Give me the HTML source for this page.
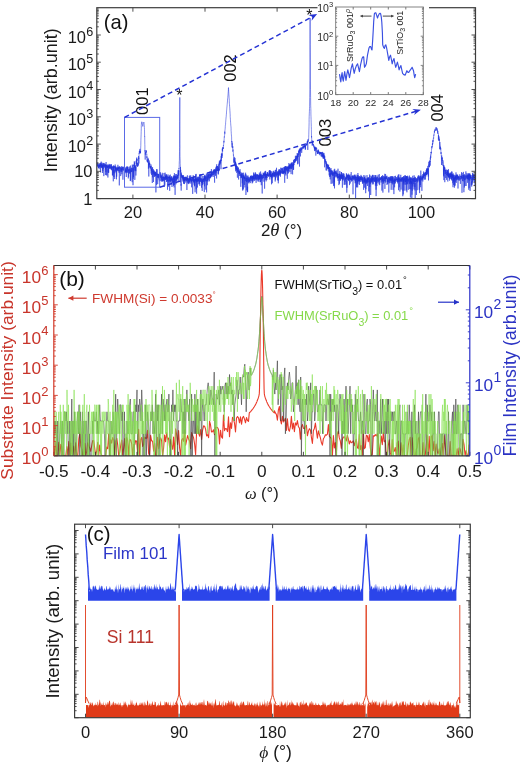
<!DOCTYPE html>
<html><head><meta charset="utf-8"><title>XRD figure</title>
<style>html,body{margin:0;padding:0;background:#fff;} svg{display:block;}</style>
</head><body>
<svg width="520" height="763" viewBox="0 0 520 763" font-family='"Liberation Sans", Arial, Helvetica, sans-serif'>
<rect width="520" height="763" fill="#fff"/>
<clipPath id="ca"><rect x="96.8" y="7.7" width="378.7" height="190.9"/></clipPath>
<g clip-path="url(#ca)">
<polyline points="96.8,164.7 96.9,164.2 97,165.2 97.1,166.2 97.2,165.5 97.3,166.4 97.3,164.6 97.4,162.4 97.5,165.6 97.6,165.8 97.7,163.9 97.8,164.1 97.9,164.6 98,166.3 98.1,164.8 98.2,163.6 98.2,167.1 98.3,165.6 98.4,168 98.5,167 98.6,167.9 98.7,165.2 98.8,167 98.9,164.3 99,164.6 99.1,165.2 99.1,169.2 99.2,165.8 99.3,164.9 99.4,164.7 99.5,167.5 99.6,165.7 99.7,166.6 99.8,166.3 99.9,163.1 100,166.3 100,165 100.1,163.4 100.2,166 100.3,165.2 100.4,164.8 100.5,172.4 100.6,167.1 100.7,164.9 100.8,162.7 100.9,167.7 100.9,163.6 101,164.9 101.1,166.2 101.2,161.6 101.3,163.8 101.4,167.2 101.5,165 101.6,164.1 101.7,165.5 101.8,167.5 101.8,165.3 101.9,168.1 102,162.7 102.1,166.4 102.2,164.9 102.3,166.1 102.4,173 102.5,167.3 102.6,166.3 102.7,165.6 102.8,171 102.8,163.3 102.9,167.6 103,166.7 103.1,164.3 103.2,168.9 103.3,166.2 103.4,165.6 103.5,163.3 103.6,164.3 103.7,166 103.7,166.1 103.8,176.1 103.9,162.9 104,166.3 104.1,166.1 104.2,164.9 104.3,165.8 104.4,165.9 104.5,167.6 104.6,165.6 104.6,166.4 104.7,163.6 104.8,164.5 104.9,165.7 105,164.5 105.1,166.3 105.2,163.9 105.3,165.8 105.4,175 105.5,168.1 105.5,165.2 105.6,168.8 105.7,169.4 105.8,166.4 105.9,172 106,165.6 106.1,162 106.2,167.4 106.3,175.2 106.4,175.1 106.4,165.1 106.5,166.3 106.6,166.4 106.7,164.8 106.8,165.1 106.9,167.9 107,175.5 107.1,166 107.2,168 107.3,165.7 107.3,167.7 107.4,164.5 107.5,165.9 107.6,166.1 107.7,167.3 107.8,166.5 107.9,177.5 108,168.3 108.1,165.7 108.2,170.1 108.3,172.1 108.3,169.5 108.4,172.8 108.5,167.9 108.6,165 108.7,172.8 108.8,169.2 108.9,164.3 109,163.9 109.1,166.6 109.2,167 109.2,166.8 109.3,168.3 109.4,164.6 109.5,167.6 109.6,166.7 109.7,168.1 109.8,167.8 109.9,169 110,164.5 110.1,167 110.1,165 110.2,166.8 110.3,168 110.4,167.4 110.5,167.8 110.6,166.8 110.7,167.5 110.8,167.4 110.9,169.4 111,168.4 111,164 111.1,168.2 111.2,168.9 111.3,166.4 111.4,164.5 111.5,169.7 111.6,167.5 111.7,168.2 111.8,170.3 111.9,165.8 111.9,167.2 112,167 112.1,168.6 112.2,166.4 112.3,168.2 112.4,175.4 112.5,169.3 112.6,169.5 112.7,175.3 112.8,174.4 112.8,166.8 112.9,167.4 113,168.2 113.1,168.3 113.2,166.3 113.3,181.3 113.4,167.8 113.5,167.5 113.6,165.4 113.7,173.2 113.8,166.9 113.8,168.6 113.9,177 114,165.9 114.1,165.9 114.2,167.9 114.3,166.7 114.4,166.3 114.5,166.2 114.6,166.1 114.7,179 114.7,170.4 114.8,170.1 114.9,173.2 115,167 115.1,166.3 115.2,164.5 115.3,165.2 115.4,170 115.5,171.1 115.6,166.5 115.6,169.9 115.7,168.1 115.8,166.5 115.9,171.1 116,172 116.1,167.6 116.2,168.1 116.3,168.6 116.4,168.1 116.5,179.3 116.5,171 116.6,168.6 116.7,176.7 116.8,171.3 116.9,167.4 117,168.4 117.1,167.6 117.2,170.2 117.3,169.6 117.4,170.3 117.4,170.1 117.5,168.1 117.6,169.9 117.7,167.8 117.8,167.9 117.9,164.8 118,171.1 118.1,166.9 118.2,168.8 118.3,168.6 118.3,171.3 118.4,169.5 118.5,167.3 118.6,168.9 118.7,168.6 118.8,169.3 118.9,166.6 119,168.8 119.1,172.9 119.2,170.1 119.3,172.5 119.3,185.4 119.4,169.9 119.5,166.4 119.6,168.8 119.7,171.1 119.8,170.7 119.9,166.9 120,168.7 120.1,168.9 120.2,169.2 120.2,169 120.3,167.6 120.4,168.1 120.5,168.7 120.6,171.1 120.7,176.1 120.8,170.5 120.9,167.2 121,171.6 121.1,169.5 121.1,169.3 121.2,171.8 121.3,166.1 121.4,166.6 121.5,170.2 121.6,167.9 121.7,168.7 121.8,174.3 121.9,169 122,169.6 122,169.3 122.1,171.5 122.2,170 122.3,169.9 122.4,167.3 122.5,168.9 122.6,169.6 122.7,166.7 122.8,170.7 122.9,174.7 122.9,179.7 123,166.7 123.1,167.9 123.2,168 123.3,168.5 123.4,169.5 123.5,169.4 123.6,170.3 123.7,170.2 123.8,169.7 123.9,167 123.9,168.8 124,170 124.1,171 124.2,171.1 124.3,166.9 124.4,169 124.5,169.8 124.6,170.6 124.7,172.1 124.8,170.2 124.8,168.4 124.9,170.8 125,170.5 125.1,170.5 125.2,169.9 125.3,173.2 125.4,170.6 125.5,171.8 125.6,168.5 125.7,171.7 125.7,169.1 125.8,167.3 125.9,170.8 126,171.4 126.1,169.9 126.2,170.3 126.3,177 126.4,169.4 126.5,166.5 126.6,170.8 126.6,170.8 126.7,172.4 126.8,169.8 126.9,172.8 127,172.1 127.1,167.5 127.2,171.7 127.3,167.9 127.4,167.1 127.5,169.5 127.5,169 127.6,166.3 127.7,170.4 127.8,171.2 127.9,172.6 128,169.9 128.1,167.2 128.2,175.4 128.3,178.4 128.4,171.7 128.4,171 128.5,169.5 128.6,176.8 128.7,169.6 128.8,169.5 128.9,170.6 129,170.1 129.1,169.6 129.2,170.2 129.3,169.1 129.4,166.5 129.4,168.9 129.5,169.9 129.6,173.2 129.7,169.3 129.8,173.7 129.9,172.7 130,168.4 130.1,168.6 130.2,170.3 130.3,173.2 130.3,181.1 130.4,171.1 130.5,168.7 130.6,165.6 130.7,180.5 130.8,171.4 130.9,172.1 131,170 131.1,170.2 131.2,172.1 131.2,169.6 131.3,172 131.4,167.7 131.5,167.8 131.6,167.7 131.7,170.7 131.8,168.3 131.9,168.8 132,168.8 132.1,168.2 132.1,169.4 132.2,182.2 132.3,164.6 132.4,166.4 132.5,166.4 132.6,165.7 132.7,171.5 132.8,170.4 132.9,169.2 133,168.7 133,185.2 133.1,167.5 133.2,178.8 133.3,171.7 133.4,171.1 133.5,177 133.6,167.5 133.7,171.5 133.8,165.1 133.9,166.1 133.9,164.4 134,167.1 134.1,166.7 134.2,167.9 134.3,161.3 134.4,165.8 134.5,162.5 134.6,166.7 134.7,165.8 134.8,179.9 134.9,178.5 134.9,165.9 135,170.5 135.1,166.7 135.2,168 135.3,170.5 135.4,169.1 135.5,168.3 135.6,166.8 135.7,166.9 135.8,171.2 135.8,165.1 135.9,175.5 136,165.5 136.1,162.8 136.2,160.6 136.3,163.8 136.4,160.9 136.5,165.6 136.6,161.8 136.7,158.6 136.7,160.6 136.8,157.5 136.9,160.9 137,159.1 137.1,161.4 137.2,164 137.3,163.2 137.4,165.9 137.5,164.6 137.6,165.5 137.6,167 137.7,165.1 137.8,164.5 137.9,162.6 138,165.4 138.1,163.6 138.2,165.5 138.3,165.6 138.4,162.4 138.5,162.5 138.5,158.7 138.6,156 138.7,159 138.8,157.6 138.9,163.5 139,155.9 139.1,153.1 139.2,153.7 139.3,153.2 139.4,151.2 139.4,152.5 139.5,150.7 139.6,152.4 139.7,152.7 139.8,153.4 139.9,148.9 140,152 140.1,151.7 140.2,152.5 140.3,152.7 140.4,153.1 140.4,150.9 140.5,153.2 140.6,151.2 140.7,147.9 140.8,145.3 140.9,140.3 141,137.2 141.1,134.9 141.2,131.5 141.3,128.3 141.3,125.6 141.4,124.4 141.5,122.5 141.6,122.5 141.7,121.9 141.8,122.1 141.9,121.9 142,122.1 142.1,122.2 142.2,122.3 142.2,123.5 142.3,123.9 142.4,124.6 142.5,125.4 142.6,125.6 142.7,126.1 142.8,126.4 142.9,125.9 143,125.6 143.1,124.7 143.1,124.1 143.2,123.5 143.3,123 143.4,123 143.5,122.8 143.6,122.6 143.7,122.6 143.8,122.6 143.9,122.4 144,122.8 144,122.6 144.1,123.7 144.2,124.6 144.3,125.7 144.4,127.6 144.5,129.7 144.6,136.6 144.7,136.2 144.8,144.3 144.9,146 144.9,151.5 145,150.3 145.1,152.6 145.2,159.6 145.3,152.2 145.4,154.7 145.5,152.2 145.6,152.3 145.7,152.5 145.8,152.3 145.9,151.6 145.9,151.8 146,150.8 146.1,150.9 146.2,150.1 146.3,152.3 146.4,151.2 146.5,152 146.6,153.3 146.7,154.5 146.8,154.2 146.8,158.2 146.9,156.3 147,157.6 147.1,161.3 147.2,159.3 147.3,161.8 147.4,162.1 147.5,160.8 147.6,160.6 147.7,160.4 147.7,162.5 147.8,159 147.9,157.8 148,157.8 148.1,158.7 148.2,161.8 148.3,158.8 148.4,168.7 148.5,166 148.6,162.1 148.6,166.1 148.7,166.6 148.8,176.5 148.9,162.8 149,165.1 149.1,163.5 149.2,160.5 149.3,167.4 149.4,163 149.5,162.9 149.5,164.3 149.6,164 149.7,162.9 149.8,163.8 149.9,165.1 150,164.4 150.1,168.3 150.2,167.9 150.3,167.2 150.4,167.3 150.4,166.1 150.5,166.9 150.6,167.8 150.7,166.2 150.8,168.2 150.9,168.9 151,164.5 151.1,173.6 151.2,166.2 151.3,170.6 151.4,168.8 151.4,170.1 151.5,171.5 151.6,175 151.7,172.1 151.8,169.4 151.9,170 152,171.5 152.1,170 152.2,168.3 152.3,183 152.3,169.4 152.4,167.9 152.5,168.3 152.6,167.1 152.7,177.3 152.8,171.3 152.9,172 153,171.1 153.1,173.8 153.2,172.9 153.2,171 153.3,169 153.4,173.3 153.5,182 153.6,172.7 153.7,170.4 153.8,173.2 153.9,170.3 154,175.2 154.1,173.7 154.1,173.8 154.2,171.9 154.3,171.4 154.4,176.6 154.5,175.5 154.6,173 154.7,175.1 154.8,176.9 154.9,171.7 155,172.9 155,172.9 155.1,174.9 155.2,171.9 155.3,174.6 155.4,171.9 155.5,176 155.6,176 155.7,173.8 155.8,175.7 155.9,172.9 155.9,192.4 156,176.3 156.1,174.3 156.2,175.2 156.3,172.6 156.4,175.6 156.5,184.9 156.6,183.7 156.7,169 156.8,169.3 156.9,172.9 156.9,172.3 157,169.5 157.1,172.7 157.2,175 157.3,173.3 157.4,177.7 157.5,176.3 157.6,178.5 157.7,184.2 157.8,173.8 157.8,176.8 157.9,175.6 158,174.9 158.1,174 158.2,176.1 158.3,174.4 158.4,177.3 158.5,176.2 158.6,178.4 158.7,173.9 158.7,176.3 158.8,177.9 158.9,177.1 159,176.8 159.1,174.9 159.2,179.8 159.3,178.6 159.4,181.3 159.5,175.7 159.6,174.4 159.6,176.7 159.7,175 159.8,172.1 159.9,177.1 160,177.4 160.1,174 160.2,175.6 160.3,175.2 160.4,177.7 160.5,172.5 160.5,173 160.6,175.5 160.7,175.3 160.8,181.1 160.9,175.4 161,177.2 161.1,175.9 161.2,175.4 161.3,177.6 161.4,180.5 161.4,176.1 161.5,178.5 161.6,177.6 161.7,178.2 161.8,177.7 161.9,181.9 162,174.4 162.1,176.5 162.2,174.6 162.3,172.8 162.4,177 162.4,181 162.5,179 162.6,179.7 162.7,178.2 162.8,177 162.9,181.5 163,176.4 163.1,180.5 163.2,176.6 163.3,177.5 163.3,177.9 163.4,177.4 163.5,178.4 163.6,178.6 163.7,180.9 163.8,177.4 163.9,179.3 164,173 164.1,174.5 164.2,175.8 164.2,178.9 164.3,186.9 164.4,177.5 164.5,177.6 164.6,178.1 164.7,177.3 164.8,185.5 164.9,177.7 165,179.9 165.1,178.3 165.1,172.6 165.2,177.7 165.3,178.1 165.4,176.4 165.5,176 165.6,180 165.7,178.1 165.8,175.6 165.9,177 166,177.4 166,174.3 166.1,179.1 166.2,177.5 166.3,178.8 166.4,174.5 166.5,182 166.6,179.2 166.7,178.9 166.8,176.3 166.9,176.4 166.9,174.7 167,181.2 167.1,176.2 167.2,178.5 167.3,179.3 167.4,176.7 167.5,189.7 167.6,182.4 167.7,178.7 167.8,181.2 167.9,179.3 167.9,177.1 168,177.2 168.1,174.5 168.2,178.4 168.3,181.3 168.4,186.7 168.5,180 168.6,180.6 168.7,177 168.8,179.4 168.8,182.3 168.9,176.5 169,178.3 169.1,177.3 169.2,177.8 169.3,176.7 169.4,178 169.5,175.4 169.6,177.2 169.7,190.8 169.7,177.2 169.8,181.3 169.9,178.5 170,178.7 170.1,177.7 170.2,181.1 170.3,174.6 170.4,178 170.5,180.8 170.6,181.9 170.6,178.8 170.7,178.4 170.8,179.8 170.9,184 171,179.7 171.1,177.1 171.2,179.9 171.3,178.4 171.4,176.2 171.5,180.5 171.5,180.5 171.6,179.3 171.7,180.2 171.8,176.6 171.9,180.8 172,187 172.1,178.4 172.2,180.5 172.3,180.5 172.4,179.4 172.4,183 172.5,181.6 172.6,179.3 172.7,178.1 172.8,178.8 172.9,182.3 173,179.4 173.1,176.7 173.2,177.2 173.3,178.6 173.4,180.4 173.4,177.1 173.5,185.9 173.6,181 173.7,185 173.8,175.3 173.9,178 174,176 174.1,187.4 174.2,176.5 174.3,179.9 174.3,184.9 174.4,173.1 174.5,176.9 174.6,179.7 174.7,178.8 174.8,182.2 174.9,175.9 175,179.7 175.1,194.9 175.2,179.2 175.2,178.6 175.3,178.4 175.4,175.8 175.5,177.9 175.6,176.9 175.7,181.1 175.8,176.8 175.9,174.1 176,184.3 176.1,178.1 176.1,177.7 176.2,174.1 176.3,179.9 176.4,178.1 176.5,176.8 176.6,176.1 176.7,178.6 176.8,181 176.9,178 177,177 177,177.5 177.1,179.5 177.2,177 177.3,174.9 177.4,178.7 177.5,177 177.6,174.8 177.7,178.4 177.8,175.5 177.9,177.9 178,173 178,170.3 178.1,170.7 178.2,175.1 178.3,172.8 178.4,173.8 178.5,173.5 178.6,170.2 178.7,175.7 178.8,170.5 178.9,181.4 178.9,168 179,168.7 179.1,168.4 179.2,164.6 179.3,161.6 179.4,160.3 179.5,151.7 179.6,147.7 179.7,121.5 179.8,97.4 179.8,97.8 179.8,121.2 179.9,143.3 180,156.5 180.1,158.8 180.2,163.6 180.3,166.3 180.4,172 180.5,166.9 180.6,182.5 180.7,169.9 180.7,174 180.8,175.3 180.9,178.2 181,185.7 181.1,183.6 181.2,190.6 181.3,172.8 181.4,172.6 181.5,176.2 181.6,174.7 181.6,174.3 181.7,177.4 181.8,175.5 181.9,176.5 182,177.8 182.1,177.9 182.2,176.8 182.3,177.1 182.4,178.5 182.5,178.4 182.5,175.1 182.6,177.2 182.7,175.9 182.8,181.5 182.9,176.7 183,179 183.1,180 183.2,176.5 183.3,179 183.4,175 183.5,175.3 183.5,183.3 183.6,181.2 183.7,177.6 183.8,177.3 183.9,184 184,179.2 184.1,178.1 184.2,177.7 184.3,179.3 184.4,176.8 184.4,184 184.5,184.1 184.6,181.4 184.7,177 184.8,179.6 184.9,181 185,178.3 185.1,181.1 185.2,181.1 185.3,182.5 185.3,179.2 185.4,178 185.5,176.9 185.6,179.4 185.7,176.9 185.8,179.1 185.9,179.3 186,177.9 186.1,176.8 186.2,179.9 186.2,179.7 186.3,179.5 186.4,179 186.5,181.1 186.6,176.9 186.7,180 186.8,178.2 186.9,190 187,178.4 187.1,178.3 187.1,180.1 187.2,182.4 187.3,178.4 187.4,175.3 187.5,177.1 187.6,180.6 187.7,180 187.8,178.2 187.9,179.1 188,179.1 188,179.8 188.1,183.2 188.2,179.7 188.3,184.1 188.4,178.4 188.5,180.8 188.6,180.8 188.7,179.7 188.8,178.6 188.9,182.4 189,183 189,181.6 189.1,183.7 189.2,181.3 189.3,175.8 189.4,181.5 189.5,177.8 189.6,182.2 189.7,178.6 189.8,179.9 189.9,179.4 189.9,178 190,175.4 190.1,178.8 190.2,179 190.3,181.4 190.4,178 190.5,179.8 190.6,177.5 190.7,179.4 190.8,175.5 190.8,183.6 190.9,179.9 191,177.4 191.1,180 191.2,181 191.3,179.9 191.4,182.3 191.5,179 191.6,187.3 191.7,182.8 191.7,181.7 191.8,181.2 191.9,180.2 192,177.1 192.1,181.1 192.2,180.8 192.3,177.4 192.4,177.4 192.5,180.1 192.6,181.7 192.6,182.7 192.7,193.9 192.8,184.2 192.9,177.7 193,180.7 193.1,178.3 193.2,175.2 193.3,176.8 193.4,181.8 193.5,177.4 193.5,176.8 193.6,181 193.7,181.4 193.8,179.6 193.9,182.8 194,176.1 194.1,184.6 194.2,181.8 194.3,179.9 194.4,179.8 194.5,186.3 194.5,178.7 194.6,179.8 194.7,185.6 194.8,184 194.9,179.3 195,180.9 195.1,192.3 195.2,178.9 195.3,181.3 195.4,180.8 195.4,177.6 195.5,178.6 195.6,180.8 195.7,174.9 195.8,174.3 195.9,182.6 196,178.7 196.1,173.9 196.2,189.2 196.3,178.9 196.3,179.8 196.4,180.6 196.5,179.8 196.6,193.7 196.7,177.7 196.8,180.2 196.9,180.3 197,182 197.1,179.5 197.2,181.3 197.2,179.8 197.3,177.1 197.4,178.6 197.5,187.5 197.6,178.6 197.7,179.3 197.8,179.7 197.9,180.1 198,177.7 198.1,181.8 198.1,176.5 198.2,179.3 198.3,181 198.4,180.5 198.5,180.9 198.6,179 198.7,181 198.8,176.9 198.9,181.1 199,184.4 199,181 199.1,183.8 199.2,179.5 199.3,177.1 199.4,178 199.5,182.3 199.6,181.1 199.7,175.5 199.8,185.8 199.9,179.4 200,177.1 200,174.1 200.1,176.6 200.2,179.1 200.3,178.6 200.4,178.1 200.5,180.8 200.6,181.7 200.7,179.3 200.8,181.5 200.9,179.6 200.9,179.2 201,174.3 201.1,181.3 201.2,179.7 201.3,179.8 201.4,178.5 201.5,187.7 201.6,180.5 201.7,181.2 201.8,183 201.8,181.4 201.9,178.3 202,179.3 202.1,181.6 202.2,190.9 202.3,179.4 202.4,182.8 202.5,180.7 202.6,185.1 202.7,183.4 202.7,181.9 202.8,175.9 202.9,184.2 203,180.2 203.1,179 203.2,180.3 203.3,181.2 203.4,179.6 203.5,179.5 203.6,179.6 203.6,182.1 203.7,178.3 203.8,179.9 203.9,179.2 204,177.5 204.1,176.5 204.2,176 204.3,192.1 204.4,175.9 204.5,186.3 204.5,175.4 204.6,174.8 204.7,178.1 204.8,178.2 204.9,175.9 205,180.7 205.1,177.2 205.2,178.8 205.3,178.5 205.4,181.4 205.5,179.5 205.5,177.6 205.6,175.6 205.7,175.4 205.8,189.6 205.9,177.9 206,179.3 206.1,176.5 206.2,177.9 206.3,176 206.4,173.5 206.4,177.4 206.5,186.4 206.6,192.4 206.7,180.4 206.8,179.8 206.9,181.2 207,176.6 207.1,180.4 207.2,181 207.3,174.3 207.3,185.2 207.4,178.4 207.5,177.7 207.6,176.3 207.7,175.5 207.8,174.3 207.9,174.2 208,181.5 208.1,173.8 208.2,175.3 208.2,179.9 208.3,176.9 208.4,175.9 208.5,177.3 208.6,174.5 208.7,177.2 208.8,178.4 208.9,173.3 209,174.9 209.1,175.8 209.1,174.3 209.2,173.9 209.3,175.4 209.4,181.3 209.5,177.5 209.6,177 209.7,178.1 209.8,175.5 209.9,173.4 210,176.9 210,178.2 210.1,171.5 210.2,176.6 210.3,178.2 210.4,175.1 210.5,174.6 210.6,177 210.7,173.8 210.8,176.4 210.9,177.3 211,174.9 211,173.6 211.1,176.5 211.2,174.4 211.3,175.3 211.4,169.1 211.5,176.4 211.6,172 211.7,175 211.8,175.1 211.9,173.2 211.9,172.8 212,172 212.1,173.8 212.2,175.7 212.3,175.5 212.4,173.2 212.5,173 212.6,171.3 212.7,173.2 212.8,171.8 212.8,175.1 212.9,173.5 213,176.7 213.1,176 213.2,176.5 213.3,170.2 213.4,175.1 213.5,170.8 213.6,172 213.7,169.6 213.7,171 213.8,173.1 213.9,173.2 214,172.5 214.1,172.3 214.2,173.6 214.3,172.5 214.4,169.1 214.5,175.6 214.6,182.7 214.6,173.8 214.7,171.5 214.8,170.1 214.9,171.8 215,170.1 215.1,174.6 215.2,169.2 215.3,172.4 215.4,169.9 215.5,170.7 215.5,175.9 215.6,172.3 215.7,170.3 215.8,167.6 215.9,169.9 216,169.8 216.1,172.9 216.2,167.4 216.3,166.5 216.4,169.8 216.5,170.1 216.5,172.6 216.6,178.5 216.7,164.3 216.8,167.9 216.9,166.7 217,167.9 217.1,170.6 217.2,166.1 217.3,170.6 217.4,168.6 217.4,167.5 217.5,166.2 217.6,166.9 217.7,166.7 217.8,168.6 217.9,169.4 218,166.8 218.1,167.9 218.2,173.7 218.3,168.5 218.3,174.5 218.4,169.1 218.5,168 218.6,168.3 218.7,164.9 218.8,164.3 218.9,171.2 219,167.2 219.1,165.6 219.2,162.7 219.2,170.3 219.3,164.3 219.4,160.7 219.5,163.9 219.6,165 219.7,165.1 219.8,162.1 219.9,161.9 220,164.4 220.1,163.6 220.1,160.9 220.2,160.6 220.3,162.3 220.4,160.1 220.5,159.9 220.6,163.4 220.7,160.8 220.8,159.5 220.9,160.8 221,169.2 221,159.8 221.1,157.8 221.2,156.1 221.3,161.1 221.4,153.6 221.5,158.5 221.6,155 221.7,154.1 221.8,154 221.9,154.6 222,155.8 222,152.9 222.1,157.9 222.2,155.9 222.3,148.6 222.4,150.7 222.5,148.8 222.6,151.6 222.7,148.2 222.8,147.5 222.9,147.1 222.9,148.3 223,149 223.1,147.3 223.2,148.9 223.3,147.8 223.4,145.4 223.5,145.9 223.6,144.5 223.7,143.8 223.8,141.2 223.8,140.9 223.9,141.1 224,142.4 224.1,139.9 224.2,138.6 224.3,136.7 224.4,137.3 224.5,135.7 224.6,135.3 224.7,133.5 224.7,131.7 224.8,133.7 224.9,130.6 225,130.2 225.1,129.3 225.2,128.3 225.3,126.4 225.4,125.2 225.5,124.8 225.6,124 225.6,122.6 225.7,121.7 225.8,120.4 225.9,119.4 226,118.3 226.1,117.2 226.2,116.7 226.3,115.1 226.4,114.3 226.5,112.9 226.5,111.9 226.6,110.7 226.7,109.6 226.8,108.4 226.9,107.3 227,106.4 227.1,105.3 227.2,104.5 227.3,103.1 227.4,102 227.5,101 227.5,100.1 227.6,98.9 227.7,98.1 227.8,97.3 227.9,96 228,95.1 228.1,93.6 228.2,92.4 228.3,91.2 228.4,89.7 228.4,88.3 228.5,87.6 228.6,89.6 228.7,91.4 228.8,93.2 228.9,94.7 229,96 229.1,97.8 229.2,98.8 229.3,100.4 229.3,101.8 229.4,103.4 229.5,104.7 229.6,106.3 229.7,107.5 229.8,108.8 229.9,110.4 230,112 230.1,113.4 230.2,114.9 230.2,116.4 230.3,117.7 230.4,119.2 230.5,120.8 230.6,122.4 230.7,123.7 230.8,125.2 230.9,126.2 231,126.9 231.1,128.8 231.1,130.5 231.2,131.8 231.3,133.5 231.4,134.9 231.5,136.2 231.6,137.1 231.7,142.2 231.8,141.4 231.9,141 232,147.4 232.1,144.3 232.1,142.5 232.2,144.3 232.3,143.8 232.4,145.5 232.5,145.5 232.6,148.2 232.7,147.8 232.8,146.3 232.9,151.6 233,149.5 233,149.5 233.1,151.8 233.2,152.1 233.3,152.1 233.4,155.4 233.5,154.7 233.6,157.2 233.7,157.6 233.8,158.2 233.9,163.2 233.9,158.5 234,158.7 234.1,161.9 234.2,156.9 234.3,158.5 234.4,159.5 234.5,161.5 234.6,161.4 234.7,160.7 234.8,161.2 234.8,165 234.9,161.3 235,157.9 235.1,166.3 235.2,161.7 235.3,163.1 235.4,164.2 235.5,161.9 235.6,171.3 235.7,164.6 235.7,162.5 235.8,169.5 235.9,166.4 236,165.8 236.1,167 236.2,163.7 236.3,168.4 236.4,165.4 236.5,169.6 236.6,166.3 236.6,168 236.7,172.9 236.8,168.3 236.9,170.5 237,169.6 237.1,166 237.2,171.3 237.3,171.4 237.4,177.7 237.5,169.4 237.6,166.8 237.6,169.3 237.7,171.9 237.8,170.4 237.9,168 238,168.7 238.1,170.8 238.2,170.8 238.3,171.3 238.4,172.4 238.5,167.5 238.5,171.5 238.6,179.5 238.7,172.7 238.8,170.4 238.9,170.7 239,172.5 239.1,173.7 239.2,172.4 239.3,176 239.4,175.4 239.4,171.2 239.5,173.9 239.6,172.3 239.7,170.7 239.8,171.9 239.9,173.4 240,169.1 240.1,172.2 240.2,174.5 240.3,172.3 240.3,173.1 240.4,175.9 240.5,174 240.6,174.6 240.7,178.5 240.8,186.8 240.9,175.1 241,175.5 241.1,178.2 241.2,175.5 241.2,174.9 241.3,174.7 241.4,177.4 241.5,173.7 241.6,177.7 241.7,175.6 241.8,172.4 241.9,176.8 242,176.4 242.1,173.1 242.1,176.3 242.2,176.2 242.3,183.3 242.4,173.4 242.5,180.5 242.6,177.5 242.7,190.6 242.8,183 242.9,177.8 243,189.7 243.1,175.4 243.1,178 243.2,188.9 243.3,175.3 243.4,177.8 243.5,176 243.6,172.7 243.7,175.6 243.8,177.8 243.9,176.6 244,178.5 244,175.9 244.1,174.7 244.2,178.4 244.3,177.1 244.4,184.9 244.5,177.8 244.6,176.3 244.7,179 244.8,178.6 244.9,178 244.9,187.4 245,177.8 245.1,178.1 245.2,178.2 245.3,177.4 245.4,180.9 245.5,176.7 245.6,172.7 245.7,176.7 245.8,174 245.8,176.6 245.9,195 246,193.9 246.1,177.5 246.2,177.4 246.3,177.8 246.4,182 246.5,175.5 246.6,178.2 246.7,178.4 246.7,178 246.8,190.4 246.9,177.9 247,181.6 247.1,180.8 247.2,178.2 247.3,178.5 247.4,179.6 247.5,191.8 247.6,186.7 247.6,192.2 247.7,176.2 247.8,181.1 247.9,175.4 248,176.9 248.1,179.7 248.2,177 248.3,181.9 248.4,182.5 248.5,181.5 248.6,179.6 248.6,179.4 248.7,179.8 248.8,178.5 248.9,183.4 249,177.6 249.1,181.8 249.2,180.1 249.3,179.6 249.4,181.2 249.5,181.7 249.5,180.9 249.6,178.7 249.7,177.4 249.8,177.4 249.9,180.8 250,180.4 250.1,180.6 250.2,177.7 250.3,183.1 250.4,175.9 250.4,179.7 250.5,180.3 250.6,177.9 250.7,176.4 250.8,177.9 250.9,176.3 251,178.3 251.1,175.9 251.2,175.9 251.3,178.8 251.3,175.4 251.4,178.2 251.5,178.4 251.6,180.6 251.7,179.2 251.8,176.9 251.9,181.4 252,177.1 252.1,177.8 252.2,177.9 252.2,183.4 252.3,178.8 252.4,176.1 252.5,179.1 252.6,177.3 252.7,182.6 252.8,176 252.9,178.9 253,175.5 253.1,181.4 253.1,175.9 253.2,177.9 253.3,175.6 253.4,179.4 253.5,178.7 253.6,172.5 253.7,179.1 253.8,178.9 253.9,177.9 254,179.5 254.1,174.7 254.1,173.5 254.2,178.8 254.3,181 254.4,174.7 254.5,174.8 254.6,175.4 254.7,174.7 254.8,179.1 254.9,177.5 255,180.2 255,180.2 255.1,175 255.2,178.6 255.3,172.2 255.4,176.9 255.5,178.5 255.6,175.4 255.7,173.2 255.8,176 255.9,179.7 255.9,176.2 256,174 256.1,182.9 256.2,178.7 256.3,174.8 256.4,176.7 256.5,179.3 256.6,177.8 256.7,178.6 256.8,176.3 256.8,176.7 256.9,174.4 257,175.3 257.1,180.2 257.2,176 257.3,174.9 257.4,175.8 257.5,174.6 257.6,178 257.7,178.8 257.7,174.8 257.8,179.1 257.9,181.4 258,174.5 258.1,178.3 258.2,177.4 258.3,179.7 258.4,179.5 258.5,179.2 258.6,177.4 258.6,175.8 258.7,181.6 258.8,175 258.9,179.1 259,178.9 259.1,175.1 259.2,176.7 259.3,179.8 259.4,172.6 259.5,178.4 259.6,176 259.6,176.1 259.7,178.7 259.8,177.4 259.9,174.3 260,178 260.1,174 260.2,182.2 260.3,177.2 260.4,181.9 260.5,175.7 260.5,176.1 260.6,171.5 260.7,175.5 260.8,178 260.9,174.7 261,178.8 261.1,173.8 261.2,173.7 261.3,185.2 261.4,177.5 261.4,175.8 261.5,176.1 261.6,178.2 261.7,174.9 261.8,180.5 261.9,177 262,177 262.1,181.4 262.2,193.5 262.3,178.7 262.3,174.8 262.4,176.4 262.5,177.4 262.6,178.9 262.7,178.5 262.8,175.2 262.9,178 263,175.8 263.1,173.6 263.2,173.7 263.2,172.6 263.3,176.5 263.4,178.1 263.5,173.6 263.6,175.1 263.7,173.4 263.8,175.7 263.9,181.7 264,173.9 264.1,174.2 264.1,174.6 264.2,174.8 264.3,175.2 264.4,175.1 264.5,173.5 264.6,188.7 264.7,171.9 264.8,175.8 264.9,173.5 265,175.7 265.1,176 265.1,171.2 265.2,176.1 265.3,178.1 265.4,176.9 265.5,176.1 265.6,170.9 265.7,179.8 265.8,173.4 265.9,177.5 266,174.6 266,173.9 266.1,181.4 266.2,176.8 266.3,174 266.4,174.7 266.5,177.4 266.6,175.3 266.7,175.8 266.8,180.1 266.9,174 266.9,174.1 267,176.1 267.1,178 267.2,172.1 267.3,174.6 267.4,173 267.5,172.2 267.6,176.2 267.7,173.4 267.8,175.6 267.8,175.2 267.9,175.2 268,175 268.1,172.7 268.2,174.8 268.3,175.3 268.4,175.6 268.5,174.3 268.6,176.8 268.7,176 268.7,175 268.8,176.1 268.9,175.1 269,176.1 269.1,170.7 269.2,172.1 269.3,173.9 269.4,174.9 269.5,170.2 269.6,174.1 269.6,174.9 269.7,174.1 269.8,179.5 269.9,171.8 270,174.7 270.1,170.3 270.2,176.5 270.3,173.2 270.4,176.7 270.5,170.8 270.6,175.3 270.6,174.7 270.7,172.6 270.8,171.9 270.9,176.8 271,175.2 271.1,177.4 271.2,174.2 271.3,174.7 271.4,175.2 271.5,184.3 271.5,175.2 271.6,175.9 271.7,173.3 271.8,171.2 271.9,178.3 272,174.6 272.1,175.2 272.2,173.3 272.3,183.2 272.4,174.5 272.4,176.4 272.5,172.8 272.6,174 272.7,174.5 272.8,173.4 272.9,174.6 273,177.3 273.1,172.9 273.2,173.5 273.3,174.4 273.3,172 273.4,171.5 273.5,176.2 273.6,175.6 273.7,170.8 273.8,171 273.9,175.4 274,176.3 274.1,175.2 274.2,174.9 274.2,177.1 274.3,173.7 274.4,176.4 274.5,176.2 274.6,171.9 274.7,175.1 274.8,173.8 274.9,172.4 275,172 275.1,174.3 275.1,173.5 275.2,181.5 275.3,170 275.4,172.2 275.5,179.7 275.6,173.5 275.7,172 275.8,172.5 275.9,169.7 276,170.6 276.1,174.5 276.1,173.5 276.2,175.9 276.3,172.8 276.4,173 276.5,167.8 276.6,173 276.7,177.4 276.8,174.5 276.9,172.9 277,175.6 277,174.8 277.1,173.8 277.2,172.3 277.3,173.3 277.4,174.8 277.5,171.4 277.6,174 277.7,173.9 277.8,175.6 277.9,174.4 277.9,180.3 278,176 278.1,180.5 278.2,171.3 278.3,183.3 278.4,172.2 278.5,174.9 278.6,175.4 278.7,170.4 278.8,172.1 278.8,176 278.9,174.6 279,170.5 279.1,169 279.2,171.8 279.3,169.9 279.4,173.6 279.5,172.7 279.6,172.3 279.7,171.4 279.7,175.3 279.8,170.3 279.9,169.5 280,174.4 280.1,174.8 280.2,171.4 280.3,173.3 280.4,176.7 280.5,170.4 280.6,171.6 280.6,172.9 280.7,167.7 280.8,171.6 280.9,173.3 281,171.6 281.1,173.8 281.2,173.2 281.3,170.9 281.4,172.7 281.5,172.5 281.6,168.3 281.6,169.9 281.7,169.9 281.8,170.4 281.9,170.5 282,168.6 282.1,171.4 282.2,167.7 282.3,173.2 282.4,171.8 282.5,173.9 282.5,171.9 282.6,170.2 282.7,168.3 282.8,172.4 282.9,171.1 283,171.7 283.1,172.4 283.2,173.3 283.3,170.8 283.4,174.2 283.4,170.6 283.5,170.8 283.6,172.1 283.7,172.7 283.8,173.4 283.9,167.1 284,173.2 284.1,167.6 284.2,169.4 284.3,171.2 284.3,172.7 284.4,168.4 284.5,167.1 284.6,172.2 284.7,182.8 284.8,168.3 284.9,169.6 285,166.4 285.1,171.3 285.2,172.9 285.2,172.5 285.3,166.1 285.4,171.4 285.5,174.1 285.6,170.1 285.7,170.1 285.8,166.1 285.9,175.5 286,169.7 286.1,168.5 286.2,166.5 286.2,169.6 286.3,167.4 286.4,168.4 286.5,169.8 286.6,169.1 286.7,169.1 286.8,170.8 286.9,166.8 287,171.6 287.1,166.7 287.1,167.1 287.2,168.9 287.3,178.8 287.4,169.1 287.5,167.7 287.6,167.1 287.7,167.9 287.8,166.6 287.9,173.9 288,167.8 288,171.1 288.1,166.7 288.2,167.8 288.3,168.8 288.4,165.8 288.5,166.6 288.6,172.9 288.7,167.7 288.8,170.3 288.9,171.1 288.9,163 289,168.4 289.1,167.3 289.2,167.8 289.3,166.6 289.4,166 289.5,164.8 289.6,168.8 289.7,164.2 289.8,168.6 289.8,166.3 289.9,172 290,165.4 290.1,168.3 290.2,167.8 290.3,167.3 290.4,166.5 290.5,164.3 290.6,168.6 290.7,165.4 290.7,165.1 290.8,165.1 290.9,165.2 291,163.2 291.1,174.1 291.2,164.3 291.3,164.7 291.4,162.5 291.5,168.9 291.6,163.2 291.7,165.8 291.7,165.8 291.8,166.9 291.9,168.4 292,165.8 292.1,166.2 292.2,164 292.3,167.3 292.4,162.2 292.5,164 292.6,174.4 292.6,165.4 292.7,165.4 292.8,165.9 292.9,164.7 293,163.7 293.1,163.9 293.2,165.8 293.3,163.7 293.4,170 293.5,162.7 293.5,159.8 293.6,169.5 293.7,163.1 293.8,165.1 293.9,164.6 294,164.9 294.1,160.9 294.2,163.1 294.3,161.6 294.4,162.6 294.4,161.3 294.5,159.1 294.6,162.2 294.7,161.6 294.8,162.1 294.9,159.4 295,162.2 295.1,162.2 295.2,162.4 295.3,162.3 295.3,159.3 295.4,155.9 295.5,161.2 295.6,158.1 295.7,159 295.8,160.9 295.9,159.4 296,159.2 296.1,159.7 296.2,155.6 296.2,161.1 296.3,157.6 296.4,157.4 296.5,158.6 296.6,157.3 296.7,156.1 296.8,157 296.9,156.4 297,155.8 297.1,159.5 297.2,157.1 297.2,153 297.3,154.7 297.4,154.4 297.5,157.6 297.6,155.6 297.7,164.3 297.8,155.9 297.9,153.6 298,163.6 298.1,154.7 298.1,156.9 298.2,154.3 298.3,153.8 298.4,154.6 298.5,154.5 298.6,150.9 298.7,154.7 298.8,154.3 298.9,153.8 299,151 299,149.7 299.1,151.7 299.2,152.8 299.3,152.3 299.4,150.2 299.5,166.6 299.6,149.4 299.7,149.2 299.8,150.6 299.9,149.7 299.9,149.4 300,148.3 300.1,151.3 300.2,148.6 300.3,150.3 300.4,150.7 300.5,156.4 300.6,149.9 300.7,150.7 300.8,151.3 300.8,150.4 300.9,147.6 301,150.1 301.1,148.3 301.2,147.6 301.3,149.5 301.4,148.9 301.5,148.4 301.6,149.9 301.7,149.7 301.7,152.9 301.8,148.7 301.9,149.5 302,147.8 302.1,148.4 302.2,146.9 302.3,148 302.4,148.2 302.5,147.6 302.6,147.9 302.7,148.3 302.7,148 302.8,146.6 302.9,146.6 303,145.9 303.1,149 303.2,147.6 303.3,147.5 303.4,146.8 303.5,147.4 303.6,147.4 303.6,146 303.7,146.6 303.8,147.9 303.9,145.2 304,145.5 304.1,147.1 304.2,145.6 304.3,147.2 304.4,145.1 304.5,146.5 304.5,147 304.6,146.5 304.7,146.9 304.8,145.8 304.9,145.8 305,145.8 305.1,146.4 305.2,149.5 305.3,145.6 305.4,147.5 305.4,145.3 305.5,149.5 305.6,145.1 305.7,145.7 305.8,145.5 305.9,145.4 306,145.7 306.1,145.7 306.2,146 306.3,143.8 306.3,144.9 306.4,143.9 306.5,145 306.6,144.5 306.7,144.5 306.8,143.7 306.9,145 307,143.4 307.1,144.1 307.2,143.9 307.2,141.5 307.3,143 307.4,142.8 307.5,141 307.6,141.1 307.7,146.3 307.8,149.9 307.9,139.4 308,140.9 308.1,140.5 308.2,140.9 308.2,141.7 308.3,141.4 308.4,139.7 308.5,139.5 308.6,139.8 308.7,137.6 308.8,134.2 308.9,130 309,126.8 309.1,122.6 309.1,119.3 309.2,116.5 309.3,113.9 309.4,111.8 309.5,108.7 309.6,106.2 309.7,97.6 309.8,89.2 309.9,80.8 310,67 310,44.8 310.1,18.1 310.1,18.1 310.2,44.8 310.3,66.9 310.4,81 310.5,89.3 310.6,97.7 310.7,105.7 310.8,108.5 310.9,111.2 310.9,114.1 311,116.7 311.1,119.5 311.2,122.8 311.3,126.4 311.4,129.6 311.5,137.4 311.6,136.2 311.7,139.4 311.8,140.1 311.8,140.3 311.9,140.8 312,140.1 312.1,141.3 312.2,145.6 312.3,141.9 312.4,143.2 312.5,141.3 312.6,143.4 312.7,142.1 312.7,142.6 312.8,144.8 312.9,144.5 313,144.3 313.1,144.9 313.2,145.5 313.3,143.9 313.4,145.2 313.5,144.8 313.6,145.9 313.7,145.5 313.7,146.8 313.8,146.2 313.9,145.7 314,146.4 314.1,147.1 314.2,147.9 314.3,146.7 314.4,149.4 314.5,147.4 314.6,148 314.6,146.8 314.7,151.1 314.8,147.9 314.9,147.4 315,147.4 315.1,150.8 315.2,148 315.3,149 315.4,146.8 315.5,148.8 315.5,149.5 315.6,149 315.7,148.7 315.8,155.6 315.9,154.2 316,150.8 316.1,149.6 316.2,148.6 316.3,147.3 316.4,148.9 316.4,149.5 316.5,148.6 316.6,148.9 316.7,148.3 316.8,152.1 316.9,150.6 317,150.3 317.1,150.5 317.2,150.5 317.3,150.7 317.3,152.1 317.4,153.7 317.5,152.1 317.6,153.8 317.7,151.3 317.8,151.4 317.9,153.5 318,150.7 318.1,150.5 318.2,151.6 318.2,149.7 318.3,149.5 318.4,153.4 318.5,150.6 318.6,151.4 318.7,151.5 318.8,150.9 318.9,153.1 319,153 319.1,153.3 319.2,153.3 319.2,152.5 319.3,154.3 319.4,153.9 319.5,151.9 319.6,152.7 319.7,152.2 319.8,155.2 319.9,153.8 320,153.6 320.1,152.9 320.1,153.8 320.2,151.9 320.3,153.2 320.4,153.2 320.5,153.2 320.6,152.4 320.7,154 320.8,152 320.9,152.9 321,153.4 321,153.6 321.1,156.3 321.2,152.5 321.3,152.6 321.4,153.4 321.5,152.9 321.6,153.9 321.7,152.5 321.8,154.3 321.9,157.1 321.9,152.6 322,154.3 322.1,156.1 322.2,154.9 322.3,155.9 322.4,151.9 322.5,154.2 322.6,157 322.7,154.3 322.8,155.6 322.8,152.5 322.9,156.7 323,158.4 323.1,155.3 323.2,155.9 323.3,156.1 323.4,158.5 323.5,155.1 323.6,153.4 323.7,158.5 323.7,154.3 323.8,156.7 323.9,152.9 324,155.9 324.1,157.1 324.2,155.5 324.3,156.7 324.4,158.6 324.5,156.9 324.6,167.3 324.7,161.2 324.7,155.8 324.8,159.6 324.9,160.3 325,159.2 325.1,162.4 325.2,162.3 325.3,161.3 325.4,161.6 325.5,160.9 325.6,159.5 325.6,162.3 325.7,161 325.8,161.1 325.9,164.1 326,162.3 326.1,170.4 326.2,161.4 326.3,162.7 326.4,163.7 326.5,166.2 326.5,164.1 326.6,165.8 326.7,163.6 326.8,170.5 326.9,166.7 327,163.9 327.1,164.5 327.2,167.1 327.3,164.2 327.4,167.1 327.4,167.3 327.5,166.8 327.6,168.6 327.7,168.3 327.8,168 327.9,165.1 328,165.4 328.1,168.9 328.2,165.6 328.3,168.8 328.3,168.1 328.4,167.3 328.5,168.5 328.6,164.6 328.7,168.8 328.8,171.6 328.9,167 329,170.3 329.1,170.2 329.2,175.4 329.2,167.9 329.3,168.3 329.4,168.5 329.5,168.2 329.6,167 329.7,177 329.8,168.6 329.9,171.9 330,171.2 330.1,168.6 330.2,179.4 330.2,173.4 330.3,175 330.4,176.4 330.5,172.7 330.6,170.3 330.7,172.1 330.8,174.4 330.9,173.6 331,168.1 331.1,183.9 331.1,171.3 331.2,170.6 331.3,170.6 331.4,174.4 331.5,172.7 331.6,171.8 331.7,170.6 331.8,173.6 331.9,174.7 332,170.4 332,170.3 332.1,171.8 332.2,173.9 332.3,183.5 332.4,172.6 332.5,171.2 332.6,175.5 332.7,172.8 332.8,173.4 332.9,175.4 332.9,172.8 333,173.2 333.1,174.2 333.2,172.7 333.3,176.4 333.4,173.7 333.5,172.8 333.6,173.2 333.7,171.6 333.8,186.1 333.8,176.9 333.9,185.7 334,173 334.1,169.6 334.2,172.7 334.3,182.2 334.4,172.4 334.5,188.4 334.6,177.2 334.7,168.8 334.7,173.5 334.8,172.8 334.9,173.1 335,170.6 335.1,173.7 335.2,171.8 335.3,176.5 335.4,177.3 335.5,171.5 335.6,171.4 335.7,173.5 335.7,174.1 335.8,174.2 335.9,176.1 336,171.5 336.1,173.3 336.2,173.7 336.3,174 336.4,172.6 336.5,173.8 336.6,173.3 336.6,177.3 336.7,173.8 336.8,170.4 336.9,176 337,175.3 337.1,173.2 337.2,173.1 337.3,173.8 337.4,178.5 337.5,174.1 337.5,177.7 337.6,176.9 337.7,174.1 337.8,175.9 337.9,173.6 338,168.7 338.1,180.9 338.2,173.9 338.3,177.3 338.4,176.8 338.4,177.7 338.5,176.6 338.6,177.8 338.7,176.9 338.8,176 338.9,185.1 339,178.6 339.1,178.5 339.2,174.7 339.3,175.6 339.3,173.6 339.4,173.5 339.5,183.8 339.6,174.4 339.7,178.9 339.8,171 339.9,173.3 340,176.4 340.1,178.4 340.2,175.1 340.3,179.9 340.3,177.7 340.4,180.9 340.5,175.9 340.6,177.1 340.7,174.1 340.8,178.3 340.9,175.5 341,177.2 341.1,178 341.2,175.2 341.2,178.3 341.3,172.2 341.4,177.5 341.5,172 341.6,178.6 341.7,175 341.8,178.9 341.9,179.2 342,176 342.1,175 342.1,179.2 342.2,173.9 342.3,178.2 342.4,187.7 342.5,175.7 342.6,175.3 342.7,180.4 342.8,173.1 342.9,175.4 343,177.5 343,178.8 343.1,180.3 343.2,179.6 343.3,175.5 343.4,177.4 343.5,179.2 343.6,177.9 343.7,173.4 343.8,177.5 343.9,178.1 343.9,173.9 344,175.8 344.1,176.8 344.2,184.9 344.3,180.2 344.4,179.4 344.5,178 344.6,177.4 344.7,176.2 344.8,175.8 344.8,176.5 344.9,184.5 345,179.2 345.1,181.7 345.2,178.2 345.3,179.1 345.4,178.5 345.5,177.7 345.6,179.8 345.7,179.5 345.8,177.4 345.8,176.9 345.9,178.6 346,184.7 346.1,177.7 346.2,179.4 346.3,177.2 346.4,173.2 346.5,178.7 346.6,174.8 346.7,174.3 346.7,174.1 346.8,192.7 346.9,180.2 347,187.8 347.1,177.9 347.2,177.9 347.3,176.1 347.4,177.3 347.5,177.8 347.6,174.7 347.6,179 347.7,179.8 347.8,175.8 347.9,176 348,175.1 348.1,179.9 348.2,175.2 348.3,176.5 348.4,173.7 348.5,180.3 348.5,177.1 348.6,178.2 348.7,181.1 348.8,179.2 348.9,175.2 349,178.7 349.1,179.3 349.2,175.8 349.3,175.6 349.4,175.6 349.4,179.5 349.5,185.1 349.6,175.5 349.7,179.2 349.8,179.4 349.9,176 350,174.4 350.1,180.3 350.2,183.5 350.3,181 350.3,180.1 350.4,178.2 350.5,176.5 350.6,178.2 350.7,179.4 350.8,177.6 350.9,180 351,178 351.1,179.4 351.2,172.1 351.3,176.2 351.3,179.8 351.4,180.2 351.5,179 351.6,181.6 351.7,179.6 351.8,179.7 351.9,176.1 352,179 352.1,179.8 352.2,181 352.2,180.7 352.3,178.2 352.4,178.6 352.5,175.7 352.6,179.5 352.7,175.8 352.8,177.6 352.9,178.2 353,194.3 353.1,181 353.1,176.6 353.2,175.2 353.3,177.8 353.4,176.6 353.5,179.1 353.6,179.1 353.7,179.7 353.8,176.1 353.9,177.5 354,178.8 354,179 354.1,177.1 354.2,177.6 354.3,180.1 354.4,174.6 354.5,177.8 354.6,178.3 354.7,175.1 354.8,176.1 354.9,178.6 354.9,177.2 355,180.7 355.1,179.8 355.2,183.3 355.3,175.7 355.4,182.6 355.5,176.9 355.6,199.6 355.7,180.6 355.8,178.9 355.8,177.9 355.9,177.1 356,174.6 356.1,177.7 356.2,176.6 356.3,179.8 356.4,176.9 356.5,178.2 356.6,187.3 356.7,183 356.8,178.7 356.8,187.2 356.9,177.7 357,179.7 357.1,180.2 357.2,176.9 357.3,182.3 357.4,179.9 357.5,175.2 357.6,184.5 357.7,187.4 357.7,177.1 357.8,182.2 357.9,173 358,184.3 358.1,182.1 358.2,175.2 358.3,176.7 358.4,179.1 358.5,177.9 358.6,180.6 358.6,176.9 358.7,181.1 358.8,179.3 358.9,176.5 359,181.1 359.1,179.5 359.2,178.4 359.3,181.6 359.4,176.2 359.5,184.9 359.5,182 359.6,178.8 359.7,180.4 359.8,180.2 359.9,178.6 360,180.3 360.1,176.7 360.2,180.3 360.3,176.6 360.4,178.9 360.4,176.9 360.5,180 360.6,180.6 360.7,182 360.8,178.3 360.9,177.5 361,174.9 361.1,176.7 361.2,179 361.3,180 361.3,178.7 361.4,179.6 361.5,176.3 361.6,177.5 361.7,181.4 361.8,181 361.9,176.5 362,178.9 362.1,180 362.2,176.9 362.3,180.4 362.3,180.1 362.4,180.5 362.5,183.8 362.6,177.6 362.7,182.2 362.8,180.8 362.9,181.2 363,177.9 363.1,179.7 363.2,179.5 363.2,183.2 363.3,179.7 363.4,182.8 363.5,183 363.6,189.8 363.7,179.6 363.8,175.1 363.9,178.4 364,178.2 364.1,179.2 364.1,180 364.2,177.4 364.3,177.1 364.4,182.4 364.5,177.2 364.6,187.7 364.7,177.4 364.8,178.5 364.9,182.2 365,182.1 365,175.5 365.1,179 365.2,182.6 365.3,178.8 365.4,180.3 365.5,183.6 365.6,184.5 365.7,193.2 365.8,178.9 365.9,189.2 365.9,180.1 366,178.9 366.1,178.2 366.2,184.1 366.3,180.2 366.4,181.3 366.5,182.2 366.6,180.7 366.7,179.8 366.8,180.1 366.8,182.7 366.9,180.6 367,175.1 367.1,181.8 367.2,183.2 367.3,178.9 367.4,186 367.5,178.5 367.6,182 367.7,177.4 367.8,181.2 367.8,182 367.9,180.9 368,179.8 368.1,178 368.2,178.2 368.3,179.6 368.4,177.5 368.5,179.4 368.6,177.6 368.7,182.6 368.7,191.4 368.8,177.8 368.9,182.6 369,180.2 369.1,179.7 369.2,180.6 369.3,180.5 369.4,185.1 369.5,197.9 369.6,177.6 369.6,174.5 369.7,179.5 369.8,187 369.9,177.9 370,175.5 370.1,182.1 370.2,179.3 370.3,179.9 370.4,183.9 370.5,179.2 370.5,178.1 370.6,180.4 370.7,195 370.8,181 370.9,181 371,179.8 371.1,179.8 371.2,182.1 371.3,176.1 371.4,179.8 371.4,182.5 371.5,177.1 371.6,181.2 371.7,178.4 371.8,179.6 371.9,179 372,179.2 372.1,180.8 372.2,179.4 372.3,175.1 372.3,184.4 372.4,184.3 372.5,178.6 372.6,181.8 372.7,182.5 372.8,174.8 372.9,180.3 373,175 373.1,178.4 373.2,179.4 373.3,178.5 373.3,178.1 373.4,184.3 373.5,178.6 373.6,179.2 373.7,179.1 373.8,176.6 373.9,177.7 374,181.7 374.1,180.9 374.2,178.8 374.2,180.9 374.3,180.4 374.4,181.6 374.5,180.1 374.6,178.6 374.7,177.4 374.8,179.5 374.9,175 375,179.7 375.1,182.1 375.1,177.3 375.2,178.4 375.3,180.6 375.4,185.7 375.5,179.9 375.6,179.1 375.7,175.3 375.8,182.5 375.9,175.4 376,189.7 376,178 376.1,196.1 376.2,189.6 376.3,180.3 376.4,178 376.5,184.2 376.6,182 376.7,177.5 376.8,178 376.9,186 376.9,177.3 377,177.1 377.1,179.6 377.2,182.5 377.3,182.6 377.4,176.6 377.5,178 377.6,179.3 377.7,180.5 377.8,179.5 377.8,179.5 377.9,180.3 378,181.1 378.1,174.8 378.2,179 378.3,180.9 378.4,182.4 378.5,181.1 378.6,178 378.7,177.9 378.8,180 378.8,179.4 378.9,180.2 379,181.9 379.1,184.3 379.2,178.7 379.3,174.1 379.4,181.2 379.5,179.8 379.6,177.6 379.7,185.2 379.7,182.6 379.8,181.6 379.9,179.3 380,178.8 380.1,179.7 380.2,177.3 380.3,177.4 380.4,178.8 380.5,179.5 380.6,180.1 380.6,178.3 380.7,177.5 380.8,179.4 380.9,178.5 381,180.2 381.1,182.6 381.2,181.7 381.3,177.9 381.4,178.6 381.5,176.1 381.5,179.4 381.6,177.6 381.7,176.6 381.8,177.4 381.9,190.6 382,179.9 382.1,179.2 382.2,181.7 382.3,178.5 382.4,177.3 382.4,180.6 382.5,175.2 382.6,180.2 382.7,180 382.8,180 382.9,192.6 383,178.6 383.1,184 383.2,175.9 383.3,178.2 383.3,178.4 383.4,180 383.5,182.6 383.6,179.7 383.7,181.4 383.8,177.5 383.9,179.6 384,175.9 384.1,177.9 384.2,177.7 384.3,179 384.3,179.1 384.4,178.1 384.5,177.5 384.6,181.1 384.7,178.5 384.8,173.8 384.9,188.9 385,180.1 385.1,181 385.2,182.7 385.2,176.9 385.3,179.4 385.4,178.9 385.5,175.5 385.6,174.1 385.7,181.5 385.8,177.2 385.9,178.2 386,178.7 386.1,178.5 386.1,179.6 386.2,176.1 386.3,178.2 386.4,178.8 386.5,176.8 386.6,177.6 386.7,178.5 386.8,178.8 386.9,175.7 387,178.4 387,185 387.1,181.4 387.2,180.3 387.3,181.8 387.4,179.3 387.5,179 387.6,184 387.7,179.5 387.8,178.1 387.9,179.2 387.9,181.6 388,176.8 388.1,181 388.2,182.2 388.3,181.9 388.4,179.6 388.5,177.4 388.6,177 388.7,179.1 388.8,182.1 388.8,192.5 388.9,181.5 389,179.9 389.1,183.4 389.2,179.3 389.3,178.1 389.4,179.9 389.5,178.5 389.6,181.6 389.7,182.7 389.8,180.9 389.8,177 389.9,177.3 390,180.5 390.1,176.9 390.2,180.2 390.3,176.2 390.4,178.5 390.5,180.5 390.6,177.8 390.7,181.2 390.7,181.6 390.8,182.7 390.9,179 391,179.6 391.1,179.7 391.2,189.8 391.3,176.4 391.4,180.5 391.5,181.1 391.6,176.8 391.6,176.4 391.7,178.8 391.8,183.3 391.9,180.8 392,178.2 392.1,179.5 392.2,176.1 392.3,182.5 392.4,178 392.5,180.9 392.5,176.6 392.6,184.4 392.7,177.3 392.8,180.9 392.9,182.6 393,182 393.1,189.9 393.2,181.8 393.3,176.9 393.4,176.6 393.4,178.9 393.5,181.8 393.6,179.8 393.7,181 393.8,182.7 393.9,194.1 394,178.5 394.1,180.4 394.2,183.9 394.3,181.2 394.4,182 394.4,178.7 394.5,179.3 394.6,187.3 394.7,180.4 394.8,176.1 394.9,181.6 395,181.5 395.1,180 395.2,181.1 395.3,180.5 395.3,178.4 395.4,175.8 395.5,183.4 395.6,179.6 395.7,179.4 395.8,179.7 395.9,179.9 396,180.3 396.1,177.3 396.2,180.5 396.2,179.8 396.3,179.5 396.4,179.3 396.5,179.9 396.6,177.3 396.7,179.5 396.8,179.1 396.9,179.6 397,181.7 397.1,181.3 397.1,181.8 397.2,179.1 397.3,181.1 397.4,181.8 397.5,179 397.6,178.4 397.7,183.4 397.8,175.8 397.9,179.5 398,179.8 398,177.2 398.1,179.4 398.2,180.8 398.3,174.7 398.4,181.9 398.5,190.2 398.6,177.7 398.7,181.9 398.8,179.8 398.9,178.7 398.9,174.3 399,181.5 399.1,179.6 399.2,178.1 399.3,187.3 399.4,182.2 399.5,178.6 399.6,179.3 399.7,178.6 399.8,177.1 399.9,177.3 399.9,191.6 400,178.9 400.1,181.9 400.2,179.8 400.3,179 400.4,180.4 400.5,179.3 400.6,181.3 400.7,176.2 400.8,174.8 400.8,180.4 400.9,178.7 401,180 401.1,189.6 401.2,178.6 401.3,179.4 401.4,180 401.5,179.3 401.6,181.7 401.7,178.1 401.7,181.1 401.8,178.4 401.9,179.2 402,177.1 402.1,179.6 402.2,177.3 402.3,181.5 402.4,178.2 402.5,180 402.6,179.1 402.6,179.4 402.7,177.5 402.8,196.2 402.9,178.8 403,190.8 403.1,176.9 403.2,183.8 403.3,194.4 403.4,183.2 403.5,176 403.5,182.3 403.6,179.3 403.7,180.7 403.8,183.5 403.9,180.3 404,178.1 404.1,184.7 404.2,177.5 404.3,180.3 404.4,179.5 404.4,180.4 404.5,178.8 404.6,175.4 404.7,178.7 404.8,190.6 404.9,180.9 405,181.2 405.1,176.3 405.2,182 405.3,181.5 405.4,179.7 405.4,180.5 405.5,175.3 405.6,184.7 405.7,178.7 405.8,178 405.9,182 406,180.9 406.1,178.6 406.2,176 406.3,181.5 406.3,190.5 406.4,177.4 406.5,176.2 406.6,180.3 406.7,184.4 406.8,176.4 406.9,192.3 407,177.1 407.1,179.6 407.2,180.3 407.2,180.5 407.3,176.3 407.4,180.8 407.5,184.2 407.6,181.6 407.7,175.7 407.8,180.3 407.9,182.5 408,179.5 408.1,179.8 408.1,179.7 408.2,180.6 408.3,189.8 408.4,180.5 408.5,178.8 408.6,181.3 408.7,180.2 408.8,179.8 408.9,176.7 409,178.7 409,179.8 409.1,178.4 409.2,183.4 409.3,184.1 409.4,178.4 409.5,175.6 409.6,176.6 409.7,189.1 409.8,180.4 409.9,177.6 409.9,178.4 410,179.7 410.1,182.8 410.2,183.5 410.3,178.8 410.4,197.5 410.5,177.8 410.6,182.3 410.7,177.3 410.8,180.7 410.9,184.1 410.9,189.3 411,181.3 411.1,180.8 411.2,184.1 411.3,181.5 411.4,183.5 411.5,178.6 411.6,179.4 411.7,177.5 411.8,178.8 411.8,199.6 411.9,178.8 412,194.7 412.1,178.2 412.2,178.8 412.3,190.7 412.4,179.5 412.5,179.4 412.6,180.2 412.7,177.6 412.7,175.8 412.8,180.3 412.9,186.5 413,184.4 413.1,179.8 413.2,180.5 413.3,184.2 413.4,178.9 413.5,178.2 413.6,181.1 413.6,180.3 413.7,181.6 413.8,177.9 413.9,182.8 414,189.4 414.1,175.3 414.2,179.4 414.3,178.5 414.4,179.8 414.5,182.1 414.5,179.6 414.6,178.6 414.7,181.8 414.8,187.1 414.9,176.8 415,190.4 415.1,183 415.2,199.6 415.3,187.5 415.4,177.2 415.4,178.2 415.5,178 415.6,181.4 415.7,182.1 415.8,179.4 415.9,179.3 416,181.4 416.1,179.2 416.2,178.1 416.3,179 416.4,181.8 416.4,195 416.5,180.1 416.6,179.2 416.7,180.1 416.8,180.5 416.9,181 417,178 417.1,179.6 417.2,190.2 417.3,181.6 417.3,180.9 417.4,179.2 417.5,181.7 417.6,182.3 417.7,180.2 417.8,176.9 417.9,179.1 418,176.3 418.1,179.8 418.2,179.1 418.2,181.4 418.3,179.6 418.4,175.2 418.5,177.6 418.6,176.7 418.7,176.7 418.8,178.2 418.9,178.6 419,177.9 419.1,176.7 419.1,177.1 419.2,189.8 419.3,177.7 419.4,179.7 419.5,178.5 419.6,193.1 419.7,175.7 419.8,182.4 419.9,178.3 420,180.2 420,178.5 420.1,180.2 420.2,177.7 420.3,185 420.4,177.9 420.5,176.2 420.6,187.2 420.7,178.3 420.8,170.6 420.9,177.2 420.9,178.5 421,178.3 421.1,176.4 421.2,176.3 421.3,175.5 421.4,176.8 421.5,180.1 421.6,180.4 421.7,177.6 421.8,177.5 421.9,190.9 421.9,178 422,178.3 422.1,176.7 422.2,179.7 422.3,176.4 422.4,176.2 422.5,178.8 422.6,177.7 422.7,178.1 422.8,174.3 422.8,181.5 422.9,176.8 423,179.5 423.1,176.8 423.2,174.1 423.3,177.1 423.4,175.4 423.5,177.4 423.6,171.5 423.7,173.6 423.7,173 423.8,178.1 423.9,177.6 424,172.9 424.1,175.5 424.2,175.6 424.3,174.3 424.4,177.5 424.5,179.6 424.6,174.7 424.6,173.7 424.7,176 424.8,173.5 424.9,175.9 425,172.4 425.1,172 425.2,172.3 425.3,173.1 425.4,172.8 425.5,179.5 425.5,172.2 425.6,174.4 425.7,173.5 425.8,174.2 425.9,176.4 426,174.5 426.1,172 426.2,170.4 426.3,174.4 426.4,174.9 426.4,170.1 426.5,174.7 426.6,168.6 426.7,172.6 426.8,174.3 426.9,170.4 427,168.8 427.1,174.7 427.2,168.6 427.3,172 427.4,168.3 427.4,171.6 427.5,173.7 427.6,169.4 427.7,168.3 427.8,165.9 427.9,166.3 428,168 428.1,169.4 428.2,169.7 428.3,168.9 428.3,176.5 428.4,168.3 428.5,180.4 428.6,166.8 428.7,166.8 428.8,161.8 428.9,164.7 429,166.5 429.1,164.3 429.2,167 429.2,165.5 429.3,167.3 429.4,161.3 429.5,162.3 429.6,164.8 429.7,162.6 429.8,160.5 429.9,160.9 430,160.6 430.1,162 430.1,161.1 430.2,165.7 430.3,157.6 430.4,159.7 430.5,159.5 430.6,155.6 430.7,158 430.8,154.6 430.9,155.1 431,153.7 431,151.9 431.1,152.7 431.2,152 431.3,153.5 431.4,152.6 431.5,150.3 431.6,148.7 431.7,148.2 431.8,146.6 431.9,148.3 431.9,147.7 432,146.2 432.1,146.7 432.2,146.1 432.3,146.5 432.4,143.8 432.5,145.2 432.6,143 432.7,144.1 432.8,141.2 432.9,142.4 432.9,140.2 433,141.5 433.1,139.9 433.2,140.4 433.3,139 433.4,137.8 433.5,137.7 433.6,138.5 433.7,136.1 433.8,135.5 433.8,136 433.9,134.5 434,134.8 434.1,134.4 434.2,133.3 434.3,133.2 434.4,131.1 434.5,132.6 434.6,130.9 434.7,130.3 434.7,131.1 434.8,130.8 434.9,129.6 435,129.9 435.1,129.3 435.2,128.8 435.3,129.3 435.4,129.4 435.5,129.9 435.6,130.8 435.6,128.8 435.7,128.1 435.8,127.9 435.9,128.3 436,127.9 436.1,127.1 436.2,127 436.3,127.9 436.4,127.8 436.5,128 436.5,128.2 436.6,130.4 436.7,128.2 436.8,128.5 436.9,128.6 437,129.2 437.1,128.6 437.2,130.4 437.3,130.7 437.4,130 437.4,129.9 437.5,129.6 437.6,133.6 437.7,130.9 437.8,131.6 437.9,131.4 438,132.5 438.1,133.1 438.2,133.7 438.3,133.5 438.4,134.6 438.4,139.6 438.5,134.9 438.6,136.3 438.7,136.1 438.8,140.8 438.9,136.5 439,137.1 439.1,138.8 439.2,139 439.3,140.6 439.3,138.8 439.4,140.5 439.5,140.3 439.6,142.4 439.7,149.3 439.8,142 439.9,144 440,144.6 440.1,145.3 440.2,145.4 440.2,146.1 440.3,149 440.4,146.7 440.5,149.2 440.6,149.7 440.7,147.8 440.8,149.4 440.9,151.5 441,154 441.1,152.1 441.1,152.3 441.2,153.7 441.3,155.8 441.4,155.9 441.5,165 441.6,155.7 441.7,155.4 441.8,155.7 441.9,158.8 442,158 442,158.1 442.1,160.3 442.2,160.3 442.3,157.3 442.4,160.8 442.5,160.1 442.6,162.6 442.7,162.3 442.8,165.6 442.9,163.2 442.9,161.6 443,160.4 443.1,162.3 443.2,163.5 443.3,165 443.4,166.5 443.5,175.3 443.6,165.1 443.7,176.4 443.8,165.2 443.9,169 443.9,180.1 444,169.7 444.1,171.2 444.2,170.9 444.3,166.6 444.4,169.3 444.5,168.8 444.6,167.3 444.7,167.4 444.8,182.2 444.8,167.7 444.9,169.8 445,170.8 445.1,170.1 445.2,174 445.3,173 445.4,171.9 445.5,170.7 445.6,172.8 445.7,178 445.7,170.3 445.8,169.6 445.9,170.9 446,170 446.1,173.4 446.2,173.3 446.3,172.1 446.4,173.5 446.5,174 446.6,179.9 446.6,173.5 446.7,175.1 446.8,172.3 446.9,169.6 447,173.2 447.1,171 447.2,174.4 447.3,174.6 447.4,175.1 447.5,174.1 447.5,170.1 447.6,176.3 447.7,170.6 447.8,181.5 447.9,174.6 448,172.4 448.1,172.9 448.2,173.7 448.3,177.7 448.4,173.6 448.5,176.6 448.5,169.2 448.6,175 448.7,174.2 448.8,177 448.9,175.7 449,177.5 449.1,172.8 449.2,175.4 449.3,173.8 449.4,176.4 449.4,176.1 449.5,180.6 449.6,177.2 449.7,179 449.8,174.4 449.9,177.7 450,176.3 450.1,173.5 450.2,177.2 450.3,173.7 450.3,177 450.4,172.5 450.5,172.9 450.6,176.7 450.7,176.2 450.8,177.5 450.9,175.4 451,173.4 451.1,179 451.2,174 451.2,178.8 451.3,177.8 451.4,179.8 451.5,171.6 451.6,176 451.7,175.6 451.8,177.6 451.9,173.9 452,180.7 452.1,176.2 452.1,171.6 452.2,177.1 452.3,176.3 452.4,174.9 452.5,178.1 452.6,176.3 452.7,174.3 452.8,183.2 452.9,175.7 453,187.2 453,175.8 453.1,176.4 453.2,173.4 453.3,175 453.4,177.1 453.5,181.8 453.6,175.1 453.7,185 453.8,178.6 453.9,180.9 454,179.1 454,174.7 454.1,179 454.2,178.7 454.3,177.2 454.4,187.7 454.5,177.7 454.6,177.8 454.7,178.8 454.8,186.1 454.9,175.3 454.9,177.8 455,185.3 455.1,179.3 455.2,176.3 455.3,179.1 455.4,175.6 455.5,176.7 455.6,176.9 455.7,181.8 455.8,176.4 455.8,179.3 455.9,178.2 456,172.4 456.1,180.1 456.2,183 456.3,175.1 456.4,177.8 456.5,179.2 456.6,180.3 456.7,176.2 456.7,175.2 456.8,174.3 456.9,177.3 457,175.1 457.1,179.6 457.2,177 457.3,178.8 457.4,177 457.5,175.7 457.6,175 457.6,179.5 457.7,174.6 457.8,178.3 457.9,179.5 458,188.5 458.1,180.4 458.2,177.3 458.3,176.6 458.4,177.7 458.5,176.1 458.5,177.9 458.6,177.2 458.7,180.3 458.8,177.1 458.9,179.1 459,178.2 459.1,177.4 459.2,176.8 459.3,180.7 459.4,180.6 459.5,177.8 459.5,176.1 459.6,176.4 459.7,175.2 459.8,174.3 459.9,176.1 460,177.2 460.1,179.4 460.2,179.2 460.3,178.1 460.4,183.9 460.4,176.6 460.5,177.1 460.6,177.4 460.7,175.7 460.8,176.6 460.9,176.4 461,176.4 461.1,178.3 461.2,179.3 461.3,176 461.3,176.2 461.4,177.5 461.5,178 461.6,172.1 461.7,178.7 461.8,177.5 461.9,176.5 462,192.8 462.1,176.8 462.2,173.1 462.2,175 462.3,175.7 462.4,175.7 462.5,176.8 462.6,181 462.7,177.3 462.8,177.9 462.9,176.8 463,175 463.1,176.3 463.1,175.5 463.2,181.4 463.3,174.4 463.4,171.9 463.5,174.1 463.6,177.7 463.7,178.8 463.8,176.4 463.9,192.2 464,175.4 464,178.1 464.1,174.9 464.2,174 464.3,181.4 464.4,187.5 464.5,178.5 464.6,180 464.7,178.3 464.8,177.5 464.9,174.8 465,180.3 465,186 465.1,182.4 465.2,175.7 465.3,175.8 465.4,177 465.5,179.5 465.6,175.8 465.7,176.2 465.8,175.4 465.9,171.4 465.9,175.4 466,176.1 466.1,186 466.2,179.9 466.3,179.5 466.4,177.8 466.5,178.4 466.6,175.5 466.7,177.7 466.8,173.3 466.8,173.7 466.9,175.4 467,177.9 467.1,175.7 467.2,175.3 467.3,179.3 467.4,176.3 467.5,175.5 467.6,182.8 467.7,173.6 467.7,174.4 467.8,178.8 467.9,176.8 468,178.9 468.1,175.8 468.2,178.9 468.3,175.1 468.4,176.2 468.5,175 468.6,177.4 468.6,180.2 468.7,173.3 468.8,189.8 468.9,174.1 469,176.2 469.1,188.1 469.2,173.2 469.3,176.4 469.4,174.1 469.5,180.4 469.5,175.3 469.6,177.7 469.7,177.4 469.8,177.1 469.9,176.4 470,173.6 470.1,191 470.2,177.1 470.3,178.7 470.4,174.7 470.5,178.1 470.5,176.2 470.6,178.1 470.7,175.8 470.8,175 470.9,178.1 471,177.1 471.1,180.3 471.2,176.6 471.3,175.4 471.4,178.5 471.4,185.2 471.5,181.8 471.6,181.3 471.7,186.6 471.8,178.4 471.9,177.3 472,177.5 472.1,177.5 472.2,184.5 472.3,178.4 472.3,180.1 472.4,180.1 472.5,172.8 472.6,182.5 472.7,177.8 472.8,174.2 472.9,176.4 473,179.2 473.1,177.4 473.2,175.6 473.2,174.8 473.3,179.4 473.4,175.8 473.5,176.9 473.6,175.1 473.7,174.5 473.8,178.3 473.9,180.7 474,176.7 474.1,173.7 474.1,176.1 474.2,177.1 474.3,182 474.4,179.8 474.5,175.6 474.6,178.8 474.7,177.5 474.8,177.4 474.9,174.3 475,179.7 475,185.9 475.1,181.1 475.2,176.6 475.3,178.7 475.4,176.8 475.5,184.5" fill="none" stroke="#2236dd" stroke-width="0.55" stroke-linejoin="round" />
</g>
<rect x="124.5" y="117.4" width="35.2" height="69.8" fill="none" stroke="#5a6ae6" stroke-width="1"/>
<line x1="132.9" y1="198.6" x2="132.9" y2="194.6" stroke="#3d3d3d" stroke-width="0.9" />
<line x1="132.9" y1="7.7" x2="132.9" y2="11.7" stroke="#3d3d3d" stroke-width="0.9" />
<text x="132.9" y="217.6" font-size="16.5" fill="#1a1a1a" text-anchor="middle" >20</text>
<line x1="205" y1="198.6" x2="205" y2="194.6" stroke="#3d3d3d" stroke-width="0.9" />
<line x1="205" y1="7.7" x2="205" y2="11.7" stroke="#3d3d3d" stroke-width="0.9" />
<text x="205" y="217.6" font-size="16.5" fill="#1a1a1a" text-anchor="middle" >40</text>
<line x1="277.1" y1="198.6" x2="277.1" y2="194.6" stroke="#3d3d3d" stroke-width="0.9" />
<line x1="277.1" y1="7.7" x2="277.1" y2="11.7" stroke="#3d3d3d" stroke-width="0.9" />
<text x="277.1" y="217.6" font-size="16.5" fill="#1a1a1a" text-anchor="middle" >60</text>
<line x1="349.3" y1="198.6" x2="349.3" y2="194.6" stroke="#3d3d3d" stroke-width="0.9" />
<line x1="349.3" y1="7.7" x2="349.3" y2="11.7" stroke="#3d3d3d" stroke-width="0.9" />
<text x="349.3" y="217.6" font-size="16.5" fill="#1a1a1a" text-anchor="middle" >80</text>
<line x1="421.4" y1="198.6" x2="421.4" y2="194.6" stroke="#3d3d3d" stroke-width="0.9" />
<line x1="421.4" y1="7.7" x2="421.4" y2="11.7" stroke="#3d3d3d" stroke-width="0.9" />
<text x="421.4" y="217.6" font-size="16.5" fill="#1a1a1a" text-anchor="middle" >100</text>
<line x1="96.8" y1="198.6" x2="100.8" y2="198.6" stroke="#3d3d3d" stroke-width="0.9" />
<line x1="96.8" y1="190.4" x2="98.8" y2="190.4" stroke="#3d3d3d" stroke-width="0.9" />
<line x1="96.8" y1="185.6" x2="98.8" y2="185.6" stroke="#3d3d3d" stroke-width="0.9" />
<line x1="96.8" y1="182.2" x2="98.8" y2="182.2" stroke="#3d3d3d" stroke-width="0.9" />
<line x1="96.8" y1="179.5" x2="98.8" y2="179.5" stroke="#3d3d3d" stroke-width="0.9" />
<line x1="96.8" y1="177.4" x2="98.8" y2="177.4" stroke="#3d3d3d" stroke-width="0.9" />
<line x1="96.8" y1="175.6" x2="98.8" y2="175.6" stroke="#3d3d3d" stroke-width="0.9" />
<line x1="96.8" y1="174" x2="98.8" y2="174" stroke="#3d3d3d" stroke-width="0.9" />
<line x1="96.8" y1="172.6" x2="98.8" y2="172.6" stroke="#3d3d3d" stroke-width="0.9" />
<line x1="96.8" y1="171.3" x2="100.8" y2="171.3" stroke="#3d3d3d" stroke-width="0.9" />
<line x1="96.8" y1="163.1" x2="98.8" y2="163.1" stroke="#3d3d3d" stroke-width="0.9" />
<line x1="96.8" y1="158.3" x2="98.8" y2="158.3" stroke="#3d3d3d" stroke-width="0.9" />
<line x1="96.8" y1="154.9" x2="98.8" y2="154.9" stroke="#3d3d3d" stroke-width="0.9" />
<line x1="96.8" y1="152.3" x2="98.8" y2="152.3" stroke="#3d3d3d" stroke-width="0.9" />
<line x1="96.8" y1="150.1" x2="98.8" y2="150.1" stroke="#3d3d3d" stroke-width="0.9" />
<line x1="96.8" y1="148.3" x2="98.8" y2="148.3" stroke="#3d3d3d" stroke-width="0.9" />
<line x1="96.8" y1="146.7" x2="98.8" y2="146.7" stroke="#3d3d3d" stroke-width="0.9" />
<line x1="96.8" y1="145.3" x2="98.8" y2="145.3" stroke="#3d3d3d" stroke-width="0.9" />
<line x1="96.8" y1="144.1" x2="100.8" y2="144.1" stroke="#3d3d3d" stroke-width="0.9" />
<line x1="96.8" y1="135.9" x2="98.8" y2="135.9" stroke="#3d3d3d" stroke-width="0.9" />
<line x1="96.8" y1="131" x2="98.8" y2="131" stroke="#3d3d3d" stroke-width="0.9" />
<line x1="96.8" y1="127.6" x2="98.8" y2="127.6" stroke="#3d3d3d" stroke-width="0.9" />
<line x1="96.8" y1="125" x2="98.8" y2="125" stroke="#3d3d3d" stroke-width="0.9" />
<line x1="96.8" y1="122.8" x2="98.8" y2="122.8" stroke="#3d3d3d" stroke-width="0.9" />
<line x1="96.8" y1="121" x2="98.8" y2="121" stroke="#3d3d3d" stroke-width="0.9" />
<line x1="96.8" y1="119.4" x2="98.8" y2="119.4" stroke="#3d3d3d" stroke-width="0.9" />
<line x1="96.8" y1="118" x2="98.8" y2="118" stroke="#3d3d3d" stroke-width="0.9" />
<line x1="96.8" y1="116.8" x2="100.8" y2="116.8" stroke="#3d3d3d" stroke-width="0.9" />
<line x1="96.8" y1="108.6" x2="98.8" y2="108.6" stroke="#3d3d3d" stroke-width="0.9" />
<line x1="96.8" y1="103.8" x2="98.8" y2="103.8" stroke="#3d3d3d" stroke-width="0.9" />
<line x1="96.8" y1="100.4" x2="98.8" y2="100.4" stroke="#3d3d3d" stroke-width="0.9" />
<line x1="96.8" y1="97.7" x2="98.8" y2="97.7" stroke="#3d3d3d" stroke-width="0.9" />
<line x1="96.8" y1="95.6" x2="98.8" y2="95.6" stroke="#3d3d3d" stroke-width="0.9" />
<line x1="96.8" y1="93.7" x2="98.8" y2="93.7" stroke="#3d3d3d" stroke-width="0.9" />
<line x1="96.8" y1="92.2" x2="98.8" y2="92.2" stroke="#3d3d3d" stroke-width="0.9" />
<line x1="96.8" y1="90.8" x2="98.8" y2="90.8" stroke="#3d3d3d" stroke-width="0.9" />
<line x1="96.8" y1="89.5" x2="100.8" y2="89.5" stroke="#3d3d3d" stroke-width="0.9" />
<line x1="96.8" y1="81.3" x2="98.8" y2="81.3" stroke="#3d3d3d" stroke-width="0.9" />
<line x1="96.8" y1="76.5" x2="98.8" y2="76.5" stroke="#3d3d3d" stroke-width="0.9" />
<line x1="96.8" y1="73.1" x2="98.8" y2="73.1" stroke="#3d3d3d" stroke-width="0.9" />
<line x1="96.8" y1="70.5" x2="98.8" y2="70.5" stroke="#3d3d3d" stroke-width="0.9" />
<line x1="96.8" y1="68.3" x2="98.8" y2="68.3" stroke="#3d3d3d" stroke-width="0.9" />
<line x1="96.8" y1="66.5" x2="98.8" y2="66.5" stroke="#3d3d3d" stroke-width="0.9" />
<line x1="96.8" y1="64.9" x2="98.8" y2="64.9" stroke="#3d3d3d" stroke-width="0.9" />
<line x1="96.8" y1="63.5" x2="98.8" y2="63.5" stroke="#3d3d3d" stroke-width="0.9" />
<line x1="96.8" y1="62.2" x2="100.8" y2="62.2" stroke="#3d3d3d" stroke-width="0.9" />
<line x1="96.8" y1="54" x2="98.8" y2="54" stroke="#3d3d3d" stroke-width="0.9" />
<line x1="96.8" y1="49.2" x2="98.8" y2="49.2" stroke="#3d3d3d" stroke-width="0.9" />
<line x1="96.8" y1="45.8" x2="98.8" y2="45.8" stroke="#3d3d3d" stroke-width="0.9" />
<line x1="96.8" y1="43.2" x2="98.8" y2="43.2" stroke="#3d3d3d" stroke-width="0.9" />
<line x1="96.8" y1="41" x2="98.8" y2="41" stroke="#3d3d3d" stroke-width="0.9" />
<line x1="96.8" y1="39.2" x2="98.8" y2="39.2" stroke="#3d3d3d" stroke-width="0.9" />
<line x1="96.8" y1="37.6" x2="98.8" y2="37.6" stroke="#3d3d3d" stroke-width="0.9" />
<line x1="96.8" y1="36.2" x2="98.8" y2="36.2" stroke="#3d3d3d" stroke-width="0.9" />
<line x1="96.8" y1="35" x2="100.8" y2="35" stroke="#3d3d3d" stroke-width="0.9" />
<line x1="96.8" y1="26.8" x2="98.8" y2="26.8" stroke="#3d3d3d" stroke-width="0.9" />
<line x1="96.8" y1="22" x2="98.8" y2="22" stroke="#3d3d3d" stroke-width="0.9" />
<line x1="96.8" y1="18.6" x2="98.8" y2="18.6" stroke="#3d3d3d" stroke-width="0.9" />
<line x1="96.8" y1="15.9" x2="98.8" y2="15.9" stroke="#3d3d3d" stroke-width="0.9" />
<line x1="96.8" y1="13.8" x2="98.8" y2="13.8" stroke="#3d3d3d" stroke-width="0.9" />
<line x1="96.8" y1="11.9" x2="98.8" y2="11.9" stroke="#3d3d3d" stroke-width="0.9" />
<line x1="96.8" y1="10.4" x2="98.8" y2="10.4" stroke="#3d3d3d" stroke-width="0.9" />
<line x1="96.8" y1="9" x2="98.8" y2="9" stroke="#3d3d3d" stroke-width="0.9" />
<line x1="475.5" y1="198.6" x2="471.5" y2="198.6" stroke="#3d3d3d" stroke-width="0.9" />
<line x1="475.5" y1="190.4" x2="473.5" y2="190.4" stroke="#3d3d3d" stroke-width="0.9" />
<line x1="475.5" y1="185.6" x2="473.5" y2="185.6" stroke="#3d3d3d" stroke-width="0.9" />
<line x1="475.5" y1="182.2" x2="473.5" y2="182.2" stroke="#3d3d3d" stroke-width="0.9" />
<line x1="475.5" y1="179.5" x2="473.5" y2="179.5" stroke="#3d3d3d" stroke-width="0.9" />
<line x1="475.5" y1="177.4" x2="473.5" y2="177.4" stroke="#3d3d3d" stroke-width="0.9" />
<line x1="475.5" y1="175.6" x2="473.5" y2="175.6" stroke="#3d3d3d" stroke-width="0.9" />
<line x1="475.5" y1="174" x2="473.5" y2="174" stroke="#3d3d3d" stroke-width="0.9" />
<line x1="475.5" y1="172.6" x2="473.5" y2="172.6" stroke="#3d3d3d" stroke-width="0.9" />
<line x1="475.5" y1="171.3" x2="471.5" y2="171.3" stroke="#3d3d3d" stroke-width="0.9" />
<line x1="475.5" y1="163.1" x2="473.5" y2="163.1" stroke="#3d3d3d" stroke-width="0.9" />
<line x1="475.5" y1="158.3" x2="473.5" y2="158.3" stroke="#3d3d3d" stroke-width="0.9" />
<line x1="475.5" y1="154.9" x2="473.5" y2="154.9" stroke="#3d3d3d" stroke-width="0.9" />
<line x1="475.5" y1="152.3" x2="473.5" y2="152.3" stroke="#3d3d3d" stroke-width="0.9" />
<line x1="475.5" y1="150.1" x2="473.5" y2="150.1" stroke="#3d3d3d" stroke-width="0.9" />
<line x1="475.5" y1="148.3" x2="473.5" y2="148.3" stroke="#3d3d3d" stroke-width="0.9" />
<line x1="475.5" y1="146.7" x2="473.5" y2="146.7" stroke="#3d3d3d" stroke-width="0.9" />
<line x1="475.5" y1="145.3" x2="473.5" y2="145.3" stroke="#3d3d3d" stroke-width="0.9" />
<line x1="475.5" y1="144.1" x2="471.5" y2="144.1" stroke="#3d3d3d" stroke-width="0.9" />
<line x1="475.5" y1="135.9" x2="473.5" y2="135.9" stroke="#3d3d3d" stroke-width="0.9" />
<line x1="475.5" y1="131" x2="473.5" y2="131" stroke="#3d3d3d" stroke-width="0.9" />
<line x1="475.5" y1="127.6" x2="473.5" y2="127.6" stroke="#3d3d3d" stroke-width="0.9" />
<line x1="475.5" y1="125" x2="473.5" y2="125" stroke="#3d3d3d" stroke-width="0.9" />
<line x1="475.5" y1="122.8" x2="473.5" y2="122.8" stroke="#3d3d3d" stroke-width="0.9" />
<line x1="475.5" y1="121" x2="473.5" y2="121" stroke="#3d3d3d" stroke-width="0.9" />
<line x1="475.5" y1="119.4" x2="473.5" y2="119.4" stroke="#3d3d3d" stroke-width="0.9" />
<line x1="475.5" y1="118" x2="473.5" y2="118" stroke="#3d3d3d" stroke-width="0.9" />
<line x1="475.5" y1="116.8" x2="471.5" y2="116.8" stroke="#3d3d3d" stroke-width="0.9" />
<line x1="475.5" y1="108.6" x2="473.5" y2="108.6" stroke="#3d3d3d" stroke-width="0.9" />
<line x1="475.5" y1="103.8" x2="473.5" y2="103.8" stroke="#3d3d3d" stroke-width="0.9" />
<line x1="475.5" y1="100.4" x2="473.5" y2="100.4" stroke="#3d3d3d" stroke-width="0.9" />
<line x1="475.5" y1="97.7" x2="473.5" y2="97.7" stroke="#3d3d3d" stroke-width="0.9" />
<line x1="475.5" y1="95.6" x2="473.5" y2="95.6" stroke="#3d3d3d" stroke-width="0.9" />
<line x1="475.5" y1="93.7" x2="473.5" y2="93.7" stroke="#3d3d3d" stroke-width="0.9" />
<line x1="475.5" y1="92.2" x2="473.5" y2="92.2" stroke="#3d3d3d" stroke-width="0.9" />
<line x1="475.5" y1="90.8" x2="473.5" y2="90.8" stroke="#3d3d3d" stroke-width="0.9" />
<line x1="475.5" y1="89.5" x2="471.5" y2="89.5" stroke="#3d3d3d" stroke-width="0.9" />
<line x1="475.5" y1="81.3" x2="473.5" y2="81.3" stroke="#3d3d3d" stroke-width="0.9" />
<line x1="475.5" y1="76.5" x2="473.5" y2="76.5" stroke="#3d3d3d" stroke-width="0.9" />
<line x1="475.5" y1="73.1" x2="473.5" y2="73.1" stroke="#3d3d3d" stroke-width="0.9" />
<line x1="475.5" y1="70.5" x2="473.5" y2="70.5" stroke="#3d3d3d" stroke-width="0.9" />
<line x1="475.5" y1="68.3" x2="473.5" y2="68.3" stroke="#3d3d3d" stroke-width="0.9" />
<line x1="475.5" y1="66.5" x2="473.5" y2="66.5" stroke="#3d3d3d" stroke-width="0.9" />
<line x1="475.5" y1="64.9" x2="473.5" y2="64.9" stroke="#3d3d3d" stroke-width="0.9" />
<line x1="475.5" y1="63.5" x2="473.5" y2="63.5" stroke="#3d3d3d" stroke-width="0.9" />
<line x1="475.5" y1="62.2" x2="471.5" y2="62.2" stroke="#3d3d3d" stroke-width="0.9" />
<line x1="475.5" y1="54" x2="473.5" y2="54" stroke="#3d3d3d" stroke-width="0.9" />
<line x1="475.5" y1="49.2" x2="473.5" y2="49.2" stroke="#3d3d3d" stroke-width="0.9" />
<line x1="475.5" y1="45.8" x2="473.5" y2="45.8" stroke="#3d3d3d" stroke-width="0.9" />
<line x1="475.5" y1="43.2" x2="473.5" y2="43.2" stroke="#3d3d3d" stroke-width="0.9" />
<line x1="475.5" y1="41" x2="473.5" y2="41" stroke="#3d3d3d" stroke-width="0.9" />
<line x1="475.5" y1="39.2" x2="473.5" y2="39.2" stroke="#3d3d3d" stroke-width="0.9" />
<line x1="475.5" y1="37.6" x2="473.5" y2="37.6" stroke="#3d3d3d" stroke-width="0.9" />
<line x1="475.5" y1="36.2" x2="473.5" y2="36.2" stroke="#3d3d3d" stroke-width="0.9" />
<line x1="475.5" y1="35" x2="471.5" y2="35" stroke="#3d3d3d" stroke-width="0.9" />
<line x1="475.5" y1="26.8" x2="473.5" y2="26.8" stroke="#3d3d3d" stroke-width="0.9" />
<line x1="475.5" y1="22" x2="473.5" y2="22" stroke="#3d3d3d" stroke-width="0.9" />
<line x1="475.5" y1="18.6" x2="473.5" y2="18.6" stroke="#3d3d3d" stroke-width="0.9" />
<line x1="475.5" y1="15.9" x2="473.5" y2="15.9" stroke="#3d3d3d" stroke-width="0.9" />
<line x1="475.5" y1="13.8" x2="473.5" y2="13.8" stroke="#3d3d3d" stroke-width="0.9" />
<line x1="475.5" y1="11.9" x2="473.5" y2="11.9" stroke="#3d3d3d" stroke-width="0.9" />
<line x1="475.5" y1="10.4" x2="473.5" y2="10.4" stroke="#3d3d3d" stroke-width="0.9" />
<line x1="475.5" y1="9" x2="473.5" y2="9" stroke="#3d3d3d" stroke-width="0.9" />
<rect x="96.8" y="7.7" width="378.7" height="190.9" fill="none" stroke="#3d3d3d" stroke-width="1.2"/>
<text x="92.5" y="204.6" font-size="16.5" fill="#1a1a1a" text-anchor="end" >1</text>
<text x="92.5" y="177.3" font-size="16.5" fill="#1a1a1a" text-anchor="end" >10</text>
<text x="86" y="152.2" font-size="16.5" fill="#1a1a1a" text-anchor="end">10</text>
<text x="86.2" y="144.9" font-size="12.6" fill="#1a1a1a">2</text>
<text x="86" y="124.9" font-size="16.5" fill="#1a1a1a" text-anchor="end">10</text>
<text x="86.2" y="117.6" font-size="12.6" fill="#1a1a1a">3</text>
<text x="86" y="97.6" font-size="16.5" fill="#1a1a1a" text-anchor="end">10</text>
<text x="86.2" y="90.3" font-size="12.6" fill="#1a1a1a">4</text>
<text x="86" y="70.3" font-size="16.5" fill="#1a1a1a" text-anchor="end">10</text>
<text x="86.2" y="63" font-size="12.6" fill="#1a1a1a">5</text>
<text x="86" y="43.1" font-size="16.5" fill="#1a1a1a" text-anchor="end">10</text>
<text x="86.2" y="35.8" font-size="12.6" fill="#1a1a1a">6</text>
<text transform="translate(57,100.2) rotate(-90)" font-size="18" fill="#1a1a1a" text-anchor="middle">Intensity (arb.unit)</text>
<text x="281.5" y="236" font-size="16.9" fill="#1a1a1a" text-anchor="middle">2<tspan font-family="'Liberation Serif', serif" font-style="italic" font-size="18.5">θ</tspan> (°)</text>
<text x="103.7" y="28.5" font-size="20.2" fill="#111" text-anchor="start" >(a)</text>
<text transform="translate(148,101.2) rotate(-90)" font-size="16.5" fill="#111" text-anchor="middle">001</text>
<text transform="translate(235.5,68) rotate(-90)" font-size="16.5" fill="#111" text-anchor="middle">002</text>
<text transform="translate(330.5,132.7) rotate(-90)" font-size="16.5" fill="#111" text-anchor="middle">003</text>
<text transform="translate(443,107.8) rotate(-90)" font-size="16.5" fill="#111" text-anchor="middle">004</text>
<text x="179.3" y="101.2" font-size="16" fill="#111" text-anchor="middle" >*</text>
<text x="309.4" y="20.8" font-size="16" fill="#111" text-anchor="middle" >*</text>
<rect x="317.5" y="0" width="111.5" height="111" fill="#fff"/>
<polyline points="339.5,74.2 340.3,79.4 340.8,82 341.5,75.9 342.1,72.5 342.7,78.5 343.3,81.1 344,75.9 344.7,71.6 345.3,75.9 346,80.3 346.9,74.2 347.8,69.9 348.6,73.3 349.5,77.7 350.4,72.8 351.2,68.1 352.4,63.8 353.3,68.7 354.2,73.3 355.2,69 356.4,65.6 357.6,63.8 358.5,67.6 359.4,71.6 360.6,64.7 362,58.6 362.8,56.9 363.7,56.9 364.5,67.3 365.4,65.9 366.3,63.8 367.5,55.2 368.9,48.3 369.7,46.5 370.6,46.5 371.5,49.1 372,50 372.7,39.6 373.2,31 373.7,21.4 374.4,13.7 375.1,12.8 375.8,12.8 376.7,15.4 377.5,18 378.4,15.4 379.3,13.7 380.1,13.3 380.6,13.7 381.3,17.1 381.8,22.3 382.4,32.7 382.7,44.8 383.6,47.4 384.4,48.3 385.1,45.7 385.8,44.8 386.5,47.4 387,50 387.9,55.2 388.8,60.4 389.6,56.9 390.5,55.2 391.4,59.5 392.2,63.8 393.1,60.4 394,58.6 394.8,63 395.7,67.3 396.6,64.7 397.4,62.1 398.3,65.6 399.1,69.9 400,67.3 400.9,65.6 401.7,69.4 402.6,73.3 403.8,74.6 405.2,75.1 406.1,72.8 406.9,70.7 407.8,72.1 408.7,72.5 409.5,71.1 410.4,69.9 411.3,68.7 412.1,67.3 412.8,69 413.5,70.7 414.2,75.1 414.7,77.7 415.2,75.9 415.6,74.2" fill="none" stroke="#3a50e2" stroke-width="1.15" stroke-linejoin="round" />
<line x1="335.7" y1="94.6" x2="335.7" y2="92.1" stroke="#555" stroke-width="0.8" />
<line x1="335.7" y1="7" x2="335.7" y2="9.5" stroke="#555" stroke-width="0.8" />
<text x="335.7" y="105.8" font-size="9.9" fill="#2a2a2a" text-anchor="middle" >18</text>
<line x1="353.2" y1="94.6" x2="353.2" y2="92.1" stroke="#555" stroke-width="0.8" />
<line x1="353.2" y1="7" x2="353.2" y2="9.5" stroke="#555" stroke-width="0.8" />
<text x="353.2" y="105.8" font-size="9.9" fill="#2a2a2a" text-anchor="middle" >20</text>
<line x1="370.7" y1="94.6" x2="370.7" y2="92.1" stroke="#555" stroke-width="0.8" />
<line x1="370.7" y1="7" x2="370.7" y2="9.5" stroke="#555" stroke-width="0.8" />
<text x="370.7" y="105.8" font-size="9.9" fill="#2a2a2a" text-anchor="middle" >22</text>
<line x1="388.3" y1="94.6" x2="388.3" y2="92.1" stroke="#555" stroke-width="0.8" />
<line x1="388.3" y1="7" x2="388.3" y2="9.5" stroke="#555" stroke-width="0.8" />
<text x="388.3" y="105.8" font-size="9.9" fill="#2a2a2a" text-anchor="middle" >24</text>
<line x1="405.8" y1="94.6" x2="405.8" y2="92.1" stroke="#555" stroke-width="0.8" />
<line x1="405.8" y1="7" x2="405.8" y2="9.5" stroke="#555" stroke-width="0.8" />
<text x="405.8" y="105.8" font-size="9.9" fill="#2a2a2a" text-anchor="middle" >26</text>
<line x1="423.3" y1="94.6" x2="423.3" y2="92.1" stroke="#555" stroke-width="0.8" />
<line x1="423.3" y1="7" x2="423.3" y2="9.5" stroke="#555" stroke-width="0.8" />
<text x="423.3" y="105.8" font-size="9.9" fill="#2a2a2a" text-anchor="middle" >28</text>
<line x1="335.7" y1="94.6" x2="338.3" y2="94.6" stroke="#555" stroke-width="0.7" />
<line x1="423.3" y1="94.6" x2="420.7" y2="94.6" stroke="#555" stroke-width="0.7" />
<line x1="335.7" y1="85.8" x2="337.1" y2="85.8" stroke="#555" stroke-width="0.7" />
<line x1="423.3" y1="85.8" x2="421.9" y2="85.8" stroke="#555" stroke-width="0.7" />
<line x1="335.7" y1="80.7" x2="337.1" y2="80.7" stroke="#555" stroke-width="0.7" />
<line x1="423.3" y1="80.7" x2="421.9" y2="80.7" stroke="#555" stroke-width="0.7" />
<line x1="335.7" y1="77" x2="337.1" y2="77" stroke="#555" stroke-width="0.7" />
<line x1="423.3" y1="77" x2="421.9" y2="77" stroke="#555" stroke-width="0.7" />
<line x1="335.7" y1="74.2" x2="337.1" y2="74.2" stroke="#555" stroke-width="0.7" />
<line x1="423.3" y1="74.2" x2="421.9" y2="74.2" stroke="#555" stroke-width="0.7" />
<line x1="335.7" y1="71.9" x2="337.1" y2="71.9" stroke="#555" stroke-width="0.7" />
<line x1="423.3" y1="71.9" x2="421.9" y2="71.9" stroke="#555" stroke-width="0.7" />
<line x1="335.7" y1="69.9" x2="337.1" y2="69.9" stroke="#555" stroke-width="0.7" />
<line x1="423.3" y1="69.9" x2="421.9" y2="69.9" stroke="#555" stroke-width="0.7" />
<line x1="335.7" y1="68.2" x2="337.1" y2="68.2" stroke="#555" stroke-width="0.7" />
<line x1="423.3" y1="68.2" x2="421.9" y2="68.2" stroke="#555" stroke-width="0.7" />
<line x1="335.7" y1="66.7" x2="337.1" y2="66.7" stroke="#555" stroke-width="0.7" />
<line x1="423.3" y1="66.7" x2="421.9" y2="66.7" stroke="#555" stroke-width="0.7" />
<line x1="335.7" y1="65.4" x2="338.3" y2="65.4" stroke="#555" stroke-width="0.7" />
<line x1="423.3" y1="65.4" x2="420.7" y2="65.4" stroke="#555" stroke-width="0.7" />
<line x1="335.7" y1="56.6" x2="337.1" y2="56.6" stroke="#555" stroke-width="0.7" />
<line x1="423.3" y1="56.6" x2="421.9" y2="56.6" stroke="#555" stroke-width="0.7" />
<line x1="335.7" y1="51.5" x2="337.1" y2="51.5" stroke="#555" stroke-width="0.7" />
<line x1="423.3" y1="51.5" x2="421.9" y2="51.5" stroke="#555" stroke-width="0.7" />
<line x1="335.7" y1="47.8" x2="337.1" y2="47.8" stroke="#555" stroke-width="0.7" />
<line x1="423.3" y1="47.8" x2="421.9" y2="47.8" stroke="#555" stroke-width="0.7" />
<line x1="335.7" y1="45" x2="337.1" y2="45" stroke="#555" stroke-width="0.7" />
<line x1="423.3" y1="45" x2="421.9" y2="45" stroke="#555" stroke-width="0.7" />
<line x1="335.7" y1="42.7" x2="337.1" y2="42.7" stroke="#555" stroke-width="0.7" />
<line x1="423.3" y1="42.7" x2="421.9" y2="42.7" stroke="#555" stroke-width="0.7" />
<line x1="335.7" y1="40.7" x2="337.1" y2="40.7" stroke="#555" stroke-width="0.7" />
<line x1="423.3" y1="40.7" x2="421.9" y2="40.7" stroke="#555" stroke-width="0.7" />
<line x1="335.7" y1="39" x2="337.1" y2="39" stroke="#555" stroke-width="0.7" />
<line x1="423.3" y1="39" x2="421.9" y2="39" stroke="#555" stroke-width="0.7" />
<line x1="335.7" y1="37.5" x2="337.1" y2="37.5" stroke="#555" stroke-width="0.7" />
<line x1="423.3" y1="37.5" x2="421.9" y2="37.5" stroke="#555" stroke-width="0.7" />
<line x1="335.7" y1="36.2" x2="338.3" y2="36.2" stroke="#555" stroke-width="0.7" />
<line x1="423.3" y1="36.2" x2="420.7" y2="36.2" stroke="#555" stroke-width="0.7" />
<line x1="335.7" y1="27.4" x2="337.1" y2="27.4" stroke="#555" stroke-width="0.7" />
<line x1="423.3" y1="27.4" x2="421.9" y2="27.4" stroke="#555" stroke-width="0.7" />
<line x1="335.7" y1="22.3" x2="337.1" y2="22.3" stroke="#555" stroke-width="0.7" />
<line x1="423.3" y1="22.3" x2="421.9" y2="22.3" stroke="#555" stroke-width="0.7" />
<line x1="335.7" y1="18.6" x2="337.1" y2="18.6" stroke="#555" stroke-width="0.7" />
<line x1="423.3" y1="18.6" x2="421.9" y2="18.6" stroke="#555" stroke-width="0.7" />
<line x1="335.7" y1="15.8" x2="337.1" y2="15.8" stroke="#555" stroke-width="0.7" />
<line x1="423.3" y1="15.8" x2="421.9" y2="15.8" stroke="#555" stroke-width="0.7" />
<line x1="335.7" y1="13.5" x2="337.1" y2="13.5" stroke="#555" stroke-width="0.7" />
<line x1="423.3" y1="13.5" x2="421.9" y2="13.5" stroke="#555" stroke-width="0.7" />
<line x1="335.7" y1="11.5" x2="337.1" y2="11.5" stroke="#555" stroke-width="0.7" />
<line x1="423.3" y1="11.5" x2="421.9" y2="11.5" stroke="#555" stroke-width="0.7" />
<line x1="335.7" y1="9.8" x2="337.1" y2="9.8" stroke="#555" stroke-width="0.7" />
<line x1="423.3" y1="9.8" x2="421.9" y2="9.8" stroke="#555" stroke-width="0.7" />
<line x1="335.7" y1="8.3" x2="337.1" y2="8.3" stroke="#555" stroke-width="0.7" />
<line x1="423.3" y1="8.3" x2="421.9" y2="8.3" stroke="#555" stroke-width="0.7" />
<rect x="335.7" y="7.0" width="87.6" height="87.6" fill="none" stroke="#777" stroke-width="0.9"/>
<text x="328.9" y="99.5" font-size="10.5" fill="#2a2a2a" text-anchor="end">10</text>
<text x="329" y="94.9" font-size="7.6" fill="#2a2a2a">0</text>
<text x="328.9" y="70.3" font-size="10.5" fill="#2a2a2a" text-anchor="end">10</text>
<text x="329" y="65.7" font-size="7.6" fill="#2a2a2a">1</text>
<text x="328.9" y="41.1" font-size="10.5" fill="#2a2a2a" text-anchor="end">10</text>
<text x="329" y="36.5" font-size="7.6" fill="#2a2a2a">2</text>
<text x="328.9" y="11.9" font-size="10.5" fill="#2a2a2a" text-anchor="end">10</text>
<text x="329" y="7.3" font-size="7.6" fill="#2a2a2a">3</text>
<text transform="translate(352.6,35.5) rotate(-90)" font-size="9.0" fill="#222" text-anchor="middle">SrRuO<tspan dy="2.5" font-size="7">3</tspan><tspan dy="-2.5"> 001</tspan><tspan dy="-3" font-size="7" font-style="italic">ρ</tspan></text>
<text transform="translate(402.8,32.7) rotate(-90)" font-size="8.9" fill="#222" text-anchor="middle">SrTiO<tspan dy="2.5" font-size="7">3</tspan><tspan dy="-2.5"> 001</tspan></text>
<line x1="362" y1="16.1" x2="371.5" y2="16.1" stroke="#333" stroke-width="0.9" />
<polygon points="359.8,16.1 362.8,14.8 362.8,17.4" fill="#333"/>
<line x1="382.8" y1="16.1" x2="392" y2="16.1" stroke="#333" stroke-width="0.9" />
<polygon points="394.2,16.1 391.2,14.8 391.2,17.4" fill="#333"/>
<line x1="124.5" y1="117.4" x2="312.9" y2="16.4" stroke="#2432d4" stroke-width="1.5" stroke-dasharray="5,3.2"/>
<polygon points="317.1,14.1 308.5,15.1 312.3,16.7 311.6,20.7" fill="#2432d4"/>
<line x1="159.7" y1="187.2" x2="416.3" y2="111.2" stroke="#2432d4" stroke-width="1.5" stroke-dasharray="5,3.2"/>
<polygon points="420.9,109.8 412.3,109 415.7,111.3 414.1,115.1" fill="#2432d4"/>
<clipPath id="cb"><rect x="53.8" y="265.5" width="416.0" height="190.3"/></clipPath>
<g clip-path="url(#cb)">
<polyline points="53.8,445.9 54.8,455.8 55.8,442 56.8,455.8 57.8,454.5 58.8,442.4 59.8,455.8 60.8,444.4 61.8,446.5 62.8,455.2 63.8,455.3 64.8,455.8 65.8,455.8 66.8,446.6 67.8,455.8 68.8,441.6 69.8,455.2 70.8,443 71.8,453.8 72.8,454.4 73.8,446 74.8,455.8 75.8,442.7 76.8,455.8 77.8,455.8 78.8,439.2 79.8,432.8 80.8,445.8 81.8,449.5 82.8,455.8 83.8,453.1 84.8,443.3 85.7,455.8 86.7,451.5 87.7,442.7 88.7,445.8 89.7,447.9 90.7,451.3 91.7,445.8 92.7,440.5 93.7,440.6 94.7,448 95.7,455.8 96.7,451.2 97.7,442.2 98.7,455.8 99.7,445 100.7,453 101.7,455.1 102.7,455.8 103.7,455.8 104.7,455.8 105.7,455.8 106.7,447.1 107.7,448.7 108.7,434.1 109.7,455.3 110.7,439.7 111.7,443.1 112.7,437.5 113.7,440.3 114.7,455.8 115.7,441.2 116.7,438.2 117.7,444.8 118.7,455.8 119.7,452.5 120.7,445.7 121.7,440.1 122.7,455.1 123.7,448 124.7,438.6 125.7,455.8 126.7,437.5 127.7,440.6 128.7,455.8 129.7,439.5 130.7,439.9 131.7,443.8 132.7,455.8 133.7,444.5 134.7,444.9 135.7,440.6 136.7,441.3 137.7,453.9 138.7,429.4 139.7,455.8 140.7,439.6 141.7,437.5 142.7,446.4 143.7,444.6 144.7,437 145.7,438.3 146.7,438.1 147.6,430.2 148.6,453.4 149.6,455.8 150.6,435.3 151.6,441 152.6,441 153.6,451.1 154.6,443 155.6,455.8 156.6,455.8 157.6,437.3 158.6,448.7 159.6,441.2 160.6,437.8 161.6,440.5 162.6,455.8 163.6,448 164.6,435.1 165.6,441.8 166.6,432.6 167.6,439.3 168.6,438 169.6,447.3 170.6,439.5 171.6,445.2 172.6,449.3 173.6,437.1 174.6,455.8 175.6,428.8 176.6,434.5 177.6,444.4 178.6,430.6 179.6,448 180.6,455.7 181.6,440.1 182.6,438.5 183.6,441.2 184.6,430.1 185.6,445.1 186.6,440.3 187.6,435.6 188.6,438.9 189.6,441 190.6,448.7 191.6,432.6 192.6,435.6 193.6,437.8 194.6,444 195.6,454.8 196.6,431.7 197.6,425.9 198.6,433.2 199.6,436.2 200.6,429.5 201.6,439.5 202.6,430.1 203.6,425.8 204.6,426.2 205.6,429.1 206.6,435.9 207.6,434.6 208.6,437.7 209.6,421.4 210.5,424.7 211.5,432 212.5,431.8 213.5,429.8 214.5,434.7 215.5,427.6 216.5,427.4 217.5,427.5 218.5,429.4 219.5,443.9 220.5,430.2 221.5,436.9 222.5,438.2 223.5,415.1 224.5,430.6 225.5,428.5 226.5,428.8 227.5,431.6 228.5,416.9 229.5,436.6 230.5,422.7 231.5,428.4 232.5,417.2 233.5,419.2 234.5,423.2 235.5,431.9 236.5,418.1 237.5,416.5 238.5,417.8 239.5,422.8 240.5,416.8 241.5,424.3 242.5,417.8 243.5,416.4 244.5,419.1 245.5,422.8 246.5,417.5 247.5,420.5 248.5,421.4 249.3,412.9 249.5,412.7 249.7,412.4 249.9,412.2 250.2,412 250.4,411.8 250.6,411.6 250.8,411.4 251,411.1 251.2,410.9 251.4,410.6 251.6,410.4 251.8,410.2 252,409.9 252.2,409.6 252.4,409.4 252.6,409.1 252.9,408.8 253.1,408.5 253.3,408.2 253.5,407.9 253.7,407.6 253.9,407.3 254.1,407 254.3,406.7 254.5,406.3 254.7,406 254.9,405.6 255.1,405.3 255.4,404.9 255.6,404.5 255.8,404.1 256,403.7 256.2,403.3 256.4,402.8 256.6,402.3 256.8,401.9 257,401.4 257.2,400.8 257.4,400.3 257.6,399.7 257.8,399.2 258.1,398.5 258.3,397.9 258.5,397.2 258.7,396.5 258.9,395.7 259.1,394.8 259.3,393.4 259.5,389.3 259.7,378.1 259.9,360.7 260.1,342.5 260.3,325.7 260.6,311 260.8,298.5 261,288.3 261.2,280.4 261.4,274.7 261.6,271.3 261.8,270.2 262,271.3 262.2,274.7 262.4,280.4 262.6,288.3 262.8,298.5 263,311 263.3,325.7 263.5,342.5 263.7,360.7 263.9,378.1 264.1,389.3 264.3,393.4 264.5,394.8 264.7,395.7 264.9,396.5 265.1,397.2 265.3,397.9 265.5,398.5 265.8,399.2 266,399.7 266.2,400.3 266.4,400.8 266.6,401.4 266.8,401.9 267,402.3 267.2,402.8 267.4,403.3 267.6,403.7 267.8,404.1 268,404.5 268.2,404.9 268.5,405.3 268.7,405.6 268.9,406 269.1,406.3 269.3,406.7 269.5,407 269.7,407.3 269.9,407.6 270.1,407.9 270.3,408.2 270.5,408.5 270.7,408.8 271,409.1 271.2,409.4 271.4,409.6 271.6,409.9 271.8,410.2 272,410.4 272.2,410.6 272.4,410.9 272.6,411.1 272.8,411.4 273,411.6 273.2,411.8 273.4,412 273.7,412.2 273.9,412.4 274.1,412.7 274.3,412.9 274.4,410.8 275.4,412.9 276.4,414.5 277.4,420.1 278.4,409.9 279.4,406.5 280.4,419.6 281.4,424 282.4,416.4 283.4,422 284.4,420.5 285.4,418.2 286.4,430.4 287.4,418.8 288.4,429.6 289.4,431.2 290.4,426.7 291.4,416.4 292.4,429 293.4,423 294.4,431.6 295.4,422.9 296.4,425.1 297.4,420.6 298.4,426.6 299.4,428 300.4,439.3 301.4,426.9 302.4,424.5 303.4,428.2 304.4,428.7 305.4,426.7 306.4,425.3 307.4,435.8 308.4,431.3 309.4,428.7 310.4,430 311.4,437.3 312.4,443.5 313.4,430.4 314.4,428.4 315.4,423.1 316.4,430.6 317.4,438.3 318.4,430.9 319.4,434.4 320.4,437.9 321.4,442.6 322.4,445.1 323.4,438.7 324.4,437.3 325.4,434.8 326.4,435.2 327.4,434.2 328.4,424.6 329.4,436.3 330.4,437.5 331.4,438.5 332.4,455.8 333.4,435.6 334.4,447.9 335.3,442.5 336.3,455.3 337.3,433.7 338.3,431.1 339.3,437.9 340.3,440.7 341.3,448.4 342.3,439.4 343.3,437.3 344.3,436.8 345.3,438.5 346.3,440.9 347.3,435.3 348.3,438.9 349.3,444 350.3,440.7 351.3,442.8 352.3,442.2 353.3,440.8 354.3,445.6 355.3,441.9 356.3,439.3 357.3,447.1 358.3,448.7 359.3,434.2 360.3,449.7 361.3,445.5 362.3,455.6 363.3,430.2 364.3,448.7 365.3,447.6 366.3,435.3 367.3,435.7 368.3,441.8 369.3,434.5 370.3,447.6 371.3,455.8 372.3,454.4 373.3,435.7 374.3,436.2 375.3,434.6 376.3,435.8 377.3,433.8 378.3,439.2 379.3,455.8 380.3,445 381.3,436.1 382.3,444.7 383.3,432.5 384.3,441.7 385.3,440.5 386.3,455.8 387.3,454.3 388.3,445.3 389.3,439.8 390.3,452.9 391.3,455.8 392.3,439.5 393.3,451.4 394.3,451.1 395.3,447.5 396.3,455.8 397.2,442.8 398.2,441.2 399.2,455.2 400.2,455.5 401.2,442.8 402.2,455.4 403.2,444.9 404.2,455.8 405.2,455.8 406.2,455.8 407.2,455.8 408.2,445.9 409.2,439.8 410.2,437.3 411.2,455.8 412.2,437.7 413.2,446.8 414.2,455.8 415.2,455.8 416.2,449 417.2,447.9 418.2,438.9 419.2,437.2 420.2,455.8 421.2,455.8 422.2,455.8 423.2,442.5 424.2,455.8 425.2,455.8 426.2,445.5 427.2,435.4 428.2,455.8 429.2,436.4 430.2,455.8 431.2,436.8 432.2,435.5 433.2,450.7 434.2,441.2 435.2,455.8 436.2,444.1 437.2,451.2 438.2,453.7 439.2,448.8 440.2,455.8 441.2,448.2 442.2,443.5 443.2,455.8 444.2,435.6 445.2,446.5 446.2,454.1 447.2,455.8 448.2,455.8 449.2,455.8 450.2,441.6 451.2,455.8 452.2,455.2 453.2,455.8 454.2,455 455.2,455.8 456.2,455.8 457.2,448.7 458.2,455.8 459.2,447.9 460.1,448.8 461.1,453.2 462.1,455.8 463.1,439.3 464.1,445.2 465.1,455.8 466.1,450.5 467.1,455.8 468.1,455.8 469.1,444.5" fill="none" stroke="#ea3a2a" stroke-width="1.1" stroke-linejoin="round" />
<polyline points="53.8,455.8 54.5,421 55.1,433.8 55.8,421 56.5,433.8 57.1,455.8 57.8,421 58.5,455.8 59.1,455.8 59.8,433.8 60.5,421 61.1,421 61.8,455.8 62.5,421 63.1,433.8 63.8,455.8 64.4,411.8 65.1,411.8 65.8,421 66.4,411.8 67.1,433.8 67.8,421 68.4,455.8 69.1,455.8 69.8,421 70.4,455.8 71.1,433.8 71.8,399 72.4,455.8 73.1,421 73.8,455.8 74.4,411.8 75.1,433.8 75.8,455.8 76.4,455.8 77.1,421 77.8,411.8 78.4,433.8 79.1,404.8 79.8,455.8 80.4,411.8 81.1,433.8 81.8,455.8 82.4,411.8 83.1,455.8 83.8,421 84.4,421 85.1,455.8 85.7,421 86.4,421 87.1,455.8 87.7,433.8 88.4,411.8 89.1,455.8 89.7,433.8 90.4,455.8 91.1,455.8 91.7,455.8 92.4,421 93.1,433.8 93.7,411.8 94.4,421 95.1,421 95.7,421 96.4,411.8 97.1,433.8 97.7,421 98.4,433.8 99.1,421 99.7,404.8 100.4,421 101.1,421 101.7,421 102.4,421 103.1,421 103.7,421 104.4,433.8 105.1,455.8 105.7,433.8 106.4,421 107,411.8 107.7,421 108.4,421 109,421 109.7,455.8 110.4,455.8 111,421 111.7,433.8 112.4,433.8 113,411.8 113.7,421 114.4,455.8 115,433.8 115.7,394.1 116.4,455.8 117,421 117.7,399 118.4,411.8 119,421 119.7,433.8 120.4,404.8 121,404.8 121.7,421 122.4,411.8 123,455.8 123.7,455.8 124.4,411.8 125,455.8 125.7,455.8 126.4,455.8 127,421 127.7,433.8 128.3,433.8 129,421 129.7,404.8 130.3,399 131,433.8 131.7,433.8 132.3,433.8 133,411.8 133.7,411.8 134.3,455.8 135,421 135.7,404.8 136.3,411.8 137,389.9 137.7,455.8 138.3,404.8 139,411.8 139.7,399 140.3,404.8 141,421 141.7,389.9 142.3,404.8 143,455.8 143.7,433.8 144.3,455.8 145,455.8 145.7,404.8 146.3,455.8 147,433.8 147.6,411.8 148.3,421 149,433.8 149.6,455.8 150.3,421 151,411.8 151.6,421 152.3,404.8 153,433.8 153.6,421 154.3,433.8 155,421 155.6,394.1 156.3,455.8 157,404.8 157.6,421 158.3,404.8 159,455.8 159.6,433.8 160.3,433.8 161,411.8 161.6,394.1 162.3,433.8 163,399 163.6,404.8 164.3,421 165,404.8 165.6,421 166.3,404.8 167,399 167.6,411.8 168.3,411.8 168.9,394.1 169.6,433.8 170.3,455.8 170.9,433.8 171.6,404.8 172.3,411.8 172.9,389.9 173.6,421 174.3,404.8 174.9,411.8 175.6,404.8 176.3,421 176.9,421 177.6,455.8 178.3,421 178.9,421 179.6,421 180.3,399 180.9,399 181.6,411.8 182.3,411.8 182.9,433.8 183.6,411.8 184.3,433.8 184.9,399 185.6,433.8 186.3,399 186.9,389.9 187.6,404.8 188.3,411.8 188.9,421 189.6,399 190.2,433.8 190.9,455.8 191.6,394.1 192.2,455.8 192.9,421 193.6,421 194.2,433.8 194.9,394.1 195.6,433.8 196.2,404.8 196.9,433.8 197.6,399 198.2,411.8 198.9,433.8 199.6,411.8 200.2,421 200.9,389.9 201.6,455.8 202.2,411.8 202.9,399 203.6,411.8 204.2,421 204.9,404.8 205.6,404.8 206.2,404.8 206.9,394.1 207.6,386.1 208.2,382.8 208.9,389.9 209.6,404.8 210.2,399 210.9,389.9 211.5,394.1 212.2,399 212.9,399 213.5,404.8 214.2,372.1 214.9,455.8 215.5,411.8 216.2,394.1 216.9,399 217.5,399 218.2,394.1 218.9,389.9 219.5,404.8 220.2,386.1 220.9,394.1 221.5,389.9 222.2,386.1 222.9,389.9 223.5,389.9 224.2,411.8 224.9,386.1 225.5,382.8 226.2,394.1 226.9,382.8 227.5,399 228.2,386.1 228.9,394.1 229.5,374.5 230.2,386.1 230.8,382.8 231.5,394.1 232.2,389.9 232.8,404.8 233.5,394.1 234.2,421 234.8,404.8 235.5,399 236.2,394.1 236.8,379.8 237.5,382.8 238.2,399 238.8,389.9 239.5,389.9 240.2,377 240.8,389.9 241.5,404.8 242.2,377 242.8,377 243.5,377 244.2,367.9 244.8,364.2 245.5,379.8 246.2,411.8 246.8,389.9 247.5,377 248.2,372.1 248.8,389.9 249.5,389.9 250.2,367.9 250.8,374.5 251.4,375.3 251.6,374.9 251.8,374.5 252,374.1 252.2,373.7 252.4,373.3 252.6,372.8 252.9,372.4 253.1,371.9 253.3,371.4 253.5,370.9 253.7,370.4 253.9,369.9 254.1,369.3 254.3,368.7 254.5,368.1 254.7,367.4 254.9,366.7 255.1,366 255.4,365.3 255.6,364.5 255.8,363.6 256,362.7 256.2,361.8 256.4,360.8 256.6,359.7 256.8,358.6 257,357.4 257.2,356.1 257.4,354.7 257.6,353.3 257.8,351.7 258.1,350 258.3,348.1 258.5,346.1 258.7,343.9 258.9,341.6 259.1,339 259.3,336.3 259.5,333.3 259.7,330 259.9,326.5 260.1,322.8 260.3,318.8 260.6,314.6 260.8,310.4 261,306.3 261.2,302.5 261.4,299.4 261.6,297.3 261.8,296.5 262,297.3 262.2,299.4 262.4,302.5 262.6,306.3 262.8,310.4 263,314.6 263.3,318.8 263.5,322.8 263.7,326.5 263.9,330 264.1,333.3 264.3,336.3 264.5,339 264.7,341.6 264.9,343.9 265.1,346.1 265.3,348.1 265.5,350 265.8,351.7 266,353.3 266.2,354.7 266.4,356.1 266.6,357.4 266.8,358.6 267,359.7 267.2,360.8 267.4,361.8 267.6,362.7 267.8,363.6 268,364.5 268.2,365.3 268.5,366 268.7,366.7 268.9,367.4 269.1,368.1 269.3,368.7 269.5,369.3 269.7,369.9 269.9,370.4 270.1,370.9 270.3,371.4 270.5,371.9 270.7,372.4 271,372.8 271.2,373.3 271.4,373.7 271.6,374.1 271.8,374.5 272,374.9 272.2,375.3 272.8,379.8 273.4,369.9 274.1,386.1 274.8,394.1 275.4,382.8 276.1,389.9 276.8,374.5 277.4,360.8 278.1,404.8 278.8,389.9 279.4,382.8 280.1,374.5 280.8,421 281.4,374.5 282.1,389.9 282.8,386.1 283.4,421 284.1,377 284.8,367.9 285.4,433.8 286.1,421 286.8,394.1 287.4,382.8 288.1,389.9 288.8,377 289.4,372.1 290.1,379.8 290.8,399 291.4,394.1 292.1,382.8 292.8,382.8 293.4,411.8 294.1,404.8 294.7,399 295.4,389.9 296.1,366 296.7,394.1 297.4,382.8 298.1,404.8 298.7,379.8 299.4,404.8 300.1,411.8 300.7,377 301.4,455.8 302.1,404.8 302.7,399 303.4,421 304.1,421 304.7,433.8 305.4,399 306.1,404.8 306.7,394.1 307.4,421 308.1,411.8 308.7,386.1 309.4,399 310.1,404.8 310.7,382.8 311.4,433.8 312.1,411.8 312.7,411.8 313.4,394.1 314,394.1 314.7,421 315.4,411.8 316,386.1 316.7,394.1 317.4,411.8 318,411.8 318.7,404.8 319.4,404.8 320,389.9 320.7,404.8 321.4,404.8 322,404.8 322.7,433.8 323.4,411.8 324,404.8 324.7,404.8 325.4,404.8 326,421 326.7,404.8 327.4,399 328,399 328.7,404.8 329.4,394.1 330,455.8 330.7,394.1 331.4,421 332,399 332.7,404.8 333.4,399 334,411.8 334.7,404.8 335.3,411.8 336,455.8 336.7,404.8 337.3,404.8 338,411.8 338.7,433.8 339.3,404.8 340,394.1 340.7,399 341.3,421 342,455.8 342.7,421 343.3,433.8 344,399 344.7,433.8 345.3,404.8 346,386.1 346.7,411.8 347.3,399 348,433.8 348.7,421 349.3,404.8 350,386.1 350.7,433.8 351.3,399 352,411.8 352.7,404.8 353.3,455.8 354,433.8 354.7,433.8 355.3,394.1 356,421 356.6,404.8 357.3,399 358,411.8 358.6,421 359.3,421 360,421 360.6,411.8 361.3,433.8 362,421 362.6,421 363.3,455.8 364,394.1 364.6,411.8 365.3,433.8 366,433.8 366.6,404.8 367.3,399 368,433.8 368.6,421 369.3,421 370,399 370.6,404.8 371.3,455.8 372,455.8 372.6,411.8 373.3,389.9 374,411.8 374.6,421 375.3,404.8 376,421 376.6,421 377.3,389.9 377.9,455.8 378.6,421 379.3,421 379.9,433.8 380.6,399 381.3,433.8 381.9,421 382.6,399 383.3,421 383.9,433.8 384.6,421 385.3,455.8 385.9,411.8 386.6,433.8 387.3,399 387.9,433.8 388.6,399 389.3,455.8 389.9,433.8 390.6,411.8 391.3,411.8 391.9,421 392.6,411.8 393.3,421 393.9,411.8 394.6,411.8 395.3,433.8 395.9,433.8 396.6,421 397.2,421 397.9,455.8 398.6,421 399.2,411.8 399.9,404.8 400.6,455.8 401.2,421 401.9,421 402.6,433.8 403.2,433.8 403.9,433.8 404.6,455.8 405.2,433.8 405.9,433.8 406.6,433.8 407.2,411.8 407.9,433.8 408.6,433.8 409.2,404.8 409.9,421 410.6,421 411.2,455.8 411.9,411.8 412.6,455.8 413.2,421 413.9,421 414.6,404.8 415.2,433.8 415.9,421 416.6,455.8 417.2,433.8 417.9,433.8 418.5,411.8 419.2,455.8 419.9,421 420.5,411.8 421.2,411.8 421.9,411.8 422.5,455.8 423.2,455.8 423.9,455.8 424.5,455.8 425.2,433.8 425.9,394.1 426.5,455.8 427.2,404.8 427.9,421 428.5,421 429.2,421 429.9,404.8 430.5,411.8 431.2,421 431.9,411.8 432.5,455.8 433.2,433.8 433.9,433.8 434.5,411.8 435.2,455.8 435.9,455.8 436.5,455.8 437.2,455.8 437.9,433.8 438.5,411.8 439.2,411.8 439.8,455.8 440.5,455.8 441.2,433.8 441.8,455.8 442.5,433.8 443.2,433.8 443.8,433.8 444.5,433.8 445.2,455.8 445.8,433.8 446.5,433.8 447.2,455.8 447.8,455.8 448.5,411.8 449.2,455.8 449.8,455.8 450.5,455.8 451.2,433.8 451.8,421 452.5,411.8 453.2,455.8 453.8,404.8 454.5,433.8 455.2,433.8 455.8,399 456.5,433.8 457.2,433.8 457.8,404.8 458.5,411.8 459.2,455.8 459.8,455.8 460.5,433.8 461.1,433.8 461.8,433.8 462.5,455.8 463.1,404.8 463.8,433.8 464.5,421 465.1,421 465.8,433.8 466.5,433.8 467.1,404.8 467.8,421 468.5,411.8 469.1,455.8 469.8,421" fill="none" stroke="#3a3a3a" stroke-width="0.6" stroke-linejoin="round" />
<polyline points="53.9,455.8 54.3,411.8 54.7,411.8 55,421 55.4,455.8 55.8,455.8 56.2,411.8 56.5,433.8 56.9,455.8 57.3,433.8 57.7,433.8 58,433.8 58.4,421 58.8,411.8 59.2,433.8 59.5,455.8 59.9,455.8 60.3,404.8 60.7,433.8 61,411.8 61.4,433.8 61.8,455.8 62.2,421 62.5,421 62.9,455.8 63.3,404.8 63.7,455.8 64,421 64.4,411.8 64.8,411.8 65.2,433.8 65.5,411.8 65.9,433.8 66.3,433.8 66.7,455.8 67,389.9 67.4,421 67.8,421 68.2,433.8 68.5,404.8 68.9,433.8 69.3,433.8 69.6,433.8 70,455.8 70.4,455.8 70.8,421 71.1,433.8 71.5,455.8 71.9,421 72.3,433.8 72.6,455.8 73,421 73.4,421 73.8,433.8 74.1,389.9 74.5,433.8 74.9,455.8 75.3,411.8 75.6,433.8 76,421 76.4,433.8 76.8,455.8 77.1,411.8 77.5,411.8 77.9,433.8 78.3,433.8 78.6,411.8 79,433.8 79.4,433.8 79.8,404.8 80.1,421 80.5,433.8 80.9,421 81.3,455.8 81.6,433.8 82,433.8 82.4,433.8 82.8,404.8 83.1,455.8 83.5,433.8 83.9,455.8 84.3,394.1 84.6,455.8 85,421 85.4,433.8 85.7,433.8 86.1,411.8 86.5,411.8 86.9,404.8 87.2,455.8 87.6,455.8 88,455.8 88.4,433.8 88.7,455.8 89.1,433.8 89.5,404.8 89.9,421 90.2,433.8 90.6,433.8 91,421 91.4,421 91.7,411.8 92.1,433.8 92.5,421 92.9,411.8 93.2,455.8 93.6,411.8 94,455.8 94.4,421 94.7,404.8 95.1,404.8 95.5,411.8 95.9,421 96.2,433.8 96.6,404.8 97,455.8 97.4,455.8 97.7,433.8 98.1,404.8 98.5,455.8 98.9,404.8 99.2,433.8 99.6,433.8 100,421 100.4,433.8 100.7,455.8 101.1,421 101.5,455.8 101.8,433.8 102.2,411.8 102.6,421 103,433.8 103.3,421 103.7,411.8 104.1,411.8 104.5,421 104.8,421 105.2,411.8 105.6,455.8 106,455.8 106.3,455.8 106.7,421 107.1,433.8 107.5,433.8 107.8,433.8 108.2,399 108.6,404.8 109,455.8 109.3,455.8 109.7,421 110.1,411.8 110.5,455.8 110.8,433.8 111.2,433.8 111.6,421 112,455.8 112.3,433.8 112.7,404.8 113.1,433.8 113.5,455.8 113.8,389.9 114.2,433.8 114.6,433.8 115,411.8 115.3,433.8 115.7,411.8 116.1,455.8 116.4,421 116.8,411.8 117.2,433.8 117.6,433.8 117.9,411.8 118.3,421 118.7,433.8 119.1,404.8 119.4,455.8 119.8,404.8 120.2,411.8 120.6,411.8 120.9,421 121.3,455.8 121.7,411.8 122.1,411.8 122.4,404.8 122.8,411.8 123.2,404.8 123.6,433.8 123.9,433.8 124.3,421 124.7,421 125.1,421 125.4,455.8 125.8,433.8 126.2,433.8 126.6,455.8 126.9,404.8 127.3,411.8 127.7,455.8 128.1,394.1 128.4,433.8 128.8,404.8 129.2,455.8 129.6,421 129.9,455.8 130.3,404.8 130.7,421 131.1,433.8 131.4,411.8 131.8,455.8 132.2,455.8 132.5,421 132.9,433.8 133.3,455.8 133.7,433.8 134,399 134.4,455.8 134.8,399 135.2,433.8 135.5,411.8 135.9,433.8 136.3,421 136.7,421 137,433.8 137.4,433.8 137.8,421 138.2,455.8 138.5,455.8 138.9,433.8 139.3,411.8 139.7,411.8 140,421 140.4,455.8 140.8,455.8 141.2,404.8 141.5,433.8 141.9,433.8 142.3,433.8 142.7,411.8 143,433.8 143.4,421 143.8,433.8 144.2,455.8 144.5,404.8 144.9,404.8 145.3,433.8 145.7,421 146,399 146.4,411.8 146.8,421 147.2,404.8 147.5,411.8 147.9,421 148.3,433.8 148.6,404.8 149,404.8 149.4,404.8 149.8,404.8 150.1,421 150.5,421 150.9,411.8 151.3,421 151.6,421 152,389.9 152.4,404.8 152.8,411.8 153.1,433.8 153.5,411.8 153.9,455.8 154.3,433.8 154.6,455.8 155,411.8 155.4,433.8 155.8,404.8 156.1,389.9 156.5,421 156.9,455.8 157.3,433.8 157.6,411.8 158,404.8 158.4,411.8 158.8,455.8 159.1,411.8 159.5,404.8 159.9,433.8 160.3,421 160.6,455.8 161,404.8 161.4,421 161.8,433.8 162.1,433.8 162.5,386.1 162.9,455.8 163.2,411.8 163.6,411.8 164,421 164.4,389.9 164.7,399 165.1,404.8 165.5,433.8 165.9,404.8 166.2,411.8 166.6,433.8 167,411.8 167.4,455.8 167.7,399 168.1,411.8 168.5,421 168.9,421 169.2,404.8 169.6,455.8 170,433.8 170.4,421 170.7,421 171.1,411.8 171.5,455.8 171.9,433.8 172.2,421 172.6,433.8 173,404.8 173.4,411.8 173.7,421 174.1,421 174.5,421 174.9,421 175.2,433.8 175.6,455.8 176,411.8 176.4,382.8 176.7,404.8 177.1,421 177.5,421 177.9,394.1 178.2,399 178.6,399 179,411.8 179.3,379.8 179.7,394.1 180.1,399 180.5,421 180.8,394.1 181.2,411.8 181.6,411.8 182,455.8 182.3,411.8 182.7,386.1 183.1,455.8 183.5,399 183.8,404.8 184.2,404.8 184.6,455.8 185,421 185.3,455.8 185.7,399 186.1,404.8 186.5,411.8 186.8,394.1 187.2,411.8 187.6,411.8 188,404.8 188.3,411.8 188.7,404.8 189.1,455.8 189.5,411.8 189.8,411.8 190.2,382.8 190.6,394.1 191,399 191.3,411.8 191.7,421 192.1,404.8 192.5,399 192.8,404.8 193.2,411.8 193.6,404.8 194,421 194.3,421 194.7,399 195.1,411.8 195.4,404.8 195.8,404.8 196.2,411.8 196.6,389.9 196.9,433.8 197.3,404.8 197.7,433.8 198.1,399 198.4,421 198.8,433.8 199.2,433.8 199.6,433.8 199.9,399 200.3,394.1 200.7,399 201.1,421 201.4,394.1 201.8,399 202.2,404.8 202.6,399 202.9,389.9 203.3,389.9 203.7,411.8 204.1,404.8 204.4,399 204.8,389.9 205.2,389.9 205.6,411.8 205.9,421 206.3,394.1 206.7,394.1 207.1,399 207.4,433.8 207.8,404.8 208.2,394.1 208.6,411.8 208.9,386.1 209.3,394.1 209.7,399 210,421 210.4,404.8 210.8,399 211.2,386.1 211.5,404.8 211.9,399 212.3,411.8 212.7,404.8 213,386.1 213.4,411.8 213.8,421 214.2,411.8 214.5,389.9 214.9,433.8 215.3,404.8 215.7,411.8 216,455.8 216.4,389.9 216.8,455.8 217.2,404.8 217.5,394.1 217.9,386.1 218.3,389.9 218.7,404.8 219,411.8 219.4,379.8 219.8,394.1 220.2,404.8 220.5,411.8 220.9,411.8 221.3,389.9 221.7,389.9 222,389.9 222.4,399 222.8,399 223.2,404.8 223.5,386.1 223.9,394.1 224.3,421 224.7,394.1 225,404.8 225.4,399 225.8,399 226.1,386.1 226.5,382.8 226.9,399 227.3,394.1 227.6,399 228,377 228.4,389.9 228.8,404.8 229.1,386.1 229.5,389.9 229.9,394.1 230.3,382.8 230.6,394.1 231,411.8 231.4,377 231.8,394.1 232.1,404.8 232.5,399 232.9,386.1 233.3,377 233.6,421 234,389.9 234.4,394.1 234.8,394.1 235.1,394.1 235.5,379.8 235.9,377 236.3,386.1 236.6,372.1 237,379.8 237.4,411.8 237.8,389.9 238.1,372.1 238.5,379.8 238.9,382.8 239.3,389.9 239.6,394.1 240,394.1 240.4,386.1 240.8,382.8 241.1,386.1 241.5,394.1 241.9,394.1 242.2,389.9 242.6,374.5 243,386.1 243.4,399 243.7,382.8 244.1,399 244.5,366 244.9,377 245.2,369.9 245.6,389.9 246,377 246.4,372.1 246.7,374.5 247.1,372.1 247.5,399 247.9,389.9 248.2,379.8 248.6,374.5 249,377 249.4,399 249.7,377 250.1,366 250.5,386.1 250.9,382.8 251.2,367.9 251.4,375.3 251.6,375 251.8,374.6 252,374.2 252.2,373.8 252.4,373.4 252.6,372.9 252.9,372.5 253.1,372 253.3,371.5 253.5,371 253.7,370.5 253.9,370 254.1,369.4 254.3,368.8 254.5,368.2 254.7,367.5 254.9,366.9 255.1,366.2 255.4,365.4 255.6,364.6 255.8,363.8 256,362.9 256.2,362 256.4,361 256.6,359.9 256.8,358.8 257,357.6 257.2,356.3 257.4,355 257.6,353.5 257.8,351.9 258.1,350.2 258.3,348.4 258.5,346.4 258.7,344.2 258.9,341.9 259.1,339.3 259.3,336.6 259.5,333.6 259.7,330.4 259.9,326.9 260.1,323.1 260.3,319.2 260.6,315 260.8,310.8 261,306.7 261.2,302.9 261.4,299.8 261.6,297.7 261.8,296.9 262,297.7 262.2,299.8 262.4,302.9 262.6,306.7 262.8,310.8 263,315 263.3,319.2 263.5,323.1 263.7,326.9 263.9,330.4 264.1,333.6 264.3,336.6 264.5,339.3 264.7,341.9 264.9,344.2 265.1,346.4 265.3,348.4 265.5,350.2 265.8,351.9 266,353.5 266.2,355 266.4,356.3 266.6,357.6 266.8,358.8 267,359.9 267.2,361 267.4,362 267.6,362.9 267.8,363.8 268,364.6 268.2,365.4 268.5,366.2 268.7,366.9 268.9,367.5 269.1,368.2 269.3,368.8 269.5,369.4 269.7,370 269.9,370.5 270.1,371 270.3,371.5 270.5,372 270.7,372.5 271,372.9 271.2,373.4 271.4,373.8 271.6,374.2 271.8,374.6 272,375 272.2,375.3 272.2,404.8 272.6,377 272.9,411.8 273.3,367.9 273.7,379.8 274.1,382.8 274.4,377 274.8,372.1 275.2,382.8 275.6,382.8 275.9,372.1 276.3,389.9 276.7,386.1 277.1,386.1 277.4,382.8 277.8,377 278.2,382.8 278.6,399 278.9,379.8 279.3,379.8 279.7,394.1 280.1,382.8 280.4,382.8 280.8,379.8 281.2,372.1 281.6,377 281.9,374.5 282.3,389.9 282.7,411.8 283.1,377 283.4,377 283.8,386.1 284.2,394.1 284.6,394.1 284.9,394.1 285.3,404.8 285.7,399 286.1,386.1 286.4,386.1 286.8,399 287.2,386.1 287.6,389.9 287.9,399 288.3,382.8 288.7,379.8 289,389.9 289.4,389.9 289.8,394.1 290.2,386.1 290.5,389.9 290.9,389.9 291.3,411.8 291.7,404.8 292,394.1 292.4,382.8 292.8,394.1 293.2,404.8 293.5,399 293.9,399 294.3,404.8 294.7,421 295,399 295.4,389.9 295.8,394.1 296.2,404.8 296.5,389.9 296.9,386.1 297.3,399 297.7,382.8 298,399 298.4,389.9 298.8,379.8 299.2,399 299.5,389.9 299.9,399 300.3,394.1 300.7,379.8 301,411.8 301.4,394.1 301.8,386.1 302.2,394.1 302.5,394.1 302.9,421 303.3,389.9 303.6,411.8 304,421 304.4,394.1 304.8,404.8 305.1,399 305.5,455.8 305.9,394.1 306.3,382.8 306.6,389.9 307,382.8 307.4,382.8 307.8,411.8 308.1,411.8 308.5,399 308.9,389.9 309.3,421 309.6,404.8 310,404.8 310.4,389.9 310.8,421 311.1,411.8 311.5,394.1 311.9,411.8 312.3,374.5 312.6,404.8 313,394.1 313.4,389.9 313.8,394.1 314.1,394.1 314.5,386.1 314.9,411.8 315.3,411.8 315.6,386.1 316,386.1 316.4,389.9 316.8,404.8 317.1,404.8 317.5,389.9 317.9,421 318.3,411.8 318.6,404.8 319,421 319.4,404.8 319.7,411.8 320.1,433.8 320.5,386.1 320.9,421 321.2,421 321.6,421 322,411.8 322.4,386.1 322.7,404.8 323.1,421 323.5,433.8 323.9,399 324.2,411.8 324.6,411.8 325,411.8 325.4,389.9 325.7,394.1 326.1,404.8 326.5,382.8 326.9,404.8 327.2,404.8 327.6,394.1 328,421 328.4,404.8 328.7,404.8 329.1,394.1 329.5,421 329.9,433.8 330.2,433.8 330.6,411.8 331,411.8 331.4,455.8 331.7,399 332.1,411.8 332.5,411.8 332.9,399 333.2,421 333.6,399 334,386.1 334.4,404.8 334.7,389.9 335.1,411.8 335.5,411.8 335.8,404.8 336.2,394.1 336.6,455.8 337,433.8 337.3,433.8 337.7,389.9 338.1,399 338.5,399 338.8,411.8 339.2,411.8 339.6,411.8 340,421 340.3,399 340.7,399 341.1,421 341.5,433.8 341.8,394.1 342.2,433.8 342.6,399 343,394.1 343.3,433.8 343.7,404.8 344.1,421 344.5,433.8 344.8,455.8 345.2,411.8 345.6,455.8 346,399 346.3,433.8 346.7,389.9 347.1,421 347.5,455.8 347.8,433.8 348.2,411.8 348.6,399 349,404.8 349.3,394.1 349.7,404.8 350.1,404.8 350.4,411.8 350.8,404.8 351.2,394.1 351.6,411.8 351.9,399 352.3,421 352.7,433.8 353.1,411.8 353.4,433.8 353.8,433.8 354.2,421 354.6,404.8 354.9,421 355.3,455.8 355.7,433.8 356.1,389.9 356.4,455.8 356.8,399 357.2,411.8 357.6,404.8 357.9,411.8 358.3,386.1 358.7,399 359.1,455.8 359.4,421 359.8,455.8 360.2,399 360.6,394.1 360.9,411.8 361.3,455.8 361.7,421 362.1,411.8 362.4,389.9 362.8,411.8 363.2,433.8 363.6,421 363.9,421 364.3,433.8 364.7,421 365.1,394.1 365.4,411.8 365.8,421 366.2,421 366.5,411.8 366.9,411.8 367.3,411.8 367.7,433.8 368,404.8 368.4,411.8 368.8,433.8 369.2,411.8 369.5,404.8 369.9,411.8 370.3,421 370.7,455.8 371,433.8 371.4,386.1 371.8,421 372.2,433.8 372.5,421 372.9,404.8 373.3,399 373.7,404.8 374,433.8 374.4,411.8 374.8,399 375.2,404.8 375.5,411.8 375.9,404.8 376.3,394.1 376.7,421 377,455.8 377.4,433.8 377.8,433.8 378.2,411.8 378.5,455.8 378.9,421 379.3,421 379.7,421 380,421 380.4,455.8 380.8,394.1 381.2,404.8 381.5,421 381.9,421 382.3,421 382.6,433.8 383,433.8 383.4,399 383.8,411.8 384.1,433.8 384.5,404.8 384.9,421 385.3,399 385.6,421 386,421 386.4,399 386.8,399 387.1,433.8 387.5,455.8 387.9,411.8 388.3,421 388.6,404.8 389,404.8 389.4,411.8 389.8,433.8 390.1,399 390.5,421 390.9,411.8 391.3,455.8 391.6,455.8 392,433.8 392.4,421 392.8,455.8 393.1,421 393.5,455.8 393.9,411.8 394.3,433.8 394.6,433.8 395,433.8 395.4,404.8 395.8,421 396.1,455.8 396.5,455.8 396.9,421 397.2,404.8 397.6,455.8 398,399 398.4,433.8 398.7,433.8 399.1,399 399.5,455.8 399.9,421 400.2,421 400.6,421 401,421 401.4,421 401.7,455.8 402.1,455.8 402.5,404.8 402.9,455.8 403.2,421 403.6,455.8 404,455.8 404.4,404.8 404.7,455.8 405.1,421 405.5,411.8 405.9,433.8 406.2,421 406.6,455.8 407,421 407.4,404.8 407.7,455.8 408.1,421 408.5,433.8 408.9,421 409.2,455.8 409.6,421 410,433.8 410.4,421 410.7,433.8 411.1,455.8 411.5,455.8 411.9,433.8 412.2,433.8 412.6,421 413,421 413.3,399 413.7,455.8 414.1,411.8 414.5,455.8 414.8,411.8 415.2,389.9 415.6,455.8 416,433.8 416.3,433.8 416.7,455.8 417.1,421 417.5,455.8 417.8,433.8 418.2,433.8 418.6,433.8 419,455.8 419.3,421 419.7,421 420.1,455.8 420.5,433.8 420.8,433.8 421.2,455.8 421.6,421 422,404.8 422.3,433.8 422.7,394.1 423.1,455.8 423.5,433.8 423.8,421 424.2,455.8 424.6,433.8 425,411.8 425.3,433.8 425.7,433.8 426.1,404.8 426.5,455.8 426.8,455.8 427.2,455.8 427.6,421 428,455.8 428.3,411.8 428.7,421 429.1,394.1 429.4,433.8 429.8,433.8 430.2,421 430.6,455.8 430.9,394.1 431.3,455.8 431.7,433.8 432.1,399 432.4,411.8 432.8,455.8 433.2,421 433.6,433.8 433.9,411.8 434.3,421 434.7,455.8 435.1,421 435.4,433.8 435.8,433.8 436.2,455.8 436.6,455.8 436.9,433.8 437.3,433.8 437.7,421 438.1,433.8 438.4,455.8 438.8,455.8 439.2,455.8 439.6,433.8 439.9,455.8 440.3,433.8 440.7,433.8 441.1,433.8 441.4,455.8 441.8,421 442.2,411.8 442.6,404.8 442.9,455.8 443.3,455.8 443.7,411.8 444,421 444.4,399 444.8,433.8 445.2,399 445.5,404.8 445.9,433.8 446.3,421 446.7,455.8 447,411.8 447.4,404.8 447.8,411.8 448.2,411.8 448.5,433.8 448.9,433.8 449.3,421 449.7,421 450,455.8 450.4,455.8 450.8,455.8 451.2,421 451.5,421 451.9,455.8 452.3,455.8 452.7,433.8 453,433.8 453.4,455.8 453.8,421 454.2,455.8 454.5,411.8 454.9,455.8 455.3,421 455.7,455.8 456,455.8 456.4,411.8 456.8,411.8 457.2,455.8 457.5,421 457.9,411.8 458.3,404.8 458.7,433.8 459,411.8 459.4,455.8 459.8,421 460.1,404.8 460.5,433.8 460.9,455.8 461.3,455.8 461.6,455.8 462,421 462.4,421 462.8,421 463.1,455.8 463.5,411.8 463.9,433.8 464.3,421 464.6,411.8 465,404.8 465.4,411.8 465.8,421 466.1,433.8 466.5,455.8 466.9,433.8 467.3,404.8 467.6,421 468,421 468.4,433.8 468.8,404.8 469.1,455.8 469.5,421 469.9,411.8" fill="none" stroke="#86e050" stroke-width="0.6" stroke-linejoin="round" />
</g>
<line x1="53.8" y1="455.8" x2="53.8" y2="451.8" stroke="#333" stroke-width="0.9" />
<line x1="53.8" y1="265.5" x2="53.8" y2="269.5" stroke="#333" stroke-width="0.9" />
<text x="53.8" y="477.2" font-size="17.3" fill="#1a1a1a" text-anchor="middle" >-0.5</text>
<line x1="95.4" y1="455.8" x2="95.4" y2="451.8" stroke="#333" stroke-width="0.9" />
<line x1="95.4" y1="265.5" x2="95.4" y2="269.5" stroke="#333" stroke-width="0.9" />
<text x="95.4" y="477.2" font-size="17.3" fill="#1a1a1a" text-anchor="middle" >-0.4</text>
<line x1="137" y1="455.8" x2="137" y2="451.8" stroke="#333" stroke-width="0.9" />
<line x1="137" y1="265.5" x2="137" y2="269.5" stroke="#333" stroke-width="0.9" />
<text x="137" y="477.2" font-size="17.3" fill="#1a1a1a" text-anchor="middle" >-0.3</text>
<line x1="178.6" y1="455.8" x2="178.6" y2="451.8" stroke="#333" stroke-width="0.9" />
<line x1="178.6" y1="265.5" x2="178.6" y2="269.5" stroke="#333" stroke-width="0.9" />
<text x="178.6" y="477.2" font-size="17.3" fill="#1a1a1a" text-anchor="middle" >-0.2</text>
<line x1="220.2" y1="455.8" x2="220.2" y2="451.8" stroke="#333" stroke-width="0.9" />
<line x1="220.2" y1="265.5" x2="220.2" y2="269.5" stroke="#333" stroke-width="0.9" />
<text x="220.2" y="477.2" font-size="17.3" fill="#1a1a1a" text-anchor="middle" >-0.1</text>
<line x1="261.8" y1="455.8" x2="261.8" y2="451.8" stroke="#333" stroke-width="0.9" />
<line x1="261.8" y1="265.5" x2="261.8" y2="269.5" stroke="#333" stroke-width="0.9" />
<text x="261.8" y="477.2" font-size="17.3" fill="#1a1a1a" text-anchor="middle" >0</text>
<line x1="303.4" y1="455.8" x2="303.4" y2="451.8" stroke="#333" stroke-width="0.9" />
<line x1="303.4" y1="265.5" x2="303.4" y2="269.5" stroke="#333" stroke-width="0.9" />
<text x="303.4" y="477.2" font-size="17.3" fill="#1a1a1a" text-anchor="middle" >0.1</text>
<line x1="345" y1="455.8" x2="345" y2="451.8" stroke="#333" stroke-width="0.9" />
<line x1="345" y1="265.5" x2="345" y2="269.5" stroke="#333" stroke-width="0.9" />
<text x="345" y="477.2" font-size="17.3" fill="#1a1a1a" text-anchor="middle" >0.2</text>
<line x1="386.6" y1="455.8" x2="386.6" y2="451.8" stroke="#333" stroke-width="0.9" />
<line x1="386.6" y1="265.5" x2="386.6" y2="269.5" stroke="#333" stroke-width="0.9" />
<text x="386.6" y="477.2" font-size="17.3" fill="#1a1a1a" text-anchor="middle" >0.3</text>
<line x1="428.2" y1="455.8" x2="428.2" y2="451.8" stroke="#333" stroke-width="0.9" />
<line x1="428.2" y1="265.5" x2="428.2" y2="269.5" stroke="#333" stroke-width="0.9" />
<text x="428.2" y="477.2" font-size="17.3" fill="#1a1a1a" text-anchor="middle" >0.4</text>
<line x1="469.8" y1="455.8" x2="469.8" y2="451.8" stroke="#333" stroke-width="0.9" />
<line x1="469.8" y1="265.5" x2="469.8" y2="269.5" stroke="#333" stroke-width="0.9" />
<text x="469.8" y="477.2" font-size="17.3" fill="#1a1a1a" text-anchor="middle" >0.5</text>
<line x1="53.8" y1="455.8" x2="57.8" y2="455.8" stroke="#d23a2a" stroke-width="0.9" />
<line x1="53.8" y1="446.7" x2="55.8" y2="446.7" stroke="#d23a2a" stroke-width="0.9" />
<line x1="53.8" y1="441.4" x2="55.8" y2="441.4" stroke="#d23a2a" stroke-width="0.9" />
<line x1="53.8" y1="437.6" x2="55.8" y2="437.6" stroke="#d23a2a" stroke-width="0.9" />
<line x1="53.8" y1="434.7" x2="55.8" y2="434.7" stroke="#d23a2a" stroke-width="0.9" />
<line x1="53.8" y1="432.3" x2="55.8" y2="432.3" stroke="#d23a2a" stroke-width="0.9" />
<line x1="53.8" y1="430.3" x2="55.8" y2="430.3" stroke="#d23a2a" stroke-width="0.9" />
<line x1="53.8" y1="428.5" x2="55.8" y2="428.5" stroke="#d23a2a" stroke-width="0.9" />
<line x1="53.8" y1="427" x2="55.8" y2="427" stroke="#d23a2a" stroke-width="0.9" />
<line x1="53.8" y1="425.6" x2="57.8" y2="425.6" stroke="#d23a2a" stroke-width="0.9" />
<line x1="53.8" y1="416.5" x2="55.8" y2="416.5" stroke="#d23a2a" stroke-width="0.9" />
<line x1="53.8" y1="411.2" x2="55.8" y2="411.2" stroke="#d23a2a" stroke-width="0.9" />
<line x1="53.8" y1="407.4" x2="55.8" y2="407.4" stroke="#d23a2a" stroke-width="0.9" />
<line x1="53.8" y1="404.5" x2="55.8" y2="404.5" stroke="#d23a2a" stroke-width="0.9" />
<line x1="53.8" y1="402.1" x2="55.8" y2="402.1" stroke="#d23a2a" stroke-width="0.9" />
<line x1="53.8" y1="400.1" x2="55.8" y2="400.1" stroke="#d23a2a" stroke-width="0.9" />
<line x1="53.8" y1="398.3" x2="55.8" y2="398.3" stroke="#d23a2a" stroke-width="0.9" />
<line x1="53.8" y1="396.8" x2="55.8" y2="396.8" stroke="#d23a2a" stroke-width="0.9" />
<line x1="53.8" y1="395.4" x2="57.8" y2="395.4" stroke="#d23a2a" stroke-width="0.9" />
<line x1="53.8" y1="386.3" x2="55.8" y2="386.3" stroke="#d23a2a" stroke-width="0.9" />
<line x1="53.8" y1="381" x2="55.8" y2="381" stroke="#d23a2a" stroke-width="0.9" />
<line x1="53.8" y1="377.2" x2="55.8" y2="377.2" stroke="#d23a2a" stroke-width="0.9" />
<line x1="53.8" y1="374.3" x2="55.8" y2="374.3" stroke="#d23a2a" stroke-width="0.9" />
<line x1="53.8" y1="371.9" x2="55.8" y2="371.9" stroke="#d23a2a" stroke-width="0.9" />
<line x1="53.8" y1="369.9" x2="55.8" y2="369.9" stroke="#d23a2a" stroke-width="0.9" />
<line x1="53.8" y1="368.1" x2="55.8" y2="368.1" stroke="#d23a2a" stroke-width="0.9" />
<line x1="53.8" y1="366.6" x2="55.8" y2="366.6" stroke="#d23a2a" stroke-width="0.9" />
<line x1="53.8" y1="365.2" x2="57.8" y2="365.2" stroke="#d23a2a" stroke-width="0.9" />
<line x1="53.8" y1="356.1" x2="55.8" y2="356.1" stroke="#d23a2a" stroke-width="0.9" />
<line x1="53.8" y1="350.8" x2="55.8" y2="350.8" stroke="#d23a2a" stroke-width="0.9" />
<line x1="53.8" y1="347" x2="55.8" y2="347" stroke="#d23a2a" stroke-width="0.9" />
<line x1="53.8" y1="344.1" x2="55.8" y2="344.1" stroke="#d23a2a" stroke-width="0.9" />
<line x1="53.8" y1="341.7" x2="55.8" y2="341.7" stroke="#d23a2a" stroke-width="0.9" />
<line x1="53.8" y1="339.7" x2="55.8" y2="339.7" stroke="#d23a2a" stroke-width="0.9" />
<line x1="53.8" y1="337.9" x2="55.8" y2="337.9" stroke="#d23a2a" stroke-width="0.9" />
<line x1="53.8" y1="336.4" x2="55.8" y2="336.4" stroke="#d23a2a" stroke-width="0.9" />
<line x1="53.8" y1="335" x2="57.8" y2="335" stroke="#d23a2a" stroke-width="0.9" />
<line x1="53.8" y1="325.9" x2="55.8" y2="325.9" stroke="#d23a2a" stroke-width="0.9" />
<line x1="53.8" y1="320.6" x2="55.8" y2="320.6" stroke="#d23a2a" stroke-width="0.9" />
<line x1="53.8" y1="316.8" x2="55.8" y2="316.8" stroke="#d23a2a" stroke-width="0.9" />
<line x1="53.8" y1="313.9" x2="55.8" y2="313.9" stroke="#d23a2a" stroke-width="0.9" />
<line x1="53.8" y1="311.5" x2="55.8" y2="311.5" stroke="#d23a2a" stroke-width="0.9" />
<line x1="53.8" y1="309.5" x2="55.8" y2="309.5" stroke="#d23a2a" stroke-width="0.9" />
<line x1="53.8" y1="307.7" x2="55.8" y2="307.7" stroke="#d23a2a" stroke-width="0.9" />
<line x1="53.8" y1="306.2" x2="55.8" y2="306.2" stroke="#d23a2a" stroke-width="0.9" />
<line x1="53.8" y1="304.8" x2="57.8" y2="304.8" stroke="#d23a2a" stroke-width="0.9" />
<line x1="53.8" y1="295.7" x2="55.8" y2="295.7" stroke="#d23a2a" stroke-width="0.9" />
<line x1="53.8" y1="290.4" x2="55.8" y2="290.4" stroke="#d23a2a" stroke-width="0.9" />
<line x1="53.8" y1="286.6" x2="55.8" y2="286.6" stroke="#d23a2a" stroke-width="0.9" />
<line x1="53.8" y1="283.7" x2="55.8" y2="283.7" stroke="#d23a2a" stroke-width="0.9" />
<line x1="53.8" y1="281.3" x2="55.8" y2="281.3" stroke="#d23a2a" stroke-width="0.9" />
<line x1="53.8" y1="279.3" x2="55.8" y2="279.3" stroke="#d23a2a" stroke-width="0.9" />
<line x1="53.8" y1="277.5" x2="55.8" y2="277.5" stroke="#d23a2a" stroke-width="0.9" />
<line x1="53.8" y1="276" x2="55.8" y2="276" stroke="#d23a2a" stroke-width="0.9" />
<line x1="53.8" y1="274.6" x2="57.8" y2="274.6" stroke="#d23a2a" stroke-width="0.9" />
<line x1="53.8" y1="265.5" x2="55.8" y2="265.5" stroke="#d23a2a" stroke-width="0.9" />
<line x1="469.8" y1="455.8" x2="465.8" y2="455.8" stroke="#2a2fc8" stroke-width="0.9" />
<line x1="469.8" y1="433.8" x2="467.8" y2="433.8" stroke="#2a2fc8" stroke-width="0.9" />
<line x1="469.8" y1="421" x2="467.8" y2="421" stroke="#2a2fc8" stroke-width="0.9" />
<line x1="469.8" y1="411.8" x2="467.8" y2="411.8" stroke="#2a2fc8" stroke-width="0.9" />
<line x1="469.8" y1="404.8" x2="467.8" y2="404.8" stroke="#2a2fc8" stroke-width="0.9" />
<line x1="469.8" y1="399" x2="467.8" y2="399" stroke="#2a2fc8" stroke-width="0.9" />
<line x1="469.8" y1="394.1" x2="467.8" y2="394.1" stroke="#2a2fc8" stroke-width="0.9" />
<line x1="469.8" y1="389.9" x2="467.8" y2="389.9" stroke="#2a2fc8" stroke-width="0.9" />
<line x1="469.8" y1="386.1" x2="467.8" y2="386.1" stroke="#2a2fc8" stroke-width="0.9" />
<line x1="469.8" y1="382.8" x2="465.8" y2="382.8" stroke="#2a2fc8" stroke-width="0.9" />
<line x1="469.8" y1="360.8" x2="467.8" y2="360.8" stroke="#2a2fc8" stroke-width="0.9" />
<line x1="469.8" y1="348" x2="467.8" y2="348" stroke="#2a2fc8" stroke-width="0.9" />
<line x1="469.8" y1="338.8" x2="467.8" y2="338.8" stroke="#2a2fc8" stroke-width="0.9" />
<line x1="469.8" y1="331.8" x2="467.8" y2="331.8" stroke="#2a2fc8" stroke-width="0.9" />
<line x1="469.8" y1="326" x2="467.8" y2="326" stroke="#2a2fc8" stroke-width="0.9" />
<line x1="469.8" y1="321.1" x2="467.8" y2="321.1" stroke="#2a2fc8" stroke-width="0.9" />
<line x1="469.8" y1="316.9" x2="467.8" y2="316.9" stroke="#2a2fc8" stroke-width="0.9" />
<line x1="469.8" y1="313.1" x2="467.8" y2="313.1" stroke="#2a2fc8" stroke-width="0.9" />
<line x1="469.8" y1="309.8" x2="465.8" y2="309.8" stroke="#2a2fc8" stroke-width="0.9" />
<line x1="469.8" y1="287.8" x2="467.8" y2="287.8" stroke="#2a2fc8" stroke-width="0.9" />
<line x1="469.8" y1="275" x2="467.8" y2="275" stroke="#2a2fc8" stroke-width="0.9" />
<line x1="469.8" y1="265.8" x2="467.8" y2="265.8" stroke="#2a2fc8" stroke-width="0.9" />
<line x1="53.8" y1="265.5" x2="469.8" y2="265.5" stroke="#333" stroke-width="1.2" />
<line x1="53.8" y1="455.8" x2="469.8" y2="455.8" stroke="#333" stroke-width="1.2" />
<line x1="53.8" y1="265.5" x2="53.8" y2="455.8" stroke="#d23a2a" stroke-width="1.2" />
<line x1="469.8" y1="265.5" x2="469.8" y2="455.8" stroke="#2a2fc8" stroke-width="1.2" />
<text x="41" y="464.4" font-size="17.3" fill="#c8342a" text-anchor="end">10</text>
<text x="41.2" y="456.1" font-size="13" fill="#c8342a">0</text>
<text x="41" y="434.2" font-size="17.3" fill="#c8342a" text-anchor="end">10</text>
<text x="41.2" y="425.9" font-size="13" fill="#c8342a">1</text>
<text x="41" y="404" font-size="17.3" fill="#c8342a" text-anchor="end">10</text>
<text x="41.2" y="395.7" font-size="13" fill="#c8342a">2</text>
<text x="41" y="373.8" font-size="17.3" fill="#c8342a" text-anchor="end">10</text>
<text x="41.2" y="365.5" font-size="13" fill="#c8342a">3</text>
<text x="41" y="343.6" font-size="17.3" fill="#c8342a" text-anchor="end">10</text>
<text x="41.2" y="335.3" font-size="13" fill="#c8342a">4</text>
<text x="41" y="313.4" font-size="17.3" fill="#c8342a" text-anchor="end">10</text>
<text x="41.2" y="305.1" font-size="13" fill="#c8342a">5</text>
<text x="41" y="283.2" font-size="17.3" fill="#c8342a" text-anchor="end">10</text>
<text x="41.2" y="274.9" font-size="13" fill="#c8342a">6</text>
<text x="474" y="464.4" font-size="17.3" fill="#2b33c4">10</text>
<text x="493.4" y="455" font-size="14" fill="#2b33c4">0</text>
<text x="474" y="391.4" font-size="17.3" fill="#2b33c4">10</text>
<text x="493.4" y="382" font-size="14" fill="#2b33c4">1</text>
<text x="474" y="318.4" font-size="17.3" fill="#2b33c4">10</text>
<text x="493.4" y="309" font-size="14" fill="#2b33c4">2</text>
<text transform="translate(12.7,370.5) rotate(-90)" font-size="17.4" fill="#c8342a" text-anchor="middle">Substrate Intensity (arb.unit)</text>
<text transform="translate(515.5,365.5) rotate(-90)" font-size="17.9" fill="#2b33c4" text-anchor="middle">Film Intensity (arb.unit)</text>
<text x="261.8" y="499" font-size="16.5" fill="#1a1a1a" text-anchor="middle"><tspan font-family="'Liberation Serif', serif" font-style="italic">ω</tspan> (°)</text>
<text x="59.2" y="285.7" font-size="21" fill="#111" text-anchor="start" >(b)</text>
<line x1="86.7" y1="298.2" x2="68.4" y2="298.2" stroke="#cf3a2f" stroke-width="1.2" />
<polygon points="68.4,298.2 73.4,295.6 73.4,300.8" fill="#cf3a2f"/>
<line x1="438" y1="302.2" x2="459" y2="302.2" stroke="#2633c8" stroke-width="1.2" />
<polygon points="459,302.2 454,299.6 454,304.8" fill="#2633c8"/>
<text x="92" y="302.8" font-size="13.6" fill="#cf3a2f">FWHM(Si) = 0.0033<tspan dy="-6" font-size="8">°</tspan></text>
<text x="274.6" y="289.3" font-size="12.9" fill="#111">FWHM(SrTiO<tspan dy="5.5" font-size="10.5">3</tspan><tspan dy="-5.5">) = 0.01</tspan><tspan dx="1" dy="-6.5" font-size="9.5">°</tspan></text>
<text x="274.6" y="320.3" font-size="12.9" fill="#86d94a">FWHM(SrRuO<tspan dy="5.5" font-size="10.5">3</tspan><tspan dy="-5.5">) = 0.01</tspan><tspan dx="1" dy="-6.5" font-size="9.5">°</tspan></text>
<clipPath id="cc"><rect x="74.6" y="524.2" width="395.70000000000005" height="193.5"/></clipPath>
<g clip-path="url(#cc)">
<polygon points="88,600.8 88,584.6 88.4,589.5 88.8,585.9 89.2,592.1 89.6,590.4 90,586.6 90.4,589 90.8,589.5 91.2,589.5 91.6,588.8 92,591.9 92.4,589.6 92.8,586.2 93.2,587.1 93.6,585.4 94,585.9 94.4,586.7 94.8,589.5 95.2,586.2 95.6,585.2 96,586.8 96.4,589.2 96.8,589.2 97.2,589.2 97.6,589.9 98,589.9 98.4,589.8 98.8,588.9 99.2,584.8 99.6,587.3 100,589.5 100.4,586 100.8,589.6 101.2,586.8 101.6,585.8 102,585.7 102.4,586.5 102.8,589.3 103.2,589.4 103.6,591.2 104,589.4 104.4,587.5 104.8,589.4 105.2,589.3 105.6,590.6 106,589.7 106.4,586.3 106.8,586 107.2,589.3 107.6,589.6 108,589.7 108.4,589.3 108.8,588.5 109.2,588.8 109.6,585.8 110,589.1 110.4,586.4 110.8,590 111.2,589.6 111.6,589.3 112,589.8 112.4,589.3 112.8,589.6 113.2,589.5 113.6,591.3 114,591.4 114.4,591.9 114.8,589.3 115.2,585.9 115.6,589.5 116,589.3 116.4,584.3 116.8,589.7 117.2,589.2 117.6,589.2 118,593.2 118.4,589.7 118.8,583.7 119.2,589.2 119.6,589 120,589.7 120.4,584.8 120.8,584.1 121.2,592.8 121.6,589.9 122,586.3 122.4,589 122.8,589.4 123.2,587.2 123.6,588.8 124,585.3 124.4,593.4 124.8,589.4 125.2,586.7 125.6,589.3 126,589.4 126.4,586.7 126.8,589.2 127.2,589.8 127.6,586 128,589.7 128.4,586.8 128.8,589.2 129.2,589.5 129.6,591.7 130,589.5 130.4,589.3 130.8,585.6 131.2,589.3 131.6,589.1 132,584.1 132.4,591.8 132.8,589.5 133.2,589 133.6,587.1 134,583.9 134.4,589.4 134.8,586.5 135.2,593.4 135.6,589.4 136,586.7 136.4,589.5 136.8,589.3 137.2,586.9 137.6,589.3 138,589.2 138.4,589.2 138.8,587.2 139.2,582.7 139.6,586.5 140,589.2 140.4,589.6 140.8,589.4 141.2,589.3 141.6,587.1 142,586.4 142.4,589.4 142.8,586.3 143.2,586.6 143.6,590 144,589.7 144.4,585.9 144.8,586.8 145.2,584.8 145.6,585 146,588.9 146.4,586 146.8,593.2 147.2,585.5 147.6,589.2 148,584.6 148.4,589.6 148.8,589.5 149.2,586.2 149.6,586 150,588.9 150.4,589.1 150.8,587.3 151.2,589.7 151.6,585.7 152,586.8 152.4,589.2 152.8,589.7 153.2,586.6 153.6,589.5 154,589.5 154.4,583.7 154.8,585.6 155.2,588.9 155.6,585.7 156,589.4 156.4,583.6 156.8,589.8 157.2,586.5 157.6,587.3 158,589.4 158.4,589.2 158.8,589.2 159.2,589.4 159.6,583.3 160,586.9 160.4,586.5 160.8,586.8 161.2,589.6 161.6,589.3 162,587.7 162.4,586.7 162.8,589.3 163.2,586.2 163.6,589.7 164,589.4 164.4,590.9 164.8,589.9 165.2,593 165.6,589.3 166,585.7 166.4,589.3 166.8,589.4 167.2,588.9 167.6,589.4 168,585.2 168.4,589.5 168.8,585.4 169.2,589.1 169.6,589.8 170,587.2 170.4,583.1 170.8,583.8 171.2,587.1 171.6,589.5 172,589.8 172.4,589.1 172.8,586.2 173.2,586.8 173.6,589.4 174,589.4 174.4,589.4 174.8,591.4 175.2,589.9 175.6,592.7 176,589.3 176,600.8" fill="#2b45ea"/>
<polygon points="182,600.8 182,589.1 182.4,589.1 182.8,589.4 183.2,589.7 183.6,589 184,591.9 184.4,589.3 184.8,589.6 185.2,589.4 185.6,589.2 186,589.7 186.4,589.5 186.8,586.4 187.2,588.8 187.6,589.2 188,587 188.4,586.9 188.8,589.2 189.2,583.2 189.6,588.8 190,591.8 190.4,589.4 190.8,589.2 191.2,585.9 191.6,589.1 192,589.1 192.4,586.6 192.8,588.9 193.2,589.4 193.6,589.7 194,589.2 194.4,589.2 194.8,589.1 195.2,585.2 195.6,586.2 196,585.5 196.4,586.5 196.8,585.6 197.2,589 197.6,592.3 198,589.7 198.4,589.6 198.8,583.6 199.2,586.2 199.6,589.1 200,589.3 200.4,589.6 200.8,589.6 201.2,589.8 201.6,588.9 202,589.8 202.4,585.3 202.8,589.8 203.2,589.4 203.6,589.7 204,589.4 204.4,589.1 204.8,589.5 205.2,583 205.6,586 206,589.5 206.4,586.7 206.8,589.6 207.2,589.7 207.6,591.4 208,586.3 208.4,586.4 208.8,586 209.2,591.1 209.6,589 210,593.3 210.4,589.1 210.8,586.7 211.2,585.6 211.6,588.7 212,591.4 212.4,589.7 212.8,591 213.2,589.6 213.6,585.5 214,589.2 214.4,589.6 214.8,582.9 215.2,592.6 215.6,589.4 216,586.6 216.4,583.3 216.8,588.9 217.2,593 217.6,589.9 218,589.7 218.4,589.2 218.8,589.2 219.2,586.6 219.6,586.2 220,586.3 220.4,586.6 220.8,585.5 221.2,586.2 221.6,586.2 222,589 222.4,586.4 222.8,585.4 223.2,589.4 223.6,589.6 224,589.8 224.4,588.7 224.8,588.9 225.2,586.3 225.6,589.5 226,589.2 226.4,589.3 226.8,589.4 227.2,585.7 227.6,585.5 228,589.4 228.4,584.4 228.8,589.8 229.2,587.1 229.6,589.2 230,589 230.4,586.6 230.8,591.3 231.2,587.3 231.6,590 232,587.1 232.4,585.4 232.8,589.1 233.2,591.3 233.6,589.2 234,589.6 234.4,585.6 234.8,585.8 235.2,582.6 235.6,584.8 236,583.6 236.4,589 236.8,587.3 237.2,589.4 237.6,589.4 238,591.2 238.4,589.7 238.8,590.1 239.2,589.4 239.6,589.8 240,584.4 240.4,590 240.8,585.5 241.2,585.2 241.6,587 242,589.6 242.4,589.6 242.8,589.2 243.2,589.2 243.6,585.9 244,586.2 244.4,589.3 244.8,586.3 245.2,589.8 245.6,592.3 246,584.9 246.4,586.4 246.8,592.3 247.2,589.3 247.6,586.1 248,589.2 248.4,589 248.8,585.7 249.2,589.9 249.6,589.1 250,593.7 250.4,591.6 250.8,586.4 251.2,589.6 251.6,587.1 252,589.5 252.4,589.1 252.8,585.4 253.2,589.1 253.6,584 254,589.6 254.4,588.7 254.8,589.6 255.2,589.5 255.6,586.7 256,587 256.4,585.7 256.8,585.8 257.2,586.1 257.6,587.1 258,589.7 258.4,591.1 258.8,592.9 259.2,589.4 259.6,589.6 260,587.4 260.4,586.5 260.8,589.8 261.2,589.8 261.6,584.8 262,586.1 262.4,582.7 262.8,589.3 263.2,585.6 263.6,589.4 264,585.4 264.4,589.5 264.8,589 265.2,585.9 265.6,585.8 266,589.8 266.4,589.5 266.8,591.2 267.2,586.1 267.6,589.3 268,589 268.4,589.3 268.8,586.3 269.2,586.9 269.6,585.9 269.6,600.8" fill="#2b45ea"/>
<polygon points="275.6,600.8 275.6,589.7 276,586.2 276.4,589.7 276.8,589.4 277.2,589.3 277.6,586.1 278,583.8 278.4,592.5 278.8,586 279.2,589.6 279.6,589.5 280,591.2 280.4,589.6 280.8,589.1 281.2,591 281.6,589.9 282,589.1 282.4,589.8 282.8,584.8 283.2,589.6 283.6,589.5 284,586 284.4,586.8 284.8,589.7 285.2,589.2 285.6,589.1 286,589.7 286.4,585.8 286.8,589.3 287.2,591.3 287.6,589.3 288,588.9 288.4,587.2 288.8,589.3 289.2,589 289.6,589.2 290,587 290.4,593.6 290.8,589.2 291.2,589.8 291.6,586.9 292,589.5 292.4,589.3 292.8,587 293.2,585.7 293.6,589.3 294,588.9 294.4,589.7 294.8,589 295.2,589.2 295.6,589.9 296,589.5 296.4,589.4 296.8,589.4 297.2,586.4 297.6,589.3 298,589.5 298.4,589.4 298.8,589.3 299.2,589.5 299.6,586 300,585.7 300.4,589.7 300.8,587 301.2,587.2 301.6,587.3 302,586 302.4,585.8 302.8,589.4 303.2,585.6 303.6,592.1 304,586.2 304.4,585.9 304.8,585.5 305.2,589 305.6,587.3 306,589.3 306.4,586.1 306.8,589.8 307.2,589.7 307.6,589.8 308,589.1 308.4,585.4 308.8,589.8 309.2,589.4 309.6,589.5 310,592.4 310.4,591.3 310.8,586.1 311.2,593 311.6,589.4 312,585.4 312.4,589.4 312.8,585.1 313.2,585.3 313.6,589.8 314,587 314.4,589.3 314.8,593.1 315.2,586.2 315.6,591.8 316,592.6 316.4,589.6 316.8,590 317.2,589.2 317.6,586.4 318,586.6 318.4,589.1 318.8,584.4 319.2,589.3 319.6,586.1 320,593.1 320.4,589.2 320.8,585.5 321.2,585.4 321.6,590.2 322,589.9 322.4,589.4 322.8,588.9 323.2,585.4 323.6,586.7 324,589.1 324.4,588.8 324.8,589.3 325.2,589.2 325.6,589.2 326,589 326.4,589.5 326.8,586.2 327.2,588.7 327.6,585.7 328,589.6 328.4,589.8 328.8,589.1 329.2,592.2 329.6,589.6 330,589.7 330.4,589.3 330.8,589.5 331.2,587.2 331.6,588.9 332,589.7 332.4,589.4 332.8,586.3 333.2,587.2 333.6,586.2 334,586.5 334.4,586.1 334.8,586.1 335.2,587.4 335.6,587.8 336,584.9 336.4,587.5 336.8,589.3 337.2,589.6 337.6,589.5 338,589.3 338.4,589.7 338.8,589.4 339.2,592.5 339.6,589.5 340,589 340.4,583.1 340.8,589.4 341.2,592.3 341.6,589 342,586.7 342.4,589.4 342.8,584.6 343.2,585.8 343.6,589.6 344,589.4 344.4,589.7 344.8,587.7 345.2,589.2 345.6,589.2 346,585.1 346.4,584.2 346.8,589.5 347.2,589.6 347.6,589.3 348,589.4 348.4,586.6 348.8,588.8 349.2,589.6 349.6,589.6 350,585.2 350.4,590.8 350.8,589.5 351.2,585.7 351.6,591.2 352,587.1 352.4,585.5 352.8,586.5 353.2,585.8 353.6,589.3 354,592.1 354.4,589.6 354.8,589 355.2,586.9 355.6,584.4 356,589.4 356.4,590.1 356.8,589.4 357.2,589.7 357.6,586.4 358,583.4 358.4,589.9 358.8,583.5 359.2,585.7 359.6,586.5 360,589.8 360.4,592.6 360.8,589.8 361.2,590.1 361.6,589.6 362,589.2 362.4,589.4 362.8,586.5 363.2,589.7 363.2,600.8" fill="#2b45ea"/>
<polygon points="369.2,600.8 369.2,586.8 369.6,591.3 370,583.4 370.4,589.1 370.8,589.3 371.2,585.3 371.6,587.1 372,586.1 372.4,589.1 372.8,589.4 373.2,587.1 373.6,589.1 374,586.8 374.4,589.4 374.8,585.8 375.2,583.8 375.6,586.9 376,589.3 376.4,583.7 376.8,589.2 377.2,585.4 377.6,588.8 378,592.2 378.4,586 378.8,589.5 379.2,592.1 379.6,585.4 380,589.8 380.4,589.2 380.8,589 381.2,589.1 381.6,589.2 382,585.7 382.4,589.6 382.8,591.7 383.2,586.1 383.6,586.3 384,589.7 384.4,589.2 384.8,586.7 385.2,589.3 385.6,593 386,586.2 386.4,585.8 386.8,588.9 387.2,589 387.6,589.2 388,591.3 388.4,589.5 388.8,589.7 389.2,589.2 389.6,587.3 390,589 390.4,589.1 390.8,584 391.2,589.4 391.6,590 392,589.6 392.4,589.3 392.8,589.2 393.2,585.6 393.6,589.8 394,589.7 394.4,587.3 394.8,590 395.2,586 395.6,584.5 396,585.8 396.4,589.3 396.8,589.4 397.2,589 397.6,589.6 398,589.7 398.4,589.1 398.8,587.3 399.2,583 399.6,586.1 400,589.1 400.4,585.2 400.8,585.6 401.2,589.1 401.6,585 402,593.5 402.4,585.4 402.8,586.9 403.2,585 403.6,589.4 404,589.4 404.4,589.1 404.8,587 405.2,586.3 405.6,583.5 406,584.4 406.4,586.6 406.8,584.5 407.2,589.5 407.6,589.3 408,592.5 408.4,587.5 408.8,589.2 409.2,586.8 409.6,586.4 410,585.5 410.4,584.8 410.8,586 411.2,589.9 411.6,589.9 412,589.8 412.4,589.7 412.8,582.9 413.2,589.8 413.6,590 414,589.5 414.4,589.6 414.8,586.1 415.2,591.6 415.6,589.3 416,585.8 416.4,589.3 416.8,588.9 417.2,589.2 417.6,589.5 418,592.4 418.4,589.8 418.8,589.7 419.2,589.8 419.6,589.4 420,589.7 420.4,589.2 420.8,586.5 421.2,589.7 421.6,589.5 422,589.2 422.4,593.1 422.8,589.8 423.2,589.6 423.6,589.8 424,586.4 424.4,586.3 424.8,589.2 425.2,591.7 425.6,589.3 426,583.5 426.4,591.1 426.8,589.1 427.2,589.4 427.6,589.2 428,587.2 428.4,589.1 428.8,589.3 429.2,589.8 429.6,584.5 430,586.2 430.4,589.8 430.8,589.6 431.2,589.4 431.6,583.9 432,591.9 432.4,587.2 432.8,589.7 433.2,589.3 433.6,592.1 434,592.8 434.4,589.2 434.8,589.6 435.2,589 435.6,586.4 436,589.5 436.4,589.2 436.8,589.7 437.2,589.4 437.6,586.3 438,588.8 438.4,587.3 438.8,589.4 439.2,588.8 439.6,587.1 440,589.5 440.4,589.2 440.8,589.1 441.2,589 441.6,589.4 442,592.1 442.4,589.3 442.8,590 443.2,589.4 443.6,589.4 444,588.9 444.4,589.5 444.8,587.3 445.2,585 445.6,587.9 446,589.2 446.4,592.5 446.8,589.3 447.2,587.2 447.6,588.5 448,593 448.4,585.9 448.8,589.8 449.2,589.1 449.6,589.2 450,590.1 450.4,586.2 450.8,589.3 451.2,585.4 451.6,589.3 452,589.5 452.4,589.9 452.8,592 453.2,589.4 453.6,589.6 454,589.7 454.4,589.2 454.8,589.4 455.2,590 455.6,589.5 456,590 456.4,589 456.4,600.8" fill="#2b45ea"/>
<polyline points="85.5,534.5 85.8,538.1 86,541.7 86.2,545.4 86.5,549 86.8,552.6 87,556.2 87.2,559.9 87.5,563.5 87.8,567.1 88,570.7 88.2,574.4 88.5,578 88.8,581.6 89,585.3 89.2,588.9 89.5,589.5 89.8,589.5 90,589.5 90.2,589.5 90.5,589.5" fill="none" stroke="#2b45ea" stroke-width="1.4" stroke-linejoin="round" />
<polyline points="174.1,589.5 174.3,589.5 174.6,589.5 174.8,589.5 175.1,589.5 175.3,588.9 175.6,585.3 175.8,581.6 176.1,578 176.3,574.4 176.6,570.7 176.8,567.1 177.1,563.5 177.3,559.9 177.6,556.2 177.8,552.6 178.1,549 178.3,545.4 178.6,541.7 178.8,538.1 179.1,534.5 179.3,538.1 179.6,541.7 179.8,545.4 180.1,549 180.3,552.6 180.6,556.2 180.8,559.9 181.1,563.5 181.3,567.1 181.6,570.7 181.8,574.4 182.1,578 182.3,581.6 182.6,585.3 182.8,588.9 183.1,589.5 183.3,589.5 183.6,589.5 183.8,589.5 184.1,589.5" fill="none" stroke="#2b45ea" stroke-width="1.4" stroke-linejoin="round" />
<polyline points="267.6,589.5 267.9,589.5 268.1,589.5 268.4,589.5 268.6,589.5 268.9,588.9 269.1,585.3 269.4,581.6 269.6,578 269.9,574.4 270.1,570.7 270.4,567.1 270.6,563.5 270.9,559.9 271.1,556.2 271.4,552.6 271.6,549 271.9,545.4 272.1,541.7 272.4,538.1 272.6,534.5 272.9,538.1 273.1,541.7 273.4,545.4 273.6,549 273.9,552.6 274.1,556.2 274.4,559.9 274.6,563.5 274.9,567.1 275.1,570.7 275.4,574.4 275.6,578 275.9,581.6 276.1,585.3 276.4,588.9 276.6,589.5 276.9,589.5 277.1,589.5 277.4,589.5 277.6,589.5" fill="none" stroke="#2b45ea" stroke-width="1.4" stroke-linejoin="round" />
<polyline points="361.2,589.5 361.5,589.5 361.7,589.5 362,589.5 362.2,589.5 362.5,588.9 362.7,585.3 363,581.6 363.2,578 363.5,574.4 363.7,570.7 364,567.1 364.2,563.5 364.5,559.9 364.7,556.2 365,552.6 365.2,549 365.5,545.4 365.7,541.7 366,538.1 366.2,534.5 366.5,538.1 366.7,541.7 367,545.4 367.2,549 367.5,552.6 367.7,556.2 368,559.9 368.2,563.5 368.5,567.1 368.7,570.7 369,574.4 369.2,578 369.5,581.6 369.7,585.3 370,588.9 370.2,589.5 370.5,589.5 370.7,589.5 371,589.5 371.2,589.5" fill="none" stroke="#2b45ea" stroke-width="1.4" stroke-linejoin="round" />
<polyline points="454.8,589.5 455,589.5 455.3,589.5 455.5,589.5 455.8,589.5 456,588.9 456.3,585.3 456.5,581.6 456.8,578 457,574.4 457.3,570.7 457.5,567.1 457.8,563.5 458,559.9 458.3,556.2 458.5,552.6 458.8,549 459,545.4 459.3,541.7 459.5,538.1 459.8,534.5" fill="none" stroke="#2b45ea" stroke-width="1.4" stroke-linejoin="round" />
<polygon points="86,718.5 86,705.2 86.4,705 86.8,705.1 87.2,705 87.6,705.3 88,705 88.4,705.2 88.8,707.9 89.2,704.8 89.6,705.2 90,701.8 90.4,702.8 90.8,704.3 91.2,702.3 91.6,705.2 92,704.9 92.4,702.5 92.8,702.6 93.2,705.4 93.6,706.6 94,704.5 94.4,705.6 94.8,704.9 95.2,702.6 95.6,705.2 96,704.9 96.4,704.5 96.8,705.1 97.2,706.4 97.6,701.4 98,702.1 98.4,705.4 98.8,705 99.2,702.9 99.6,699.8 100,699.8 100.4,706.5 100.8,701.4 101.2,704.7 101.6,705 102,702.4 102.4,705 102.8,704.9 103.2,705.4 103.6,701.3 104,705 104.4,705 104.8,705 105.2,707.6 105.6,701.9 106,704.8 106.4,705.6 106.8,703.2 107.2,705.1 107.6,702.6 108,701.7 108.4,705 108.8,702.6 109.2,701.1 109.6,700.6 110,701.2 110.4,705 110.8,706.7 111.2,705 111.6,705.1 112,702.8 112.4,705.8 112.8,702.8 113.2,701.7 113.6,701.6 114,705.1 114.4,705.2 114.8,703.1 115.2,702.8 115.6,703.5 116,705.6 116.4,702.9 116.8,705.1 117.2,705 117.6,703.2 118,705 118.4,705.4 118.8,701.8 119.2,704.9 119.6,705.2 120,702.8 120.4,702.8 120.8,705.5 121.2,705.1 121.6,705.5 122,707.4 122.4,705.3 122.8,704.9 123.2,705.6 123.6,704.6 124,700.6 124.4,705.4 124.8,701.9 125.2,704.7 125.6,701.2 126,702.5 126.4,705.1 126.8,705.1 127.2,707.7 127.6,705.9 128,704.9 128.4,705.3 128.8,703.2 129.2,705.5 129.6,704.6 130,704.7 130.4,704.9 130.8,698.9 131.2,705.3 131.6,699.5 132,704.6 132.4,705 132.8,699.6 133.2,705 133.6,705.1 134,702.9 134.4,705.5 134.8,705.9 135.2,705.3 135.6,704.7 136,702.4 136.4,703.6 136.8,701.2 137.2,705.3 137.6,705.5 138,705.2 138.4,705.6 138.8,705.4 139.2,702.6 139.6,705 140,705.1 140.4,705 140.8,702.6 141.2,702.8 141.6,705.1 142,702.1 142.4,705.2 142.8,701.8 143.2,705.7 143.6,705.2 144,701.6 144.4,702.2 144.8,705.7 145.2,705.3 145.6,702.2 146,705.2 146.4,704.9 146.8,705.6 147.2,699.4 147.6,701.5 148,701.2 148.4,705.8 148.8,705.2 149.2,704.5 149.6,702.6 150,705.2 150.4,703 150.8,706.2 151.2,705.5 151.6,702.7 152,705.2 152.4,701.6 152.8,701.6 153.2,705.1 153.6,705.1 154,704.8 154.4,705.3 154.8,701.3 155.2,701.9 155.6,702.1 156,705.2 156.4,705.7 156.8,707.3 157.2,704.7 157.6,705 158,705.9 158.4,702.5 158.8,705.7 159.2,705.3 159.6,705.6 160,705.1 160.4,702.6 160.8,700.4 161.2,705.2 161.6,705.2 162,705.6 162.4,705.1 162.8,705.6 163.2,705 163.6,705.1 164,705.4 164.4,705.3 164.8,700.6 165.2,705.2 165.6,701.7 166,702.4 166.4,702.5 166.8,701.5 167.2,702.8 167.6,705.2 168,703.2 168.4,701.5 168.8,704.9 169.2,705.3 169.6,705 170,705.5 170.4,704.8 170.8,701.3 171.2,708 171.6,705.1 172,705 172.4,705.7 172.8,705.1 173.2,701 173.6,706.3 174,704.8 174.4,705 174.8,704.8 175.2,701.8 175.6,705 176,705.1 176.4,700.4 176.8,702.2 177.2,704.8 177.6,701.2 178,705.3 178.4,705.2 178.4,718.5" fill="#e03a18"/>
<polygon points="180,718.5 180,705.4 180.4,702.8 180.8,704.9 181.2,705.5 181.6,705.3 182,706.6 182.4,704.7 182.8,701.7 183.2,705.2 183.6,705.2 184,705.6 184.4,705.1 184.8,705.3 185.2,707.8 185.6,704.8 186,705.1 186.4,705.2 186.8,705.7 187.2,702.8 187.6,705 188,704.9 188.4,701.8 188.8,705 189.2,705.9 189.6,702.2 190,699.8 190.4,705 190.8,702.6 191.2,705.2 191.6,704.4 192,705.1 192.4,703 192.8,705.6 193.2,704.7 193.6,705.5 194,705.1 194.4,705.4 194.8,705 195.2,702.2 195.6,705.4 196,705.9 196.4,705 196.8,702.1 197.2,705.2 197.6,705 198,705.2 198.4,701.9 198.8,705.1 199.2,701.9 199.6,705.3 200,701.3 200.4,705.2 200.8,702.1 201.2,704.8 201.6,702.1 202,702.2 202.4,702.1 202.8,705.1 203.2,705.2 203.6,701.8 204,699 204.4,702.6 204.8,705.4 205.2,705 205.6,704.8 206,705.4 206.4,705.4 206.8,705.5 207.2,701.1 207.6,701.2 208,700.6 208.4,705.6 208.8,701.7 209.2,705.1 209.6,702.8 210,702.3 210.4,704.9 210.8,702.9 211.2,702.3 211.6,705.4 212,705.2 212.4,705.8 212.8,700.2 213.2,708.4 213.6,702.4 214,705.5 214.4,702 214.8,705.8 215.2,699.8 215.6,698.9 216,702.4 216.4,705.3 216.8,705.5 217.2,705.2 217.6,705.2 218,704.8 218.4,705.1 218.8,705.2 219.2,701.5 219.6,701 220,705.2 220.4,705.3 220.8,705.1 221.2,705.6 221.6,702.2 222,705.4 222.4,707.4 222.8,702.4 223.2,700.5 223.6,705.2 224,705 224.4,705.7 224.8,705.7 225.2,702 225.6,702.5 226,705.5 226.4,705.2 226.8,702.5 227.2,702.9 227.6,703 228,705.2 228.4,700 228.8,701.1 229.2,701.9 229.6,702.6 230,705.4 230.4,702.8 230.8,700.7 231.2,700.3 231.6,701.7 232,705.1 232.4,701.1 232.8,705.2 233.2,700.4 233.6,703.1 234,701 234.4,705.7 234.8,705.1 235.2,706.8 235.6,705.8 236,705.4 236.4,701.8 236.8,705.4 237.2,705.4 237.6,702.4 238,705.4 238.4,705.9 238.8,704.9 239.2,704.5 239.6,707.9 240,702.7 240.4,702.6 240.8,704.9 241.2,705.2 241.6,701.7 242,701.2 242.4,705 242.8,703.1 243.2,701.9 243.6,701.2 244,702.4 244.4,704.8 244.8,705.5 245.2,704.9 245.6,705.5 246,705.3 246.4,704.9 246.8,705.1 247.2,705.5 247.6,702 248,700.6 248.4,704.9 248.8,705.6 249.2,702.5 249.6,702.1 250,705.5 250.4,704.7 250.8,705.3 251.2,702.8 251.6,704.8 252,701 252.4,705.1 252.8,705.1 253.2,706.2 253.6,705 254,704.5 254.4,702.6 254.8,705.8 255.2,703.2 255.6,705.1 256,707.1 256.4,702.8 256.8,705.3 257.2,704.9 257.6,701.4 258,705.4 258.4,705.3 258.8,706.8 259.2,705.2 259.6,701 260,708.1 260.4,701.2 260.8,705 261.2,705.2 261.6,705.5 262,705.5 262.4,701 262.8,704.8 263.2,703.4 263.6,705.3 264,705.3 264.4,698.9 264.8,705.2 265.2,701.9 265.6,705.3 266,707.1 266.4,702 266.8,705.3 267.2,707 267.6,700.7 268,701.3 268.4,705 268.8,705.6 269.2,702.3 269.6,703.2 270,705.6 270.4,701.3 270.8,699.4 271.2,705.8 271.6,701.8 272,704.6 272,718.5" fill="#e03a18"/>
<polygon points="273.6,718.5 273.6,705.2 274,702 274.4,705.1 274.8,703.1 275.2,705.4 275.6,701.9 276,705.5 276.4,705.3 276.8,705.2 277.2,706.1 277.6,704.6 278,704.9 278.4,704.9 278.8,705.1 279.2,705.3 279.6,707.2 280,700.4 280.4,707 280.8,704.9 281.2,701.1 281.6,702.1 282,705.1 282.4,705.5 282.8,702.1 283.2,705.5 283.6,704.9 284,705.4 284.4,702.5 284.8,705 285.2,701.5 285.6,705.2 286,700.9 286.4,708.3 286.8,705.3 287.2,699.4 287.6,706 288,705.6 288.4,704.6 288.8,705.4 289.2,702.6 289.6,702.3 290,705.1 290.4,705.5 290.8,701.5 291.2,704.8 291.6,699.5 292,705.3 292.4,701.6 292.8,702.8 293.2,705 293.6,702.8 294,705.3 294.4,704.7 294.8,705.5 295.2,704.9 295.6,705.5 296,705.3 296.4,705.4 296.8,702.3 297.2,702.2 297.6,703.1 298,705.2 298.4,706.2 298.8,705.2 299.2,702.3 299.6,707.4 300,705.3 300.4,702.4 300.8,702.1 301.2,701.2 301.6,704.9 302,705.3 302.4,702.9 302.8,704.8 303.2,699.4 303.6,705.1 304,705.3 304.4,703.1 304.8,705.3 305.2,702 305.6,704.5 306,703 306.4,702.3 306.8,702.9 307.2,705.6 307.6,705.3 308,705.6 308.4,705.5 308.8,707.5 309.2,702.3 309.6,705.6 310,701.8 310.4,704.7 310.8,701.5 311.2,705.5 311.6,701.2 312,701 312.4,705.3 312.8,702.3 313.2,702.8 313.6,705.2 314,705.1 314.4,705 314.8,705.1 315.2,702.1 315.6,705.9 316,702.4 316.4,705.2 316.8,704.8 317.2,705.2 317.6,705.1 318,705.1 318.4,704.7 318.8,703 319.2,705 319.6,705.2 320,704.7 320.4,705.2 320.8,706.4 321.2,705 321.6,705 322,705 322.4,705 322.8,700.9 323.2,705 323.6,700.9 324,705 324.4,702.1 324.8,705.8 325.2,702.3 325.6,705 326,704.8 326.4,707.5 326.8,705.2 327.2,705.3 327.6,705.5 328,704.6 328.4,705 328.8,705.3 329.2,703.6 329.6,705.2 330,705.2 330.4,703.2 330.8,702.7 331.2,700.6 331.6,705 332,705 332.4,705.1 332.8,705.4 333.2,702.1 333.6,705.2 334,702.8 334.4,701.4 334.8,701.3 335.2,705.4 335.6,701.7 336,705.1 336.4,702.8 336.8,701 337.2,705.5 337.6,702.4 338,702.2 338.4,701.1 338.8,704.9 339.2,705.1 339.6,704.9 340,702.4 340.4,705.1 340.8,703.2 341.2,704.9 341.6,701.2 342,705.1 342.4,701.7 342.8,702.5 343.2,699 343.6,705.6 344,705.5 344.4,704.7 344.8,705.2 345.2,705.1 345.6,704.7 346,705.3 346.4,705.4 346.8,705.2 347.2,703 347.6,705.7 348,705.1 348.4,705.6 348.8,703.7 349.2,704.3 349.6,705.1 350,705.6 350.4,702.8 350.8,705 351.2,702.6 351.6,705.5 352,701.1 352.4,705.4 352.8,702.9 353.2,705.3 353.6,704.9 354,705.4 354.4,702.4 354.8,704.9 355.2,700.9 355.6,705.6 356,703.6 356.4,700.8 356.8,705.4 357.2,702.1 357.6,701.5 358,705.3 358.4,703.2 358.8,705.4 359.2,704.9 359.6,701.9 360,702.5 360.4,705.5 360.8,705.2 361.2,702.9 361.6,705.3 362,705.4 362.4,704.7 362.8,705.6 363.2,701.9 363.6,702.5 364,706.5 364.4,705.3 364.8,703.5 365.2,705 365.6,701.5 365.6,718.5" fill="#e03a18"/>
<polygon points="367.2,718.5 367.2,702.5 367.6,707 368,703.3 368.4,703.9 368.8,701.1 369.2,705.4 369.6,704.9 370,702.4 370.4,702.6 370.8,702.7 371.2,705.3 371.6,702.6 372,701.2 372.4,699.3 372.8,705 373.2,702.2 373.6,702.3 374,702.6 374.4,705.1 374.8,700.4 375.2,702.4 375.6,702.6 376,700.7 376.4,701.8 376.8,705.2 377.2,705.2 377.6,705.1 378,701.4 378.4,705 378.8,705.5 379.2,703.4 379.6,701.4 380,703.1 380.4,706.5 380.8,707.6 381.2,705.5 381.6,702.7 382,705 382.4,701.1 382.8,705.2 383.2,700.2 383.6,705.7 384,700.7 384.4,705.1 384.8,705.5 385.2,705.1 385.6,705.1 386,699.5 386.4,700.2 386.8,705.1 387.2,705.3 387.6,705.2 388,703 388.4,706.6 388.8,702.2 389.2,705.3 389.6,705.7 390,702.6 390.4,705.6 390.8,702.7 391.2,705.7 391.6,701.2 392,705.1 392.4,700.5 392.8,707.5 393.2,705.6 393.6,706.7 394,705.4 394.4,705.5 394.8,705.4 395.2,705 395.6,704.8 396,700.7 396.4,704.9 396.8,700.2 397.2,705 397.6,702.4 398,704.8 398.4,704.7 398.8,707.3 399.2,702.4 399.6,702.9 400,706.4 400.4,703.2 400.8,701.8 401.2,705.5 401.6,705.1 402,700.4 402.4,703 402.8,701.4 403.2,701.8 403.6,700.8 404,704.8 404.4,704.8 404.8,704.8 405.2,705.2 405.6,701.2 406,702.2 406.4,705.6 406.8,706.9 407.2,702.4 407.6,705.4 408,703.3 408.4,705.1 408.8,705.4 409.2,705.1 409.6,705.2 410,701.5 410.4,703 410.8,700.9 411.2,705.2 411.6,702.5 412,704.8 412.4,702.8 412.8,703.2 413.2,702 413.6,705.6 414,705.2 414.4,704.9 414.8,704.9 415.2,707.3 415.6,705.1 416,704.7 416.4,705.2 416.8,701.2 417.2,705 417.6,705 418,705.2 418.4,701.3 418.8,705.1 419.2,705.7 419.6,701.5 420,705 420.4,705.1 420.8,705.1 421.2,705.3 421.6,705.4 422,705.1 422.4,702.6 422.8,704.7 423.2,701.4 423.6,702 424,704.8 424.4,706.5 424.8,701.3 425.2,708.1 425.6,702 426,705.2 426.4,705.1 426.8,705.1 427.2,705.1 427.6,705.4 428,701.6 428.4,705.4 428.8,700 429.2,699.4 429.6,705.5 430,704.7 430.4,701.5 430.8,702.2 431.2,705.2 431.6,702.5 432,704.9 432.4,705.2 432.8,702 433.2,702.9 433.6,704.9 434,700.4 434.4,705.5 434.8,704.9 435.2,702.3 435.6,705.1 436,705.3 436.4,702.5 436.8,705.3 437.2,705.2 437.6,704.9 438,705.5 438.4,705.7 438.8,704.6 439.2,701.4 439.6,701.8 440,701.7 440.4,705.7 440.8,705.3 441.2,702.8 441.6,705 442,705.1 442.4,704.8 442.8,705.2 443.2,700.7 443.6,705.1 444,705.5 444.4,705.3 444.8,705.5 445.2,705.2 445.6,705.4 446,705.2 446.4,704.8 446.8,703.3 447.2,701.3 447.6,701.9 448,704.9 448.4,700.8 448.8,701.6 449.2,704.9 449.6,705.3 450,702.8 450.4,702.2 450.8,704.7 451.2,708.1 451.6,705.2 452,704.8 452.4,705.5 452.8,705.2 453.2,704.7 453.6,702.2 454,708.1 454.4,706.7 454.8,705.3 455.2,708.1 455.6,705 456,708.2 456.4,700.1 456.8,704.9 457.2,701.5 457.6,705.2 458,705.1 458.4,705.3 458.8,705 459.2,701.5 459.2,718.5" fill="#e03a18"/>
<polyline points="85.5,605 85.5,703 86,697 86.7,698 87.5,700 89,703.5" fill="none" stroke="#e03a18" stroke-width="0.9" stroke-linejoin="round" />
<polyline points="175.6,704 177.1,700.5 178,697.5 178.7,695 179.1,605 179.5,695 180.2,697.5 181.1,700.5 182.6,704" fill="none" stroke="#e03a18" stroke-width="0.9" stroke-linejoin="round" />
<polyline points="269.1,704 270.6,700.5 271.5,697.5 272.2,695 272.6,605 273,695 273.7,697.5 274.6,700.5 276.1,704" fill="none" stroke="#e03a18" stroke-width="0.9" stroke-linejoin="round" />
<polyline points="362.7,704 364.2,700.5 365.1,697.5 365.8,695 366.2,605 366.6,695 367.3,697.5 368.2,700.5 369.7,704" fill="none" stroke="#e03a18" stroke-width="0.9" stroke-linejoin="round" />
<polyline points="456.3,703.5 457.8,700 458.6,698 459.3,697 459.8,703 459.8,605" fill="none" stroke="#e03a18" stroke-width="0.9" stroke-linejoin="round" />
</g>
<line x1="85.5" y1="717.7" x2="85.5" y2="713.7" stroke="#333" stroke-width="0.9" />
<line x1="85.5" y1="524.2" x2="85.5" y2="528.2" stroke="#333" stroke-width="0.9" />
<text x="85.5" y="738.3" font-size="16.5" fill="#1a1a1a" text-anchor="middle" >0</text>
<line x1="179.1" y1="717.7" x2="179.1" y2="713.7" stroke="#333" stroke-width="0.9" />
<line x1="179.1" y1="524.2" x2="179.1" y2="528.2" stroke="#333" stroke-width="0.9" />
<text x="179.1" y="738.3" font-size="16.5" fill="#1a1a1a" text-anchor="middle" >90</text>
<line x1="272.6" y1="717.7" x2="272.6" y2="713.7" stroke="#333" stroke-width="0.9" />
<line x1="272.6" y1="524.2" x2="272.6" y2="528.2" stroke="#333" stroke-width="0.9" />
<text x="272.6" y="738.3" font-size="16.5" fill="#1a1a1a" text-anchor="middle" >180</text>
<line x1="366.2" y1="717.7" x2="366.2" y2="713.7" stroke="#333" stroke-width="0.9" />
<line x1="366.2" y1="524.2" x2="366.2" y2="528.2" stroke="#333" stroke-width="0.9" />
<text x="366.2" y="738.3" font-size="16.5" fill="#1a1a1a" text-anchor="middle" >270</text>
<line x1="459.8" y1="717.7" x2="459.8" y2="713.7" stroke="#333" stroke-width="0.9" />
<line x1="459.8" y1="524.2" x2="459.8" y2="528.2" stroke="#333" stroke-width="0.9" />
<text x="459.8" y="738.3" font-size="16.5" fill="#1a1a1a" text-anchor="middle" >360</text>
<line x1="74.6" y1="717.7" x2="78.6" y2="717.7" stroke="#333" stroke-width="0.9" />
<line x1="74.6" y1="710.7" x2="76.6" y2="710.7" stroke="#333" stroke-width="0.9" />
<line x1="74.6" y1="706.5" x2="76.6" y2="706.5" stroke="#333" stroke-width="0.9" />
<line x1="74.6" y1="703.6" x2="76.6" y2="703.6" stroke="#333" stroke-width="0.9" />
<line x1="74.6" y1="701.3" x2="76.6" y2="701.3" stroke="#333" stroke-width="0.9" />
<line x1="74.6" y1="699.5" x2="76.6" y2="699.5" stroke="#333" stroke-width="0.9" />
<line x1="74.6" y1="697.9" x2="76.6" y2="697.9" stroke="#333" stroke-width="0.9" />
<line x1="74.6" y1="696.6" x2="76.6" y2="696.6" stroke="#333" stroke-width="0.9" />
<line x1="74.6" y1="695.4" x2="76.6" y2="695.4" stroke="#333" stroke-width="0.9" />
<line x1="74.6" y1="694.3" x2="78.6" y2="694.3" stroke="#333" stroke-width="0.9" />
<line x1="74.6" y1="687.3" x2="76.6" y2="687.3" stroke="#333" stroke-width="0.9" />
<line x1="74.6" y1="683.1" x2="76.6" y2="683.1" stroke="#333" stroke-width="0.9" />
<line x1="74.6" y1="680.2" x2="76.6" y2="680.2" stroke="#333" stroke-width="0.9" />
<line x1="74.6" y1="677.9" x2="76.6" y2="677.9" stroke="#333" stroke-width="0.9" />
<line x1="74.6" y1="676.1" x2="76.6" y2="676.1" stroke="#333" stroke-width="0.9" />
<line x1="74.6" y1="674.5" x2="76.6" y2="674.5" stroke="#333" stroke-width="0.9" />
<line x1="74.6" y1="673.2" x2="76.6" y2="673.2" stroke="#333" stroke-width="0.9" />
<line x1="74.6" y1="672" x2="76.6" y2="672" stroke="#333" stroke-width="0.9" />
<line x1="74.6" y1="670.9" x2="78.6" y2="670.9" stroke="#333" stroke-width="0.9" />
<line x1="74.6" y1="663.9" x2="76.6" y2="663.9" stroke="#333" stroke-width="0.9" />
<line x1="74.6" y1="659.7" x2="76.6" y2="659.7" stroke="#333" stroke-width="0.9" />
<line x1="74.6" y1="656.8" x2="76.6" y2="656.8" stroke="#333" stroke-width="0.9" />
<line x1="74.6" y1="654.5" x2="76.6" y2="654.5" stroke="#333" stroke-width="0.9" />
<line x1="74.6" y1="652.7" x2="76.6" y2="652.7" stroke="#333" stroke-width="0.9" />
<line x1="74.6" y1="651.1" x2="76.6" y2="651.1" stroke="#333" stroke-width="0.9" />
<line x1="74.6" y1="649.8" x2="76.6" y2="649.8" stroke="#333" stroke-width="0.9" />
<line x1="74.6" y1="648.6" x2="76.6" y2="648.6" stroke="#333" stroke-width="0.9" />
<line x1="74.6" y1="647.5" x2="78.6" y2="647.5" stroke="#333" stroke-width="0.9" />
<line x1="74.6" y1="640.5" x2="76.6" y2="640.5" stroke="#333" stroke-width="0.9" />
<line x1="74.6" y1="636.3" x2="76.6" y2="636.3" stroke="#333" stroke-width="0.9" />
<line x1="74.6" y1="633.4" x2="76.6" y2="633.4" stroke="#333" stroke-width="0.9" />
<line x1="74.6" y1="631.1" x2="76.6" y2="631.1" stroke="#333" stroke-width="0.9" />
<line x1="74.6" y1="629.3" x2="76.6" y2="629.3" stroke="#333" stroke-width="0.9" />
<line x1="74.6" y1="627.7" x2="76.6" y2="627.7" stroke="#333" stroke-width="0.9" />
<line x1="74.6" y1="626.4" x2="76.6" y2="626.4" stroke="#333" stroke-width="0.9" />
<line x1="74.6" y1="625.2" x2="76.6" y2="625.2" stroke="#333" stroke-width="0.9" />
<line x1="74.6" y1="624.1" x2="78.6" y2="624.1" stroke="#333" stroke-width="0.9" />
<line x1="74.6" y1="617.1" x2="76.6" y2="617.1" stroke="#333" stroke-width="0.9" />
<line x1="74.6" y1="612.9" x2="76.6" y2="612.9" stroke="#333" stroke-width="0.9" />
<line x1="74.6" y1="610" x2="76.6" y2="610" stroke="#333" stroke-width="0.9" />
<line x1="74.6" y1="607.7" x2="76.6" y2="607.7" stroke="#333" stroke-width="0.9" />
<line x1="74.6" y1="605.9" x2="76.6" y2="605.9" stroke="#333" stroke-width="0.9" />
<line x1="74.6" y1="604.3" x2="76.6" y2="604.3" stroke="#333" stroke-width="0.9" />
<line x1="74.6" y1="603" x2="76.6" y2="603" stroke="#333" stroke-width="0.9" />
<line x1="74.6" y1="601.8" x2="76.6" y2="601.8" stroke="#333" stroke-width="0.9" />
<line x1="74.6" y1="600.7" x2="78.6" y2="600.7" stroke="#333" stroke-width="0.9" />
<line x1="74.6" y1="593.7" x2="76.6" y2="593.7" stroke="#333" stroke-width="0.9" />
<line x1="74.6" y1="589.5" x2="76.6" y2="589.5" stroke="#333" stroke-width="0.9" />
<line x1="74.6" y1="586.6" x2="76.6" y2="586.6" stroke="#333" stroke-width="0.9" />
<line x1="74.6" y1="584.3" x2="76.6" y2="584.3" stroke="#333" stroke-width="0.9" />
<line x1="74.6" y1="582.5" x2="76.6" y2="582.5" stroke="#333" stroke-width="0.9" />
<line x1="74.6" y1="580.9" x2="76.6" y2="580.9" stroke="#333" stroke-width="0.9" />
<line x1="74.6" y1="579.6" x2="76.6" y2="579.6" stroke="#333" stroke-width="0.9" />
<line x1="74.6" y1="578.4" x2="76.6" y2="578.4" stroke="#333" stroke-width="0.9" />
<line x1="74.6" y1="577.3" x2="78.6" y2="577.3" stroke="#333" stroke-width="0.9" />
<line x1="74.6" y1="570.3" x2="76.6" y2="570.3" stroke="#333" stroke-width="0.9" />
<line x1="74.6" y1="566.1" x2="76.6" y2="566.1" stroke="#333" stroke-width="0.9" />
<line x1="74.6" y1="563.2" x2="76.6" y2="563.2" stroke="#333" stroke-width="0.9" />
<line x1="74.6" y1="560.9" x2="76.6" y2="560.9" stroke="#333" stroke-width="0.9" />
<line x1="74.6" y1="559.1" x2="76.6" y2="559.1" stroke="#333" stroke-width="0.9" />
<line x1="74.6" y1="557.5" x2="76.6" y2="557.5" stroke="#333" stroke-width="0.9" />
<line x1="74.6" y1="556.2" x2="76.6" y2="556.2" stroke="#333" stroke-width="0.9" />
<line x1="74.6" y1="555" x2="76.6" y2="555" stroke="#333" stroke-width="0.9" />
<line x1="74.6" y1="553.9" x2="78.6" y2="553.9" stroke="#333" stroke-width="0.9" />
<line x1="74.6" y1="546.9" x2="76.6" y2="546.9" stroke="#333" stroke-width="0.9" />
<line x1="74.6" y1="542.7" x2="76.6" y2="542.7" stroke="#333" stroke-width="0.9" />
<line x1="74.6" y1="539.8" x2="76.6" y2="539.8" stroke="#333" stroke-width="0.9" />
<line x1="74.6" y1="537.5" x2="76.6" y2="537.5" stroke="#333" stroke-width="0.9" />
<line x1="74.6" y1="535.7" x2="76.6" y2="535.7" stroke="#333" stroke-width="0.9" />
<line x1="74.6" y1="534.1" x2="76.6" y2="534.1" stroke="#333" stroke-width="0.9" />
<line x1="74.6" y1="532.8" x2="76.6" y2="532.8" stroke="#333" stroke-width="0.9" />
<line x1="74.6" y1="531.6" x2="76.6" y2="531.6" stroke="#333" stroke-width="0.9" />
<line x1="74.6" y1="530.5" x2="78.6" y2="530.5" stroke="#333" stroke-width="0.9" />
<line x1="470.3" y1="717.7" x2="466.3" y2="717.7" stroke="#333" stroke-width="0.9" />
<line x1="470.3" y1="710.7" x2="468.3" y2="710.7" stroke="#333" stroke-width="0.9" />
<line x1="470.3" y1="706.5" x2="468.3" y2="706.5" stroke="#333" stroke-width="0.9" />
<line x1="470.3" y1="703.6" x2="468.3" y2="703.6" stroke="#333" stroke-width="0.9" />
<line x1="470.3" y1="701.3" x2="468.3" y2="701.3" stroke="#333" stroke-width="0.9" />
<line x1="470.3" y1="699.5" x2="468.3" y2="699.5" stroke="#333" stroke-width="0.9" />
<line x1="470.3" y1="697.9" x2="468.3" y2="697.9" stroke="#333" stroke-width="0.9" />
<line x1="470.3" y1="696.6" x2="468.3" y2="696.6" stroke="#333" stroke-width="0.9" />
<line x1="470.3" y1="695.4" x2="468.3" y2="695.4" stroke="#333" stroke-width="0.9" />
<line x1="470.3" y1="694.3" x2="466.3" y2="694.3" stroke="#333" stroke-width="0.9" />
<line x1="470.3" y1="687.3" x2="468.3" y2="687.3" stroke="#333" stroke-width="0.9" />
<line x1="470.3" y1="683.1" x2="468.3" y2="683.1" stroke="#333" stroke-width="0.9" />
<line x1="470.3" y1="680.2" x2="468.3" y2="680.2" stroke="#333" stroke-width="0.9" />
<line x1="470.3" y1="677.9" x2="468.3" y2="677.9" stroke="#333" stroke-width="0.9" />
<line x1="470.3" y1="676.1" x2="468.3" y2="676.1" stroke="#333" stroke-width="0.9" />
<line x1="470.3" y1="674.5" x2="468.3" y2="674.5" stroke="#333" stroke-width="0.9" />
<line x1="470.3" y1="673.2" x2="468.3" y2="673.2" stroke="#333" stroke-width="0.9" />
<line x1="470.3" y1="672" x2="468.3" y2="672" stroke="#333" stroke-width="0.9" />
<line x1="470.3" y1="670.9" x2="466.3" y2="670.9" stroke="#333" stroke-width="0.9" />
<line x1="470.3" y1="663.9" x2="468.3" y2="663.9" stroke="#333" stroke-width="0.9" />
<line x1="470.3" y1="659.7" x2="468.3" y2="659.7" stroke="#333" stroke-width="0.9" />
<line x1="470.3" y1="656.8" x2="468.3" y2="656.8" stroke="#333" stroke-width="0.9" />
<line x1="470.3" y1="654.5" x2="468.3" y2="654.5" stroke="#333" stroke-width="0.9" />
<line x1="470.3" y1="652.7" x2="468.3" y2="652.7" stroke="#333" stroke-width="0.9" />
<line x1="470.3" y1="651.1" x2="468.3" y2="651.1" stroke="#333" stroke-width="0.9" />
<line x1="470.3" y1="649.8" x2="468.3" y2="649.8" stroke="#333" stroke-width="0.9" />
<line x1="470.3" y1="648.6" x2="468.3" y2="648.6" stroke="#333" stroke-width="0.9" />
<line x1="470.3" y1="647.5" x2="466.3" y2="647.5" stroke="#333" stroke-width="0.9" />
<line x1="470.3" y1="640.5" x2="468.3" y2="640.5" stroke="#333" stroke-width="0.9" />
<line x1="470.3" y1="636.3" x2="468.3" y2="636.3" stroke="#333" stroke-width="0.9" />
<line x1="470.3" y1="633.4" x2="468.3" y2="633.4" stroke="#333" stroke-width="0.9" />
<line x1="470.3" y1="631.1" x2="468.3" y2="631.1" stroke="#333" stroke-width="0.9" />
<line x1="470.3" y1="629.3" x2="468.3" y2="629.3" stroke="#333" stroke-width="0.9" />
<line x1="470.3" y1="627.7" x2="468.3" y2="627.7" stroke="#333" stroke-width="0.9" />
<line x1="470.3" y1="626.4" x2="468.3" y2="626.4" stroke="#333" stroke-width="0.9" />
<line x1="470.3" y1="625.2" x2="468.3" y2="625.2" stroke="#333" stroke-width="0.9" />
<line x1="470.3" y1="624.1" x2="466.3" y2="624.1" stroke="#333" stroke-width="0.9" />
<line x1="470.3" y1="617.1" x2="468.3" y2="617.1" stroke="#333" stroke-width="0.9" />
<line x1="470.3" y1="612.9" x2="468.3" y2="612.9" stroke="#333" stroke-width="0.9" />
<line x1="470.3" y1="610" x2="468.3" y2="610" stroke="#333" stroke-width="0.9" />
<line x1="470.3" y1="607.7" x2="468.3" y2="607.7" stroke="#333" stroke-width="0.9" />
<line x1="470.3" y1="605.9" x2="468.3" y2="605.9" stroke="#333" stroke-width="0.9" />
<line x1="470.3" y1="604.3" x2="468.3" y2="604.3" stroke="#333" stroke-width="0.9" />
<line x1="470.3" y1="603" x2="468.3" y2="603" stroke="#333" stroke-width="0.9" />
<line x1="470.3" y1="601.8" x2="468.3" y2="601.8" stroke="#333" stroke-width="0.9" />
<line x1="470.3" y1="600.7" x2="466.3" y2="600.7" stroke="#333" stroke-width="0.9" />
<line x1="470.3" y1="593.7" x2="468.3" y2="593.7" stroke="#333" stroke-width="0.9" />
<line x1="470.3" y1="589.5" x2="468.3" y2="589.5" stroke="#333" stroke-width="0.9" />
<line x1="470.3" y1="586.6" x2="468.3" y2="586.6" stroke="#333" stroke-width="0.9" />
<line x1="470.3" y1="584.3" x2="468.3" y2="584.3" stroke="#333" stroke-width="0.9" />
<line x1="470.3" y1="582.5" x2="468.3" y2="582.5" stroke="#333" stroke-width="0.9" />
<line x1="470.3" y1="580.9" x2="468.3" y2="580.9" stroke="#333" stroke-width="0.9" />
<line x1="470.3" y1="579.6" x2="468.3" y2="579.6" stroke="#333" stroke-width="0.9" />
<line x1="470.3" y1="578.4" x2="468.3" y2="578.4" stroke="#333" stroke-width="0.9" />
<line x1="470.3" y1="577.3" x2="466.3" y2="577.3" stroke="#333" stroke-width="0.9" />
<line x1="470.3" y1="570.3" x2="468.3" y2="570.3" stroke="#333" stroke-width="0.9" />
<line x1="470.3" y1="566.1" x2="468.3" y2="566.1" stroke="#333" stroke-width="0.9" />
<line x1="470.3" y1="563.2" x2="468.3" y2="563.2" stroke="#333" stroke-width="0.9" />
<line x1="470.3" y1="560.9" x2="468.3" y2="560.9" stroke="#333" stroke-width="0.9" />
<line x1="470.3" y1="559.1" x2="468.3" y2="559.1" stroke="#333" stroke-width="0.9" />
<line x1="470.3" y1="557.5" x2="468.3" y2="557.5" stroke="#333" stroke-width="0.9" />
<line x1="470.3" y1="556.2" x2="468.3" y2="556.2" stroke="#333" stroke-width="0.9" />
<line x1="470.3" y1="555" x2="468.3" y2="555" stroke="#333" stroke-width="0.9" />
<line x1="470.3" y1="553.9" x2="466.3" y2="553.9" stroke="#333" stroke-width="0.9" />
<line x1="470.3" y1="546.9" x2="468.3" y2="546.9" stroke="#333" stroke-width="0.9" />
<line x1="470.3" y1="542.7" x2="468.3" y2="542.7" stroke="#333" stroke-width="0.9" />
<line x1="470.3" y1="539.8" x2="468.3" y2="539.8" stroke="#333" stroke-width="0.9" />
<line x1="470.3" y1="537.5" x2="468.3" y2="537.5" stroke="#333" stroke-width="0.9" />
<line x1="470.3" y1="535.7" x2="468.3" y2="535.7" stroke="#333" stroke-width="0.9" />
<line x1="470.3" y1="534.1" x2="468.3" y2="534.1" stroke="#333" stroke-width="0.9" />
<line x1="470.3" y1="532.8" x2="468.3" y2="532.8" stroke="#333" stroke-width="0.9" />
<line x1="470.3" y1="531.6" x2="468.3" y2="531.6" stroke="#333" stroke-width="0.9" />
<line x1="470.3" y1="530.5" x2="466.3" y2="530.5" stroke="#333" stroke-width="0.9" />
<rect x="74.6" y="524.2" width="395.7" height="193.5" fill="none" stroke="#3d3d3d" stroke-width="1.2"/>
<text x="86.7" y="540.6" font-size="20.4" fill="#111" text-anchor="start" >(c)</text>
<text x="103" y="559.2" font-size="16.9" fill="#2b35c8" text-anchor="start" >Film 101</text>
<text x="106.7" y="643.2" font-size="17.6" fill="#b8342c" text-anchor="start" >Si 111</text>
<text transform="translate(59,621.2) rotate(-90)" font-size="18.7" fill="#1a1a1a" text-anchor="middle">Intensity (arb. unit)</text>
<text x="275.6" y="758" font-size="17.5" fill="#1a1a1a" text-anchor="middle"><tspan font-family="'Liberation Serif', serif" font-style="italic">ϕ</tspan> (°)</text>
</svg>
</body></html>
